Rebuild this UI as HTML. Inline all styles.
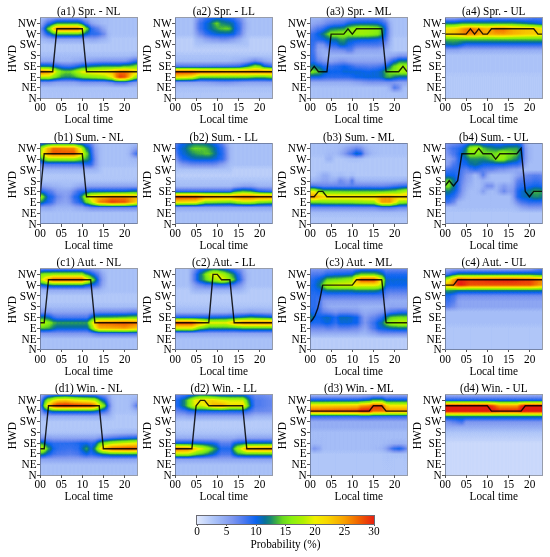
<!DOCTYPE html><html><head><meta charset="utf-8"><style>*{margin:0;padding:0;box-sizing:border-box}
html,body{width:550px;height:557px;background:#fff;overflow:hidden}
body{position:relative;font-family:"Liberation Serif","Times New Roman",serif;font-size:11.3px;color:#000}
.ax{position:absolute;width:97.2px;height:80.7px;overflow:hidden}
.hm{position:absolute;left:-12.68px;top:-4.0px;width:122.56px;height:88.7px;filter:url(#cm)}
.hm i{position:absolute;top:0;height:100%;width:12.68px;-webkit-mask-image:linear-gradient(90deg,transparent,#000 4.23px);mask-image:linear-gradient(90deg,transparent,#000 4.23px)}
.hm i.c0{left:0;width:16.90px;-webkit-mask-image:none;mask-image:none}
.fr{position:absolute;width:98.2px;height:81.7px;border:1px solid rgba(80,90,115,.6)}
.t{position:absolute;white-space:pre;line-height:1;transform:scaleY(1.08);transform-origin:50% 82%}
.tk{position:absolute;background:#555}
svg.ln{position:absolute;left:0;top:0;overflow:visible}
</style></head><body>
<svg width="0" height="0" style="position:absolute"><filter id="cm" color-interpolation-filters="sRGB" x="0" y="0" width="1" height="1"><feGaussianBlur stdDeviation="0.6"/><feComponentTransfer><feFuncR type="table" tableValues="0.886 0.85 0.813 0.776 0.74 0.703 0.667 0.638 0.609 0.58 0.55 0.52 0.49 0.44 0.39 0.34 0.29 0.227 0.165 0.102 0.039 0.037 0.034 0.031 0.067 0.102 0.176 0.251 0.329 0.408 0.45 0.492 0.533 0.573 0.612 0.651 0.69 0.753 0.816 0.878 0.941 0.949 0.957 0.965 0.973 0.973 0.973 0.973 0.973 0.973 0.973 0.966 0.96 0.954 0.947 0.941 0.935 0.929 0.922 0.916 0.91 0.898 0.886 0.875 0.863 0.851 0.839 0.827 0.816"/><feFuncG type="table" tableValues="0.918 0.892 0.865 0.839 0.813 0.787 0.761 0.733 0.706 0.678 0.65 0.621 0.592 0.562 0.531 0.501 0.471 0.451 0.431 0.412 0.392 0.408 0.424 0.439 0.49 0.541 0.616 0.69 0.769 0.847 0.878 0.91 0.941 0.941 0.941 0.941 0.941 0.941 0.941 0.941 0.941 0.918 0.894 0.871 0.847 0.81 0.774 0.737 0.701 0.664 0.627 0.577 0.527 0.477 0.427 0.376 0.326 0.276 0.226 0.176 0.125 0.118 0.11 0.102 0.094 0.086 0.078 0.071 0.063"/><feFuncB type="table" tableValues="0.992 0.99 0.987 0.984 0.98 0.976 0.973 0.967 0.962 0.957 0.952 0.946 0.941 0.941 0.941 0.941 0.941 0.941 0.941 0.941 0.941 0.829 0.716 0.604 0.522 0.439 0.345 0.251 0.188 0.125 0.105 0.084 0.063 0.047 0.031 0.016 0 0 0 0 0 0 0 0 0 0 0 0 0 0 0 0 0 0 0 0 0.013 0.025 0.038 0.05 0.063 0.059 0.055 0.051 0.047 0.043 0.039 0.035 0.031"/></feComponentTransfer></filter></svg>
<div class="ax" style="left:40.2px;top:17.7px"><div class="hm"><i class="c0" style="background:linear-gradient(#1a1a1a 4.0px,#1e1e1e 9.4px,#2d2d2d 14.8px,#262626 20.1px,#1a1a1a 25.5px,#141414 30.9px,#141414 36.3px,#1a1a1a 41.7px,#262626 47.0px,#5a5a5a 52.4px,#d2d2d2 57.8px,#878787 63.2px,#2d2d2d 68.6px,#181818 73.9px,#161616 79.3px,#161616 84.7px)"></i><i style="left:12.68px;background:linear-gradient(#1e1e1e 4.0px,#313131 9.4px,#474747 14.8px,#383838 20.1px,#1e1e1e 25.5px,#141414 30.9px,#141414 36.3px,#1a1a1a 41.7px,#262626 47.0px,#5a5a5a 52.4px,#cacaca 57.8px,#878787 63.2px,#2d2d2d 68.6px,#181818 73.9px,#161616 79.3px,#161616 84.7px)"></i><i style="left:16.90px;background:linear-gradient(#262626 4.0px,#444444 9.4px,#707070 14.8px,#4b4b4b 20.1px,#222222 25.5px,#141414 30.9px,#141414 36.3px,#1a1a1a 41.7px,#262626 47.0px,#5a5a5a 52.4px,#c3c3c3 57.8px,#878787 63.2px,#2d2d2d 68.6px,#181818 73.9px,#161616 79.3px,#161616 84.7px)"></i><i style="left:21.13px;background:linear-gradient(#292929 4.0px,#525252 9.4px,#a5a5a5 14.8px,#5e5e5e 20.1px,#262626 25.5px,#141414 30.9px,#141414 36.3px,#1a1a1a 41.7px,#262626 47.0px,#525252 52.4px,#a5a5a5 57.8px,#787878 63.2px,#292929 68.6px,#181818 73.9px,#161616 79.3px,#161616 84.7px)"></i><i style="left:25.36px;background:linear-gradient(#2d2d2d 4.0px,#626262 9.4px,#cacaca 14.8px,#696969 20.1px,#262626 25.5px,#141414 30.9px,#141414 36.3px,#1a1a1a 41.7px,#222222 47.0px,#4b4b4b 52.4px,#878787 57.8px,#6d6d6d 63.2px,#262626 68.6px,#181818 73.9px,#161616 79.3px,#161616 84.7px)"></i><i style="left:29.58px;background:linear-gradient(#2d2d2d 4.0px,#626262 9.4px,#d2d2d2 14.8px,#696969 20.1px,#262626 25.5px,#141414 30.9px,#141414 36.3px,#1a1a1a 41.7px,#1e1e1e 47.0px,#444444 52.4px,#747474 57.8px,#626262 63.2px,#262626 68.6px,#181818 73.9px,#161616 79.3px,#161616 84.7px)"></i><i style="left:33.81px;background:linear-gradient(#2d2d2d 4.0px,#626262 9.4px,#d2d2d2 14.8px,#696969 20.1px,#262626 25.5px,#141414 30.9px,#141414 36.3px,#1a1a1a 41.7px,#1e1e1e 47.0px,#404040 52.4px,#6d6d6d 57.8px,#5e5e5e 63.2px,#262626 68.6px,#181818 73.9px,#161616 79.3px,#161616 84.7px)"></i><i style="left:38.03px;background:linear-gradient(#2d2d2d 4.0px,#626262 9.4px,#d2d2d2 14.8px,#696969 20.1px,#262626 25.5px,#141414 30.9px,#141414 36.3px,#1a1a1a 41.7px,#1e1e1e 47.0px,#404040 52.4px,#6d6d6d 57.8px,#5e5e5e 63.2px,#262626 68.6px,#181818 73.9px,#161616 79.3px,#161616 84.7px)"></i><i style="left:42.26px;background:linear-gradient(#2d2d2d 4.0px,#626262 9.4px,#d2d2d2 14.8px,#696969 20.1px,#262626 25.5px,#141414 30.9px,#141414 36.3px,#1a1a1a 41.7px,#222222 47.0px,#444444 52.4px,#787878 57.8px,#626262 63.2px,#262626 68.6px,#181818 73.9px,#161616 79.3px,#161616 84.7px)"></i><i style="left:46.49px;background:linear-gradient(#2d2d2d 4.0px,#626262 9.4px,#d2d2d2 14.8px,#696969 20.1px,#262626 25.5px,#141414 30.9px,#141414 36.3px,#1a1a1a 41.7px,#222222 47.0px,#4b4b4b 52.4px,#878787 57.8px,#696969 63.2px,#292929 68.6px,#181818 73.9px,#161616 79.3px,#161616 84.7px)"></i><i style="left:50.71px;background:linear-gradient(#292929 4.0px,#525252 9.4px,#b4b4b4 14.8px,#626262 20.1px,#262626 25.5px,#141414 30.9px,#141414 36.3px,#1a1a1a 41.7px,#262626 47.0px,#525252 52.4px,#969696 57.8px,#707070 63.2px,#2d2d2d 68.6px,#181818 73.9px,#161616 79.3px,#161616 84.7px)"></i><i style="left:54.94px;background:linear-gradient(#222222 4.0px,#3c3c3c 9.4px,#707070 14.8px,#4f4f4f 20.1px,#222222 25.5px,#141414 30.9px,#141414 36.3px,#1a1a1a 41.7px,#272727 47.0px,#565656 52.4px,#9a9a9a 57.8px,#747474 63.2px,#2d2d2d 68.6px,#181818 73.9px,#161616 79.3px,#161616 84.7px)"></i><i style="left:59.17px;background:linear-gradient(#1a1a1a 4.0px,#292929 9.4px,#474747 14.8px,#444444 20.1px,#262626 25.5px,#141414 30.9px,#141414 36.3px,#1a1a1a 41.7px,#292929 47.0px,#5a5a5a 52.4px,#9e9e9e 57.8px,#787878 63.2px,#2d2d2d 68.6px,#181818 73.9px,#161616 79.3px,#161616 84.7px)"></i><i style="left:63.39px;background:linear-gradient(#1a1a1a 4.0px,#222222 9.4px,#3c3c3c 14.8px,#444444 20.1px,#262626 25.5px,#141414 30.9px,#141414 36.3px,#1a1a1a 41.7px,#2b2b2b 47.0px,#5d5d5d 52.4px,#a0a0a0 57.8px,#7a7a7a 63.2px,#2d2d2d 68.6px,#181818 73.9px,#161616 79.3px,#161616 84.7px)"></i><i style="left:67.62px;background:linear-gradient(#1a1a1a 4.0px,#1e1e1e 9.4px,#343434 14.8px,#404040 20.1px,#222222 25.5px,#141414 30.9px,#141414 36.3px,#1a1a1a 41.7px,#2c2c2c 47.0px,#5f5f5f 52.4px,#a3a3a3 57.8px,#7d7d7d 63.2px,#2d2d2d 68.6px,#181818 73.9px,#161616 79.3px,#161616 84.7px)"></i><i style="left:71.84px;background:linear-gradient(#1a1a1a 4.0px,#1a1a1a 9.4px,#262626 14.8px,#343434 20.1px,#1e1e1e 25.5px,#141414 30.9px,#141414 36.3px,#1a1a1a 41.7px,#2d2d2d 47.0px,#626262 52.4px,#a5a5a5 57.8px,#808080 63.2px,#2d2d2d 68.6px,#181818 73.9px,#161616 79.3px,#161616 84.7px)"></i><i style="left:76.07px;background:linear-gradient(#1a1a1a 4.0px,#1a1a1a 14.8px,#1e1e1e 20.1px,#1a1a1a 25.5px,#141414 30.9px,#141414 36.3px,#1a1a1a 41.7px,#2d2d2d 47.0px,#626262 52.4px,#acacac 57.8px,#8b8b8b 63.2px,#313131 68.6px,#181818 73.9px,#161616 79.3px,#161616 84.7px)"></i><i style="left:80.30px;background:linear-gradient(#181818 4.0px,#181818 20.1px,#141414 25.5px,#141414 36.3px,#1a1a1a 41.7px,#2d2d2d 47.0px,#626262 52.4px,#b4b4b4 57.8px,#969696 63.2px,#343434 68.6px,#181818 73.9px,#161616 79.3px,#161616 84.7px)"></i><i style="left:84.52px;background:linear-gradient(#181818 4.0px,#181818 20.1px,#141414 25.5px,#141414 36.3px,#1a1a1a 41.7px,#2d2d2d 47.0px,#626262 52.4px,#c3c3c3 57.8px,#c3c3c3 63.2px,#3c3c3c 68.6px,#181818 73.9px,#161616 79.3px,#161616 84.7px)"></i><i style="left:88.75px;background:linear-gradient(#181818 4.0px,#181818 20.1px,#141414 25.5px,#141414 36.3px,#1a1a1a 41.7px,#2d2d2d 47.0px,#626262 52.4px,#cacaca 57.8px,#dadada 63.2px,#3c3c3c 68.6px,#181818 73.9px,#161616 79.3px,#161616 84.7px)"></i><i style="left:92.97px;background:linear-gradient(#181818 4.0px,#181818 20.1px,#141414 25.5px,#141414 36.3px,#1a1a1a 41.7px,#2d2d2d 47.0px,#696969 52.4px,#cacaca 57.8px,#d2d2d2 63.2px,#3c3c3c 68.6px,#181818 73.9px,#161616 79.3px,#161616 84.7px)"></i><i style="left:97.20px;background:linear-gradient(#181818 4.0px,#181818 20.1px,#141414 25.5px,#141414 36.3px,#1a1a1a 41.7px,#343434 47.0px,#696969 52.4px,#c3c3c3 57.8px,#b4b4b4 63.2px,#343434 68.6px,#181818 73.9px,#161616 79.3px,#161616 84.7px)"></i><i style="left:101.43px;background:linear-gradient(#181818 4.0px,#181818 20.1px,#141414 25.5px,#141414 36.3px,#1e1e1e 41.7px,#3c3c3c 47.0px,#707070 52.4px,#b4b4b4 57.8px,#8e8e8e 63.2px,#2d2d2d 68.6px,#181818 73.9px,#161616 79.3px,#161616 84.7px)"></i><i style="left:105.65px;background:linear-gradient(#181818 4.0px,#181818 20.1px,#141414 25.5px,#141414 36.3px,#1e1e1e 41.7px,#444444 47.0px,#787878 52.4px,#a5a5a5 57.8px,#787878 63.2px,#292929 68.6px,#181818 73.9px,#161616 79.3px,#161616 84.7px)"></i></div><svg class="ln" width="97.2" height="80.7" viewBox="0 0 97.2 80.7"><polyline points="0.0,53.8 4.2,53.8 8.5,53.8 12.7,53.8 16.9,10.8 21.1,10.8 25.4,10.8 29.6,10.8 33.8,10.8 38.0,10.8 42.3,10.8 46.5,53.8 50.7,53.8 54.9,53.8 59.2,53.8 63.4,53.8 67.6,53.8 71.8,53.8 76.1,53.8 80.3,53.8 84.5,53.8 88.7,53.8 93.0,53.8 97.2,53.8" fill="none" stroke="#000" stroke-opacity=".85" stroke-width="1.4" stroke-linejoin="miter"/></svg></div>
<div class="fr" style="left:39.7px;top:17.2px"></div>
<div class="t" style="left:48.8px;width:80px;text-align:center;top:6.2px">(a1) Spr. - NL</div>
<div class="tk" style="left:37.4px;top:98.0px;width:2.8px;height:0.8px"></div>
<div class="t" style="right:513.4px;top:93.1px">N</div>
<div class="tk" style="left:37.4px;top:87.2px;width:2.8px;height:0.8px"></div>
<div class="t" style="right:513.4px;top:82.3px">NE</div>
<div class="tk" style="left:37.4px;top:76.5px;width:2.8px;height:0.8px"></div>
<div class="t" style="right:513.4px;top:71.6px">E</div>
<div class="tk" style="left:37.4px;top:65.7px;width:2.8px;height:0.8px"></div>
<div class="t" style="right:513.4px;top:60.8px">SE</div>
<div class="tk" style="left:37.4px;top:55.0px;width:2.8px;height:0.8px"></div>
<div class="t" style="right:513.4px;top:50.1px">S</div>
<div class="tk" style="left:37.4px;top:44.2px;width:2.8px;height:0.8px"></div>
<div class="t" style="right:513.4px;top:39.3px">SW</div>
<div class="tk" style="left:37.4px;top:33.4px;width:2.8px;height:0.8px"></div>
<div class="t" style="right:513.4px;top:28.5px">W</div>
<div class="tk" style="left:37.4px;top:22.7px;width:2.8px;height:0.8px"></div>
<div class="t" style="right:513.4px;top:17.8px">NW</div>
<div class="tk" style="left:39.8px;top:98.4px;width:0.8px;height:2.8px"></div>
<div class="t" style="left:25.2px;width:30px;text-align:center;top:102.4px">00</div>
<div class="tk" style="left:60.9px;top:98.4px;width:0.8px;height:2.8px"></div>
<div class="t" style="left:46.3px;width:30px;text-align:center;top:102.4px">05</div>
<div class="tk" style="left:82.1px;top:98.4px;width:0.8px;height:2.8px"></div>
<div class="t" style="left:67.5px;width:30px;text-align:center;top:102.4px">10</div>
<div class="tk" style="left:103.2px;top:98.4px;width:0.8px;height:2.8px"></div>
<div class="t" style="left:88.6px;width:30px;text-align:center;top:102.4px">15</div>
<div class="tk" style="left:124.3px;top:98.4px;width:0.8px;height:2.8px"></div>
<div class="t" style="left:109.7px;width:30px;text-align:center;top:102.4px">20</div>
<div class="t" style="left:58.8px;width:60px;text-align:center;top:114.4px">Local time</div>
<div class="t" style="left:-3.2px;top:53.0px;width:30px;text-align:center;transform-origin:50% 50%;transform:rotate(-90deg) scaleY(1.08)">HWD</div>
<div class="ax" style="left:175.2px;top:17.7px"><div class="hm"><i class="c0" style="background:linear-gradient(#181818 4.0px,#181818 20.1px,#101010 25.5px,#101010 36.3px,#161616 41.7px,#1a1a1a 47.0px,#3c3c3c 52.4px,#dadada 57.8px,#a5a5a5 63.2px,#262626 68.6px,#181818 73.9px,#151515 79.3px,#151515 84.7px)"></i><i style="left:12.68px;background:linear-gradient(#181818 4.0px,#181818 20.1px,#101010 25.5px,#101010 36.3px,#161616 41.7px,#1a1a1a 47.0px,#3c3c3c 52.4px,#dadada 57.8px,#a1a1a1 63.2px,#262626 68.6px,#181818 73.9px,#151515 79.3px,#151515 84.7px)"></i><i style="left:16.90px;background:linear-gradient(#181818 4.0px,#181818 20.1px,#101010 25.5px,#101010 36.3px,#161616 41.7px,#1a1a1a 47.0px,#3c3c3c 52.4px,#dadada 57.8px,#9e9e9e 63.2px,#262626 68.6px,#181818 73.9px,#151515 79.3px,#151515 84.7px)"></i><i style="left:21.13px;background:linear-gradient(#181818 4.0px,#181818 20.1px,#101010 25.5px,#101010 36.3px,#161616 41.7px,#1a1a1a 47.0px,#3c3c3c 52.4px,#dadada 57.8px,#9a9a9a 63.2px,#262626 68.6px,#181818 73.9px,#151515 79.3px,#151515 84.7px)"></i><i style="left:25.36px;background:linear-gradient(#181818 4.0px,#181818 20.1px,#101010 25.5px,#101010 36.3px,#161616 41.7px,#1a1a1a 47.0px,#3c3c3c 52.4px,#dadada 57.8px,#969696 63.2px,#262626 68.6px,#181818 73.9px,#151515 79.3px,#151515 84.7px)"></i><i style="left:29.58px;background:linear-gradient(#262626 4.0px,#2d2d2d 9.4px,#2d2d2d 14.8px,#262626 20.1px,#1a1a1a 25.5px,#161616 30.9px,#101010 36.3px,#161616 41.7px,#1a1a1a 47.0px,#3c3c3c 52.4px,#d6d6d6 57.8px,#838383 63.2px,#262626 68.6px,#181818 73.9px,#151515 79.3px,#151515 84.7px)"></i><i style="left:33.81px;background:linear-gradient(#343434 4.0px,#404040 9.4px,#404040 14.8px,#343434 20.1px,#1e1e1e 25.5px,#161616 30.9px,#101010 36.3px,#161616 41.7px,#1a1a1a 47.0px,#3c3c3c 52.4px,#d2d2d2 57.8px,#707070 63.2px,#262626 68.6px,#181818 73.9px,#151515 79.3px,#151515 84.7px)"></i><i style="left:38.03px;background:linear-gradient(#404040 4.0px,#4b4b4b 9.4px,#4b4b4b 14.8px,#404040 20.1px,#262626 25.5px,#161616 30.9px,#101010 36.3px,#161616 41.7px,#1a1a1a 47.0px,#3d3d3d 52.4px,#d1d1d1 57.8px,#707070 63.2px,#272727 68.6px,#181818 73.9px,#151515 79.3px,#151515 84.7px)"></i><i style="left:42.26px;background:linear-gradient(#444444 4.0px,#525252 9.4px,#525252 14.8px,#474747 20.1px,#292929 25.5px,#161616 30.9px,#101010 36.3px,#161616 41.7px,#1a1a1a 47.0px,#3d3d3d 52.4px,#d0d0d0 57.8px,#707070 63.2px,#282828 68.6px,#181818 73.9px,#151515 79.3px,#151515 84.7px)"></i><i style="left:46.49px;background:linear-gradient(#474747 4.0px,#626262 9.4px,#5a5a5a 14.8px,#4b4b4b 20.1px,#2d2d2d 25.5px,#161616 30.9px,#101010 36.3px,#161616 41.7px,#1a1a1a 47.0px,#3e3e3e 52.4px,#cecece 57.8px,#707070 63.2px,#292929 68.6px,#181818 73.9px,#151515 79.3px,#151515 84.7px)"></i><i style="left:50.71px;background:linear-gradient(#4b4b4b 4.0px,#6d6d6d 9.4px,#626262 14.8px,#4f4f4f 20.1px,#2d2d2d 25.5px,#161616 30.9px,#101010 36.3px,#161616 41.7px,#1a1a1a 47.0px,#3f3f3f 52.4px,#cdcdcd 57.8px,#707070 63.2px,#2b2b2b 68.6px,#181818 73.9px,#151515 79.3px,#151515 84.7px)"></i><i style="left:54.94px;background:linear-gradient(#4b4b4b 4.0px,#5e5e5e 9.4px,#696969 14.8px,#4f4f4f 20.1px,#313131 25.5px,#161616 30.9px,#101010 36.3px,#161616 41.7px,#1a1a1a 47.0px,#3f3f3f 52.4px,#cccccc 57.8px,#707070 63.2px,#2c2c2c 68.6px,#181818 73.9px,#151515 79.3px,#151515 84.7px)"></i><i style="left:59.17px;background:linear-gradient(#474747 4.0px,#6d6d6d 14.8px,#313131 25.5px,#161616 30.9px,#101010 36.3px,#161616 41.7px,#1a1a1a 47.0px,#404040 52.4px,#cacaca 57.8px,#707070 63.2px,#2d2d2d 68.6px,#181818 73.9px,#151515 79.3px,#151515 84.7px)"></i><i style="left:63.39px;background:linear-gradient(#444444 4.0px,#696969 14.8px,#4f4f4f 20.1px,#2d2d2d 25.5px,#161616 30.9px,#101010 36.3px,#1b1b1b 47.0px,#414141 52.4px,#cacaca 57.8px,#707070 63.2px,#2c2c2c 68.6px,#181818 73.9px,#151515 79.3px,#151515 84.7px)"></i><i style="left:67.62px;background:linear-gradient(#404040 4.0px,#4f4f4f 9.4px,#525252 14.8px,#4b4b4b 20.1px,#292929 25.5px,#161616 30.9px,#101010 36.3px,#1d1d1d 47.0px,#424242 52.4px,#cacaca 57.8px,#707070 63.2px,#2b2b2b 68.6px,#181818 73.9px,#151515 79.3px,#151515 84.7px)"></i><i style="left:71.84px;background:linear-gradient(#343434 4.0px,#404040 9.4px,#444444 14.8px,#3c3c3c 20.1px,#222222 25.5px,#161616 30.9px,#101010 36.3px,#161616 41.7px,#1e1e1e 47.0px,#444444 52.4px,#cacaca 57.8px,#707070 63.2px,#292929 68.6px,#181818 73.9px,#151515 79.3px,#151515 84.7px)"></i><i style="left:76.07px;background:linear-gradient(#262626 4.0px,#2d2d2d 9.4px,#2d2d2d 14.8px,#292929 20.1px,#1a1a1a 25.5px,#161616 30.9px,#101010 36.3px,#161616 41.7px,#222222 47.0px,#4f4f4f 52.4px,#cacaca 57.8px,#707070 63.2px,#272727 68.6px,#181818 73.9px,#151515 79.3px,#151515 84.7px)"></i><i style="left:80.30px;background:linear-gradient(#1a1a1a 4.0px,#1e1e1e 9.4px,#1e1e1e 14.8px,#161616 25.5px,#161616 30.9px,#101010 36.3px,#161616 41.7px,#262626 47.0px,#5a5a5a 52.4px,#cacaca 57.8px,#707070 63.2px,#262626 68.6px,#181818 73.9px,#151515 79.3px,#151515 84.7px)"></i><i style="left:84.52px;background:linear-gradient(#181818 4.0px,#181818 20.1px,#101010 25.5px,#101010 36.3px,#161616 41.7px,#2d2d2d 47.0px,#696969 52.4px,#cacaca 57.8px,#6d6d6d 63.2px,#262626 68.6px,#181818 73.9px,#151515 79.3px,#151515 84.7px)"></i><i style="left:88.75px;background:linear-gradient(#181818 4.0px,#181818 20.1px,#101010 25.5px,#101010 36.3px,#161616 41.7px,#343434 47.0px,#787878 52.4px,#cacaca 57.8px,#696969 63.2px,#262626 68.6px,#181818 73.9px,#151515 79.3px,#151515 84.7px)"></i><i style="left:92.97px;background:linear-gradient(#181818 4.0px,#181818 20.1px,#101010 25.5px,#101010 36.3px,#161616 41.7px,#2d2d2d 47.0px,#707070 52.4px,#cacaca 57.8px,#696969 63.2px,#262626 68.6px,#181818 73.9px,#151515 79.3px,#151515 84.7px)"></i><i style="left:97.20px;background:linear-gradient(#181818 4.0px,#181818 20.1px,#101010 25.5px,#101010 36.3px,#161616 41.7px,#262626 47.0px,#525252 52.4px,#cacaca 57.8px,#696969 63.2px,#262626 68.6px,#181818 73.9px,#151515 79.3px,#151515 84.7px)"></i><i style="left:101.43px;background:linear-gradient(#181818 4.0px,#181818 20.1px,#101010 25.5px,#101010 36.3px,#161616 41.7px,#222222 47.0px,#4b4b4b 52.4px,#cacaca 57.8px,#6d6d6d 63.2px,#262626 68.6px,#181818 73.9px,#151515 79.3px,#151515 84.7px)"></i><i style="left:105.65px;background:linear-gradient(#181818 4.0px,#181818 20.1px,#101010 25.5px,#101010 36.3px,#161616 41.7px,#1e1e1e 47.0px,#444444 52.4px,#cacaca 57.8px,#707070 63.2px,#262626 68.6px,#181818 73.9px,#151515 79.3px,#151515 84.7px)"></i></div><svg class="ln" width="97.2" height="80.7" viewBox="0 0 97.2 80.7"><polyline points="0.0,53.8 4.2,53.8 8.5,53.8 12.7,53.8 16.9,53.8 21.1,53.8 25.4,53.8 29.6,53.8 33.8,53.8 38.0,53.8 42.3,53.8 46.5,53.8 50.7,53.8 54.9,53.8 59.2,53.8 63.4,53.8 67.6,53.8 71.8,53.8 76.1,53.8 80.3,53.8 84.5,53.8 88.7,53.8 93.0,53.8 97.2,53.8" fill="none" stroke="#000" stroke-opacity=".85" stroke-width="1.4" stroke-linejoin="miter"/></svg></div>
<div class="fr" style="left:174.7px;top:17.2px"></div>
<div class="t" style="left:183.8px;width:80px;text-align:center;top:6.2px">(a2) Spr. - LL</div>
<div class="tk" style="left:172.4px;top:98.0px;width:2.8px;height:0.8px"></div>
<div class="t" style="right:378.4px;top:93.1px">N</div>
<div class="tk" style="left:172.4px;top:87.2px;width:2.8px;height:0.8px"></div>
<div class="t" style="right:378.4px;top:82.3px">NE</div>
<div class="tk" style="left:172.4px;top:76.5px;width:2.8px;height:0.8px"></div>
<div class="t" style="right:378.4px;top:71.6px">E</div>
<div class="tk" style="left:172.4px;top:65.7px;width:2.8px;height:0.8px"></div>
<div class="t" style="right:378.4px;top:60.8px">SE</div>
<div class="tk" style="left:172.4px;top:55.0px;width:2.8px;height:0.8px"></div>
<div class="t" style="right:378.4px;top:50.1px">S</div>
<div class="tk" style="left:172.4px;top:44.2px;width:2.8px;height:0.8px"></div>
<div class="t" style="right:378.4px;top:39.3px">SW</div>
<div class="tk" style="left:172.4px;top:33.4px;width:2.8px;height:0.8px"></div>
<div class="t" style="right:378.4px;top:28.5px">W</div>
<div class="tk" style="left:172.4px;top:22.7px;width:2.8px;height:0.8px"></div>
<div class="t" style="right:378.4px;top:17.8px">NW</div>
<div class="tk" style="left:174.8px;top:98.4px;width:0.8px;height:2.8px"></div>
<div class="t" style="left:160.2px;width:30px;text-align:center;top:102.4px">00</div>
<div class="tk" style="left:195.9px;top:98.4px;width:0.8px;height:2.8px"></div>
<div class="t" style="left:181.3px;width:30px;text-align:center;top:102.4px">05</div>
<div class="tk" style="left:217.1px;top:98.4px;width:0.8px;height:2.8px"></div>
<div class="t" style="left:202.5px;width:30px;text-align:center;top:102.4px">10</div>
<div class="tk" style="left:238.2px;top:98.4px;width:0.8px;height:2.8px"></div>
<div class="t" style="left:223.6px;width:30px;text-align:center;top:102.4px">15</div>
<div class="tk" style="left:259.3px;top:98.4px;width:0.8px;height:2.8px"></div>
<div class="t" style="left:244.7px;width:30px;text-align:center;top:102.4px">20</div>
<div class="t" style="left:193.8px;width:60px;text-align:center;top:114.4px">Local time</div>
<div class="t" style="left:131.8px;top:53.0px;width:30px;text-align:center;transform-origin:50% 50%;transform:rotate(-90deg) scaleY(1.08)">HWD</div>
<div class="ax" style="left:310.2px;top:17.7px"><div class="hm"><i class="c0" style="background:linear-gradient(#1e1e1e 4.0px,#222222 9.4px,#2d2d2d 14.8px,#404040 20.1px,#444444 25.5px,#444444 47.0px,#5a5a5a 52.4px,#787878 57.8px,#4b4b4b 63.2px,#222222 68.6px,#181818 73.9px,#181818 84.7px)"></i><i style="left:12.68px;background:linear-gradient(#1e1e1e 4.0px,#262626 9.4px,#343434 14.8px,#444444 20.1px,#444444 25.5px,#3c3c3c 36.3px,#444444 47.0px,#707070 57.8px,#4b4b4b 63.2px,#222222 68.6px,#181818 73.9px,#181818 84.7px)"></i><i style="left:16.90px;background:linear-gradient(#1e1e1e 4.0px,#292929 9.4px,#4f4f4f 20.1px,#474747 25.5px,#2d2d2d 30.9px,#262626 36.3px,#292929 41.7px,#343434 47.0px,#525252 52.4px,#696969 57.8px,#4b4b4b 63.2px,#222222 68.6px,#181818 73.9px,#181818 84.7px)"></i><i style="left:21.13px;background:linear-gradient(#222222 4.0px,#2d2d2d 9.4px,#5a5a5a 20.1px,#4b4b4b 25.5px,#2d2d2d 30.9px,#222222 36.3px,#222222 41.7px,#2d2d2d 47.0px,#474747 52.4px,#5a5a5a 57.8px,#474747 63.2px,#222222 68.6px,#181818 73.9px,#181818 84.7px)"></i><i style="left:25.36px;background:linear-gradient(#262626 4.0px,#343434 9.4px,#696969 20.1px,#262626 36.3px,#1e1e1e 41.7px,#292929 47.0px,#444444 52.4px,#4f4f4f 57.8px,#444444 63.2px,#222222 68.6px,#181818 73.9px,#181818 84.7px)"></i><i style="left:29.58px;background:linear-gradient(#262626 4.0px,#383838 9.4px,#5a5a5a 14.8px,#787878 20.1px,#565656 25.5px,#444444 30.9px,#2d2d2d 36.3px,#1e1e1e 41.7px,#262626 47.0px,#404040 52.4px,#4b4b4b 57.8px,#444444 63.2px,#222222 68.6px,#181818 73.9px,#181818 84.7px)"></i><i style="left:33.81px;background:linear-gradient(#272727 4.0px,#3b3b3b 9.4px,#5d5d5d 14.8px,#797979 20.1px,#585858 25.5px,#464646 30.9px,#2e2e2e 36.3px,#1e1e1e 41.7px,#292929 47.0px,#444444 52.4px,#4b4b4b 57.8px,#444444 63.2px,#222222 68.6px,#181818 73.9px,#181818 84.7px)"></i><i style="left:38.03px;background:linear-gradient(#282828 4.0px,#3d3d3d 9.4px,#5f5f5f 14.8px,#7b7b7b 20.1px,#626262 25.5px,#535353 30.9px,#303030 36.3px,#1e1e1e 41.7px,#2d2d2d 47.0px,#474747 52.4px,#4b4b4b 57.8px,#444444 63.2px,#222222 68.6px,#181818 73.9px,#181818 84.7px)"></i><i style="left:42.26px;background:linear-gradient(#292929 4.0px,#404040 9.4px,#626262 14.8px,#7c7c7c 20.1px,#636363 25.5px,#555555 30.9px,#323232 36.3px,#1e1e1e 41.7px,#2d2d2d 47.0px,#4b4b4b 52.4px,#4f4f4f 57.8px,#444444 63.2px,#222222 68.6px,#181818 73.9px,#181818 84.7px)"></i><i style="left:46.49px;background:linear-gradient(#2d2d2d 4.0px,#4b4b4b 9.4px,#717171 14.8px,#787878 20.1px,#575757 25.5px,#4a4a4a 30.9px,#3a3a3a 36.3px,#1f1f1f 41.7px,#292929 47.0px,#474747 52.4px,#4f4f4f 57.8px,#444444 63.2px,#222222 68.6px,#181818 73.9px,#181818 84.7px)"></i><i style="left:50.71px;background:linear-gradient(#313131 4.0px,#4f4f4f 9.4px,#787878 14.8px,#7c7c7c 20.1px,#535353 25.5px,#464646 30.9px,#373737 36.3px,#1f1f1f 41.7px,#272727 47.0px,#424242 52.4px,#4f4f4f 57.8px,#474747 63.2px,#242424 68.6px,#181818 73.9px,#181818 84.7px)"></i><i style="left:54.94px;background:linear-gradient(#333333 4.0px,#515151 9.4px,#7e7e7e 14.8px,#7e7e7e 20.1px,#515151 25.5px,#3e3e3e 30.9px,#282828 36.3px,#1e1e1e 41.7px,#262626 47.0px,#3c3c3c 52.4px,#4f4f4f 57.8px,#4b4b4b 63.2px,#262626 68.6px,#181818 73.9px,#181818 84.7px)"></i><i style="left:59.17px;background:linear-gradient(#343434 4.0px,#525252 9.4px,#838383 14.8px,#808080 20.1px,#4f4f4f 25.5px,#3c3c3c 30.9px,#262626 36.3px,#1e1e1e 41.7px,#262626 47.0px,#3b3b3b 52.4px,#4e4e4e 57.8px,#4c4c4c 63.2px,#282828 68.6px,#181818 73.9px,#181818 84.7px)"></i><i style="left:63.39px;background:linear-gradient(#343434 4.0px,#525252 9.4px,#818181 14.8px,#7e7e7e 20.1px,#4f4f4f 25.5px,#3c3c3c 30.9px,#262626 36.3px,#1e1e1e 41.7px,#262626 47.0px,#3a3a3a 52.4px,#4c4c4c 57.8px,#4e4e4e 63.2px,#2b2b2b 68.6px,#181818 73.9px,#181818 84.7px)"></i><i style="left:67.62px;background:linear-gradient(#343434 4.0px,#525252 9.4px,#808080 14.8px,#7c7c7c 20.1px,#4f4f4f 25.5px,#3c3c3c 30.9px,#262626 36.3px,#1e1e1e 41.7px,#262626 47.0px,#4b4b4b 57.8px,#4f4f4f 63.2px,#2d2d2d 68.6px,#181818 73.9px,#181818 84.7px)"></i><i style="left:71.84px;background:linear-gradient(#343434 4.0px,#515151 9.4px,#7c7c7c 14.8px,#787878 20.1px,#4d4d4d 25.5px,#3c3c3c 30.9px,#262626 36.3px,#1e1e1e 41.7px,#262626 47.0px,#4d4d4d 57.8px,#4f4f4f 63.2px,#2d2d2d 68.6px,#181818 73.9px,#181818 84.7px)"></i><i style="left:76.07px;background:linear-gradient(#343434 4.0px,#4f4f4f 9.4px,#787878 14.8px,#747474 20.1px,#4b4b4b 25.5px,#3c3c3c 30.9px,#262626 36.3px,#1e1e1e 41.7px,#262626 47.0px,#3c3c3c 52.4px,#4f4f4f 57.8px,#4f4f4f 63.2px,#2d2d2d 68.6px,#181818 73.9px,#181818 84.7px)"></i><i style="left:80.30px;background:linear-gradient(#313131 4.0px,#474747 9.4px,#656565 14.8px,#626262 20.1px,#474747 25.5px,#383838 30.9px,#222222 36.3px,#1e1e1e 41.7px,#262626 47.0px,#404040 52.4px,#565656 57.8px,#535353 63.2px,#2d2d2d 68.6px,#181818 73.9px,#181818 84.7px)"></i><i style="left:84.52px;background:linear-gradient(#262626 4.0px,#3c3c3c 9.4px,#474747 14.8px,#444444 20.1px,#3c3c3c 25.5px,#1e1e1e 36.3px,#1e1e1e 41.7px,#2d2d2d 47.0px,#696969 57.8px,#626262 63.2px,#2d2d2d 68.6px,#191919 73.9px,#181818 84.7px)"></i><i style="left:88.75px;background:linear-gradient(#1a1a1a 4.0px,#222222 9.4px,#262626 14.8px,#262626 20.1px,#1a1a1a 36.3px,#222222 41.7px,#3c3c3c 47.0px,#5a5a5a 52.4px,#717171 57.8px,#656565 63.2px,#2e2e2e 68.6px,#222222 73.9px,#181818 79.3px,#181818 84.7px)"></i><i style="left:92.97px;background:linear-gradient(#181818 4.0px,#181818 20.1px,#141414 25.5px,#141414 36.3px,#262626 41.7px,#707070 52.4px,#787878 57.8px,#5a5a5a 63.2px,#2c2c2c 68.6px,#3a3a3a 73.9px,#191919 79.3px,#181818 84.7px)"></i><i style="left:97.20px;background:linear-gradient(#181818 4.0px,#181818 20.1px,#141414 25.5px,#141414 36.3px,#2d2d2d 41.7px,#5a5a5a 47.0px,#808080 52.4px,#808080 57.8px,#535353 63.2px,#282828 68.6px,#313131 73.9px,#191919 79.3px,#181818 84.7px)"></i><i style="left:101.43px;background:linear-gradient(#181818 4.0px,#181818 20.1px,#141414 25.5px,#141414 36.3px,#2d2d2d 41.7px,#5a5a5a 47.0px,#808080 52.4px,#808080 57.8px,#262626 68.6px,#1c1c1c 73.9px,#181818 79.3px,#181818 84.7px)"></i><i style="left:105.65px;background:linear-gradient(#181818 4.0px,#181818 20.1px,#141414 25.5px,#141414 36.3px,#2d2d2d 41.7px,#5a5a5a 47.0px,#808080 52.4px,#808080 57.8px,#262626 68.6px,#181818 73.9px,#181818 84.7px)"></i></div><svg class="ln" width="97.2" height="80.7" viewBox="0 0 97.2 80.7"><polyline points="0.0,53.8 4.2,48.4 8.5,53.8 12.7,53.8 16.9,53.8 21.1,16.1 25.4,16.1 29.6,16.1 33.8,16.1 38.0,10.8 42.3,16.1 46.5,10.8 50.7,10.8 54.9,10.8 59.2,10.8 63.4,10.8 67.6,10.8 71.8,10.8 76.1,53.8 80.3,53.8 84.5,53.8 88.7,53.8 93.0,48.4 97.2,53.8" fill="none" stroke="#000" stroke-opacity=".85" stroke-width="1.4" stroke-linejoin="miter"/></svg></div>
<div class="fr" style="left:309.7px;top:17.2px"></div>
<div class="t" style="left:318.8px;width:80px;text-align:center;top:6.2px">(a3) Spr. - ML</div>
<div class="tk" style="left:307.4px;top:98.0px;width:2.8px;height:0.8px"></div>
<div class="t" style="right:243.4px;top:93.1px">N</div>
<div class="tk" style="left:307.4px;top:87.2px;width:2.8px;height:0.8px"></div>
<div class="t" style="right:243.4px;top:82.3px">NE</div>
<div class="tk" style="left:307.4px;top:76.5px;width:2.8px;height:0.8px"></div>
<div class="t" style="right:243.4px;top:71.6px">E</div>
<div class="tk" style="left:307.4px;top:65.7px;width:2.8px;height:0.8px"></div>
<div class="t" style="right:243.4px;top:60.8px">SE</div>
<div class="tk" style="left:307.4px;top:55.0px;width:2.8px;height:0.8px"></div>
<div class="t" style="right:243.4px;top:50.1px">S</div>
<div class="tk" style="left:307.4px;top:44.2px;width:2.8px;height:0.8px"></div>
<div class="t" style="right:243.4px;top:39.3px">SW</div>
<div class="tk" style="left:307.4px;top:33.4px;width:2.8px;height:0.8px"></div>
<div class="t" style="right:243.4px;top:28.5px">W</div>
<div class="tk" style="left:307.4px;top:22.7px;width:2.8px;height:0.8px"></div>
<div class="t" style="right:243.4px;top:17.8px">NW</div>
<div class="tk" style="left:309.8px;top:98.4px;width:0.8px;height:2.8px"></div>
<div class="t" style="left:295.2px;width:30px;text-align:center;top:102.4px">00</div>
<div class="tk" style="left:330.9px;top:98.4px;width:0.8px;height:2.8px"></div>
<div class="t" style="left:316.3px;width:30px;text-align:center;top:102.4px">05</div>
<div class="tk" style="left:352.1px;top:98.4px;width:0.8px;height:2.8px"></div>
<div class="t" style="left:337.5px;width:30px;text-align:center;top:102.4px">10</div>
<div class="tk" style="left:373.2px;top:98.4px;width:0.8px;height:2.8px"></div>
<div class="t" style="left:358.6px;width:30px;text-align:center;top:102.4px">15</div>
<div class="tk" style="left:394.3px;top:98.4px;width:0.8px;height:2.8px"></div>
<div class="t" style="left:379.7px;width:30px;text-align:center;top:102.4px">20</div>
<div class="t" style="left:328.8px;width:60px;text-align:center;top:114.4px">Local time</div>
<div class="t" style="left:266.8px;top:53.0px;width:30px;text-align:center;transform-origin:50% 50%;transform:rotate(-90deg) scaleY(1.08)">HWD</div>
<div class="ax" style="left:445.2px;top:17.7px"><div class="hm"><i class="c0" style="background:linear-gradient(#262626 4.0px,#5a5a5a 9.4px,#9e9e9e 14.8px,#a9a9a9 20.1px,#696969 25.5px,#525252 30.9px,#262626 36.3px,#161616 41.7px,#161616 57.8px,#131313 63.2px,#131313 84.7px)"></i><i style="left:12.68px;background:linear-gradient(#262626 4.0px,#5a5a5a 9.4px,#a1a1a1 14.8px,#acacac 20.1px,#696969 25.5px,#545454 30.9px,#262626 36.3px,#161616 41.7px,#161616 57.8px,#131313 63.2px,#131313 84.7px)"></i><i style="left:16.90px;background:linear-gradient(#262626 4.0px,#5a5a5a 9.4px,#a5a5a5 14.8px,#b0b0b0 20.1px,#696969 25.5px,#565656 30.9px,#262626 36.3px,#161616 41.7px,#161616 57.8px,#131313 63.2px,#131313 84.7px)"></i><i style="left:21.13px;background:linear-gradient(#292929 4.0px,#5e5e5e 9.4px,#acacac 14.8px,#b8b8b8 20.1px,#696969 25.5px,#525252 30.9px,#262626 36.3px,#161616 41.7px,#161616 57.8px,#131313 63.2px,#131313 84.7px)"></i><i style="left:25.36px;background:linear-gradient(#2d2d2d 4.0px,#626262 9.4px,#bcbcbc 14.8px,#bfbfbf 20.1px,#696969 25.5px,#4b4b4b 30.9px,#222222 36.3px,#161616 41.7px,#161616 57.8px,#131313 63.2px,#131313 84.7px)"></i><i style="left:29.58px;background:linear-gradient(#313131 4.0px,#626262 9.4px,#c3c3c3 14.8px,#c7c7c7 20.1px,#696969 25.5px,#444444 30.9px,#222222 36.3px,#161616 41.7px,#161616 57.8px,#131313 63.2px,#131313 84.7px)"></i><i style="left:33.81px;background:linear-gradient(#313131 4.0px,#626262 9.4px,#cacaca 14.8px,#c3c3c3 20.1px,#696969 25.5px,#444444 30.9px,#222222 36.3px,#161616 41.7px,#161616 57.8px,#131313 63.2px,#131313 84.7px)"></i><i style="left:38.03px;background:linear-gradient(#313131 4.0px,#626262 9.4px,#c3c3c3 14.8px,#c7c7c7 20.1px,#696969 25.5px,#444444 30.9px,#222222 36.3px,#161616 41.7px,#161616 57.8px,#131313 63.2px,#131313 84.7px)"></i><i style="left:42.26px;background:linear-gradient(#313131 4.0px,#626262 9.4px,#bfbfbf 14.8px,#bcbcbc 20.1px,#696969 25.5px,#444444 30.9px,#222222 36.3px,#161616 41.7px,#161616 57.8px,#131313 63.2px,#131313 84.7px)"></i><i style="left:46.49px;background:linear-gradient(#313131 4.0px,#626262 9.4px,#bababa 14.8px,#bababa 20.1px,#696969 25.5px,#444444 30.9px,#222222 36.3px,#161616 41.7px,#161616 57.8px,#131313 63.2px,#131313 84.7px)"></i><i style="left:50.71px;background:linear-gradient(#313131 4.0px,#626262 9.4px,#b4b4b4 14.8px,#b8b8b8 20.1px,#696969 25.5px,#444444 30.9px,#222222 36.3px,#161616 41.7px,#161616 57.8px,#131313 63.2px,#131313 84.7px)"></i><i style="left:54.94px;background:linear-gradient(#343434 4.0px,#626262 9.4px,#bfbfbf 14.8px,#b8b8b8 20.1px,#696969 25.5px,#444444 30.9px,#222222 36.3px,#161616 41.7px,#161616 57.8px,#131313 63.2px,#131313 84.7px)"></i><i style="left:59.17px;background:linear-gradient(#343434 4.0px,#626262 9.4px,#cacaca 14.8px,#bcbcbc 20.1px,#696969 25.5px,#444444 30.9px,#222222 36.3px,#161616 41.7px,#161616 57.8px,#131313 63.2px,#131313 84.7px)"></i><i style="left:63.39px;background:linear-gradient(#343434 4.0px,#626262 9.4px,#cacaca 14.8px,#bcbcbc 20.1px,#696969 25.5px,#444444 30.9px,#222222 36.3px,#161616 41.7px,#161616 57.8px,#131313 63.2px,#131313 84.7px)"></i><i style="left:67.62px;background:linear-gradient(#343434 4.0px,#626262 9.4px,#cacaca 14.8px,#bcbcbc 20.1px,#696969 25.5px,#444444 30.9px,#222222 36.3px,#161616 41.7px,#161616 57.8px,#131313 63.2px,#131313 84.7px)"></i><i style="left:71.84px;background:linear-gradient(#343434 4.0px,#626262 9.4px,#c1c1c1 14.8px,#b8b8b8 20.1px,#696969 25.5px,#444444 30.9px,#222222 36.3px,#161616 41.7px,#161616 57.8px,#131313 63.2px,#131313 84.7px)"></i><i style="left:76.07px;background:linear-gradient(#343434 4.0px,#626262 9.4px,#b8b8b8 14.8px,#b4b4b4 20.1px,#696969 25.5px,#444444 30.9px,#222222 36.3px,#161616 41.7px,#161616 57.8px,#131313 63.2px,#131313 84.7px)"></i><i style="left:80.30px;background:linear-gradient(#343434 4.0px,#5f5f5f 9.4px,#b5b5b5 14.8px,#b2b2b2 20.1px,#696969 25.5px,#444444 30.9px,#222222 36.3px,#161616 41.7px,#161616 57.8px,#131313 63.2px,#131313 84.7px)"></i><i style="left:84.52px;background:linear-gradient(#343434 4.0px,#5d5d5d 9.4px,#b3b3b3 14.8px,#afafaf 20.1px,#696969 25.5px,#444444 30.9px,#222222 36.3px,#161616 41.7px,#161616 57.8px,#131313 63.2px,#131313 84.7px)"></i><i style="left:88.75px;background:linear-gradient(#343434 4.0px,#5a5a5a 9.4px,#b0b0b0 14.8px,#acacac 20.1px,#696969 25.5px,#444444 30.9px,#222222 36.3px,#161616 41.7px,#161616 57.8px,#131313 63.2px,#131313 84.7px)"></i><i style="left:92.97px;background:linear-gradient(#383838 4.0px,#565656 9.4px,#aeaeae 14.8px,#ababab 20.1px,#696969 25.5px,#444444 30.9px,#222222 36.3px,#161616 41.7px,#161616 57.8px,#131313 63.2px,#131313 84.7px)"></i><i style="left:97.20px;background:linear-gradient(#3c3c3c 4.0px,#525252 9.4px,#acacac 14.8px,#a9a9a9 20.1px,#696969 25.5px,#444444 30.9px,#222222 36.3px,#161616 41.7px,#161616 57.8px,#131313 63.2px,#131313 84.7px)"></i><i style="left:101.43px;background:linear-gradient(#3c3c3c 4.0px,#4f4f4f 9.4px,#a5a5a5 14.8px,#a9a9a9 20.1px,#696969 25.5px,#444444 30.9px,#222222 36.3px,#161616 41.7px,#161616 57.8px,#131313 63.2px,#131313 84.7px)"></i><i style="left:105.65px;background:linear-gradient(#3c3c3c 4.0px,#4b4b4b 9.4px,#9e9e9e 14.8px,#a5a5a5 20.1px,#696969 25.5px,#444444 30.9px,#222222 36.3px,#161616 41.7px,#161616 57.8px,#131313 63.2px,#131313 84.7px)"></i></div><svg class="ln" width="97.2" height="80.7" viewBox="0 0 97.2 80.7"><polyline points="0.0,16.1 4.2,16.1 8.5,16.1 12.7,16.1 16.9,16.1 21.1,16.1 25.4,10.8 29.6,16.1 33.8,10.8 38.0,16.1 42.3,16.1 46.5,10.8 50.7,10.8 54.9,10.8 59.2,10.8 63.4,10.8 67.6,10.8 71.8,10.8 76.1,10.8 80.3,10.8 84.5,10.8 88.7,10.8 93.0,16.1 97.2,16.1" fill="none" stroke="#000" stroke-opacity=".85" stroke-width="1.4" stroke-linejoin="miter"/></svg></div>
<div class="fr" style="left:444.7px;top:17.2px"></div>
<div class="t" style="left:453.8px;width:80px;text-align:center;top:6.2px">(a4) Spr. - UL</div>
<div class="tk" style="left:442.4px;top:98.0px;width:2.8px;height:0.8px"></div>
<div class="t" style="right:108.4px;top:93.1px">N</div>
<div class="tk" style="left:442.4px;top:87.2px;width:2.8px;height:0.8px"></div>
<div class="t" style="right:108.4px;top:82.3px">NE</div>
<div class="tk" style="left:442.4px;top:76.5px;width:2.8px;height:0.8px"></div>
<div class="t" style="right:108.4px;top:71.6px">E</div>
<div class="tk" style="left:442.4px;top:65.7px;width:2.8px;height:0.8px"></div>
<div class="t" style="right:108.4px;top:60.8px">SE</div>
<div class="tk" style="left:442.4px;top:55.0px;width:2.8px;height:0.8px"></div>
<div class="t" style="right:108.4px;top:50.1px">S</div>
<div class="tk" style="left:442.4px;top:44.2px;width:2.8px;height:0.8px"></div>
<div class="t" style="right:108.4px;top:39.3px">SW</div>
<div class="tk" style="left:442.4px;top:33.4px;width:2.8px;height:0.8px"></div>
<div class="t" style="right:108.4px;top:28.5px">W</div>
<div class="tk" style="left:442.4px;top:22.7px;width:2.8px;height:0.8px"></div>
<div class="t" style="right:108.4px;top:17.8px">NW</div>
<div class="tk" style="left:444.8px;top:98.4px;width:0.8px;height:2.8px"></div>
<div class="t" style="left:430.2px;width:30px;text-align:center;top:102.4px">00</div>
<div class="tk" style="left:465.9px;top:98.4px;width:0.8px;height:2.8px"></div>
<div class="t" style="left:451.3px;width:30px;text-align:center;top:102.4px">05</div>
<div class="tk" style="left:487.1px;top:98.4px;width:0.8px;height:2.8px"></div>
<div class="t" style="left:472.5px;width:30px;text-align:center;top:102.4px">10</div>
<div class="tk" style="left:508.2px;top:98.4px;width:0.8px;height:2.8px"></div>
<div class="t" style="left:493.6px;width:30px;text-align:center;top:102.4px">15</div>
<div class="tk" style="left:529.3px;top:98.4px;width:0.8px;height:2.8px"></div>
<div class="t" style="left:514.7px;width:30px;text-align:center;top:102.4px">20</div>
<div class="t" style="left:463.8px;width:60px;text-align:center;top:114.4px">Local time</div>
<div class="t" style="left:401.8px;top:53.0px;width:30px;text-align:center;transform-origin:50% 50%;transform:rotate(-90deg) scaleY(1.08)">HWD</div>
<div class="ax" style="left:40.2px;top:143.3px"><div class="hm"><i class="c0" style="background:linear-gradient(#3c3c3c 4.0px,#787878 9.4px,#808080 14.8px,#343434 25.5px,#1e1e1e 30.9px,#141414 36.3px,#161616 41.7px,#262626 47.0px,#4b4b4b 52.4px,#878787 57.8px,#626262 63.2px,#262626 68.6px,#181818 73.9px,#181818 84.7px)"></i><i style="left:12.68px;background:linear-gradient(#444444 4.0px,#969696 9.4px,#a5a5a5 14.8px,#3c3c3c 25.5px,#1e1e1e 30.9px,#141414 36.3px,#161616 41.7px,#262626 47.0px,#444444 52.4px,#696969 57.8px,#525252 63.2px,#262626 68.6px,#181818 73.9px,#181818 84.7px)"></i><i style="left:16.90px;background:linear-gradient(#4b4b4b 4.0px,#b4b4b4 9.4px,#c3c3c3 14.8px,#3c3c3c 25.5px,#1e1e1e 30.9px,#141414 36.3px,#161616 41.7px,#222222 47.0px,#3c3c3c 52.4px,#4b4b4b 57.8px,#474747 63.2px,#262626 68.6px,#181818 73.9px,#181818 84.7px)"></i><i style="left:21.13px;background:linear-gradient(#4b4b4b 4.0px,#cacaca 9.4px,#d2d2d2 14.8px,#808080 20.1px,#3c3c3c 25.5px,#1e1e1e 30.9px,#141414 36.3px,#161616 41.7px,#1e1e1e 47.0px,#343434 52.4px,#444444 57.8px,#3c3c3c 63.2px,#222222 68.6px,#181818 73.9px,#181818 84.7px)"></i><i style="left:25.36px;background:linear-gradient(#4b4b4b 4.0px,#c9c9c9 9.4px,#d2d2d2 14.8px,#808080 20.1px,#3c3c3c 25.5px,#1e1e1e 30.9px,#141414 36.3px,#161616 41.7px,#1e1e1e 47.0px,#343434 57.8px,#2d2d2d 63.2px,#1e1e1e 68.6px,#181818 73.9px,#181818 84.7px)"></i><i style="left:29.58px;background:linear-gradient(#4b4b4b 4.0px,#c8c8c8 9.4px,#d2d2d2 14.8px,#808080 20.1px,#3c3c3c 25.5px,#1e1e1e 30.9px,#141414 36.3px,#161616 41.7px,#1c1c1c 47.0px,#272727 52.4px,#2f2f2f 57.8px,#292929 63.2px,#1e1e1e 68.6px,#181818 73.9px,#181818 84.7px)"></i><i style="left:33.81px;background:linear-gradient(#4b4b4b 4.0px,#c6c6c6 9.4px,#d2d2d2 14.8px,#808080 20.1px,#3c3c3c 25.5px,#1e1e1e 30.9px,#141414 36.3px,#161616 41.7px,#1a1a1a 47.0px,#262626 52.4px,#292929 57.8px,#262626 63.2px,#1e1e1e 68.6px,#181818 73.9px,#181818 84.7px)"></i><i style="left:38.03px;background:linear-gradient(#4b4b4b 4.0px,#c4c4c4 9.4px,#d2d2d2 14.8px,#808080 20.1px,#3c3c3c 25.5px,#1e1e1e 30.9px,#141414 36.3px,#161616 41.7px,#1a1a1a 47.0px,#292929 52.4px,#313131 57.8px,#2d2d2d 63.2px,#1e1e1e 68.6px,#181818 73.9px,#181818 84.7px)"></i><i style="left:42.26px;background:linear-gradient(#4b4b4b 4.0px,#c3c3c3 9.4px,#d2d2d2 14.8px,#808080 20.1px,#3c3c3c 25.5px,#1e1e1e 30.9px,#141414 36.3px,#161616 41.7px,#1e1e1e 47.0px,#343434 52.4px,#444444 57.8px,#3c3c3c 63.2px,#222222 68.6px,#181818 73.9px,#181818 84.7px)"></i><i style="left:46.49px;background:linear-gradient(#444444 4.0px,#a5a5a5 9.4px,#bcbcbc 14.8px,#787878 20.1px,#3c3c3c 25.5px,#1e1e1e 30.9px,#141414 36.3px,#161616 41.7px,#222222 47.0px,#404040 52.4px,#4b4b4b 57.8px,#444444 63.2px,#262626 68.6px,#181818 73.9px,#181818 84.7px)"></i><i style="left:50.71px;background:linear-gradient(#444444 4.0px,#878787 9.4px,#9e9e9e 14.8px,#707070 20.1px,#404040 25.5px,#1e1e1e 30.9px,#141414 36.3px,#161616 41.7px,#262626 47.0px,#626262 57.8px,#4f4f4f 63.2px,#262626 68.6px,#181818 73.9px,#181818 84.7px)"></i><i style="left:54.94px;background:linear-gradient(#3c3c3c 4.0px,#5a5a5a 9.4px,#707070 14.8px,#626262 20.1px,#444444 25.5px,#1e1e1e 30.9px,#141414 36.3px,#161616 41.7px,#262626 47.0px,#4b4b4b 52.4px,#878787 57.8px,#707070 63.2px,#2d2d2d 68.6px,#181818 73.9px,#181818 84.7px)"></i><i style="left:59.17px;background:linear-gradient(#343434 4.0px,#444444 9.4px,#4b4b4b 14.8px,#4f4f4f 20.1px,#444444 25.5px,#1e1e1e 30.9px,#141414 36.3px,#161616 41.7px,#262626 47.0px,#525252 52.4px,#a5a5a5 57.8px,#878787 63.2px,#343434 68.6px,#181818 73.9px,#181818 84.7px)"></i><i style="left:63.39px;background:linear-gradient(#222222 4.0px,#292929 9.4px,#313131 20.1px,#2d2d2d 25.5px,#1e1e1e 30.9px,#141414 36.3px,#161616 41.7px,#262626 47.0px,#525252 52.4px,#acacac 57.8px,#a5a5a5 63.2px,#343434 68.6px,#181818 73.9px,#181818 84.7px)"></i><i style="left:67.62px;background:linear-gradient(#1a1a1a 4.0px,#1e1e1e 9.4px,#1e1e1e 25.5px,#1a1a1a 30.9px,#141414 36.3px,#161616 41.7px,#262626 47.0px,#525252 52.4px,#b4b4b4 57.8px,#c3c3c3 63.2px,#343434 68.6px,#181818 73.9px,#181818 84.7px)"></i><i style="left:71.84px;background:linear-gradient(#181818 4.0px,#181818 25.5px,#141414 30.9px,#141414 36.3px,#161616 41.7px,#262626 47.0px,#525252 52.4px,#b9b9b9 57.8px,#cacaca 63.2px,#343434 68.6px,#181818 73.9px,#181818 84.7px)"></i><i style="left:76.07px;background:linear-gradient(#181818 4.0px,#181818 25.5px,#141414 30.9px,#141414 36.3px,#161616 41.7px,#262626 47.0px,#525252 52.4px,#bebebe 57.8px,#d2d2d2 63.2px,#343434 68.6px,#181818 73.9px,#181818 84.7px)"></i><i style="left:80.30px;background:linear-gradient(#181818 4.0px,#181818 25.5px,#141414 30.9px,#141414 36.3px,#161616 41.7px,#262626 47.0px,#525252 52.4px,#c3c3c3 57.8px,#dadada 63.2px,#343434 68.6px,#181818 73.9px,#181818 84.7px)"></i><i style="left:84.52px;background:linear-gradient(#181818 4.0px,#181818 25.5px,#141414 30.9px,#141414 36.3px,#161616 41.7px,#262626 47.0px,#525252 52.4px,#c3c3c3 57.8px,#d7d7d7 63.2px,#343434 68.6px,#181818 73.9px,#181818 84.7px)"></i><i style="left:88.75px;background:linear-gradient(#181818 4.0px,#181818 25.5px,#141414 30.9px,#141414 36.3px,#161616 41.7px,#262626 47.0px,#525252 52.4px,#c3c3c3 57.8px,#d4d4d4 63.2px,#343434 68.6px,#181818 73.9px,#181818 84.7px)"></i><i style="left:92.97px;background:linear-gradient(#181818 4.0px,#181818 25.5px,#141414 30.9px,#141414 36.3px,#161616 41.7px,#262626 47.0px,#525252 52.4px,#c3c3c3 57.8px,#d2d2d2 63.2px,#343434 68.6px,#181818 73.9px,#181818 84.7px)"></i><i style="left:97.20px;background:linear-gradient(#181818 4.0px,#1e1e1e 14.8px,#191919 20.1px,#181818 25.5px,#141414 30.9px,#141414 36.3px,#161616 41.7px,#262626 47.0px,#565656 52.4px,#bfbfbf 57.8px,#c3c3c3 63.2px,#343434 68.6px,#181818 73.9px,#181818 84.7px)"></i><i style="left:101.43px;background:linear-gradient(#181818 4.0px,#232323 9.4px,#323232 14.8px,#1c1c1c 20.1px,#141414 30.9px,#141414 36.3px,#161616 41.7px,#262626 47.0px,#5a5a5a 52.4px,#bcbcbc 57.8px,#b4b4b4 63.2px,#343434 68.6px,#181818 73.9px,#181818 84.7px)"></i><i style="left:105.65px;background:linear-gradient(#181818 4.0px,#2b2b2b 9.4px,#434343 14.8px,#1e1e1e 20.1px,#181818 25.5px,#141414 30.9px,#141414 36.3px,#171717 41.7px,#262626 47.0px,#5a5a5a 52.4px,#b4b4b4 57.8px,#a5a5a5 63.2px,#343434 68.6px,#181818 73.9px,#181818 84.7px)"></i></div><svg class="ln" width="97.2" height="80.7" viewBox="0 0 97.2 80.7"><polyline points="0.0,53.8 4.2,10.8 8.5,10.8 12.7,10.8 16.9,10.8 21.1,10.8 25.4,10.8 29.6,10.8 33.8,10.8 38.0,10.8 42.3,10.8 46.5,53.8 50.7,53.8 54.9,53.8 59.2,53.8 63.4,53.8 67.6,53.8 71.8,53.8 76.1,53.8 80.3,53.8 84.5,53.8 88.7,53.8 93.0,53.8 97.2,53.8" fill="none" stroke="#000" stroke-opacity=".85" stroke-width="1.4" stroke-linejoin="miter"/></svg></div>
<div class="fr" style="left:39.7px;top:142.8px"></div>
<div class="t" style="left:48.8px;width:80px;text-align:center;top:131.8px">(b1) Sum. - NL</div>
<div class="tk" style="left:37.4px;top:223.6px;width:2.8px;height:0.8px"></div>
<div class="t" style="right:513.4px;top:218.7px">N</div>
<div class="tk" style="left:37.4px;top:212.8px;width:2.8px;height:0.8px"></div>
<div class="t" style="right:513.4px;top:207.9px">NE</div>
<div class="tk" style="left:37.4px;top:202.1px;width:2.8px;height:0.8px"></div>
<div class="t" style="right:513.4px;top:197.2px">E</div>
<div class="tk" style="left:37.4px;top:191.3px;width:2.8px;height:0.8px"></div>
<div class="t" style="right:513.4px;top:186.4px">SE</div>
<div class="tk" style="left:37.4px;top:180.6px;width:2.8px;height:0.8px"></div>
<div class="t" style="right:513.4px;top:175.7px">S</div>
<div class="tk" style="left:37.4px;top:169.8px;width:2.8px;height:0.8px"></div>
<div class="t" style="right:513.4px;top:164.9px">SW</div>
<div class="tk" style="left:37.4px;top:159.0px;width:2.8px;height:0.8px"></div>
<div class="t" style="right:513.4px;top:154.1px">W</div>
<div class="tk" style="left:37.4px;top:148.3px;width:2.8px;height:0.8px"></div>
<div class="t" style="right:513.4px;top:143.4px">NW</div>
<div class="tk" style="left:39.8px;top:224.0px;width:0.8px;height:2.8px"></div>
<div class="t" style="left:25.2px;width:30px;text-align:center;top:228.0px">00</div>
<div class="tk" style="left:60.9px;top:224.0px;width:0.8px;height:2.8px"></div>
<div class="t" style="left:46.3px;width:30px;text-align:center;top:228.0px">05</div>
<div class="tk" style="left:82.1px;top:224.0px;width:0.8px;height:2.8px"></div>
<div class="t" style="left:67.5px;width:30px;text-align:center;top:228.0px">10</div>
<div class="tk" style="left:103.2px;top:224.0px;width:0.8px;height:2.8px"></div>
<div class="t" style="left:88.6px;width:30px;text-align:center;top:228.0px">15</div>
<div class="tk" style="left:124.3px;top:224.0px;width:0.8px;height:2.8px"></div>
<div class="t" style="left:109.7px;width:30px;text-align:center;top:228.0px">20</div>
<div class="t" style="left:58.8px;width:60px;text-align:center;top:240.0px">Local time</div>
<div class="t" style="left:-3.2px;top:178.6px;width:30px;text-align:center;transform-origin:50% 50%;transform:rotate(-90deg) scaleY(1.08)">HWD</div>
<div class="ax" style="left:175.2px;top:143.3px"><div class="hm"><i class="c0" style="background:linear-gradient(#343434 4.0px,#3c3c3c 9.4px,#343434 14.8px,#262626 20.1px,#1a1a1a 25.5px,#161616 30.9px,#101010 36.3px,#161616 41.7px,#1a1a1a 47.0px,#444444 52.4px,#dadada 57.8px,#a5a5a5 63.2px,#262626 68.6px,#181818 73.9px,#181818 84.7px)"></i><i style="left:12.68px;background:linear-gradient(#444444 4.0px,#4b4b4b 9.4px,#474747 14.8px,#3c3c3c 20.1px,#262626 25.5px,#161616 30.9px,#101010 36.3px,#161616 41.7px,#1a1a1a 47.0px,#444444 52.4px,#dadada 57.8px,#a4a4a4 63.2px,#262626 68.6px,#181818 73.9px,#181818 84.7px)"></i><i style="left:16.90px;background:linear-gradient(#4b4b4b 4.0px,#525252 9.4px,#4f4f4f 14.8px,#474747 20.1px,#2d2d2d 25.5px,#161616 30.9px,#101010 36.3px,#161616 41.7px,#1a1a1a 47.0px,#444444 52.4px,#dadada 57.8px,#a2a2a2 63.2px,#262626 68.6px,#181818 73.9px,#181818 84.7px)"></i><i style="left:21.13px;background:linear-gradient(#525252 4.0px,#5e5e5e 9.4px,#565656 14.8px,#4b4b4b 20.1px,#161616 30.9px,#101010 36.3px,#161616 41.7px,#1a1a1a 47.0px,#444444 52.4px,#dadada 57.8px,#a0a0a0 63.2px,#262626 68.6px,#181818 73.9px,#181818 84.7px)"></i><i style="left:25.36px;background:linear-gradient(#565656 4.0px,#696969 9.4px,#5e5e5e 14.8px,#4f4f4f 20.1px,#343434 25.5px,#161616 30.9px,#101010 36.3px,#161616 41.7px,#1a1a1a 47.0px,#444444 52.4px,#dadada 57.8px,#9f9f9f 63.2px,#262626 68.6px,#181818 73.9px,#181818 84.7px)"></i><i style="left:29.58px;background:linear-gradient(#5a5a5a 4.0px,#6d6d6d 9.4px,#626262 14.8px,#525252 20.1px,#161616 30.9px,#101010 36.3px,#161616 41.7px,#1a1a1a 47.0px,#444444 52.4px,#dadada 57.8px,#9e9e9e 63.2px,#262626 68.6px,#181818 73.9px,#181818 84.7px)"></i><i style="left:33.81px;background:linear-gradient(#585858 4.0px,#6b6b6b 9.4px,#656565 14.8px,#525252 20.1px,#161616 30.9px,#101010 36.3px,#161616 41.7px,#1a1a1a 47.0px,#444444 52.4px,#d2d2d2 57.8px,#8b8b8b 63.2px,#262626 68.6px,#181818 73.9px,#181818 84.7px)"></i><i style="left:38.03px;background:linear-gradient(#565656 4.0px,#696969 9.4px,#696969 14.8px,#525252 20.1px,#161616 30.9px,#101010 36.3px,#161616 41.7px,#1a1a1a 47.0px,#444444 52.4px,#cacaca 57.8px,#262626 68.6px,#181818 73.9px,#181818 84.7px)"></i><i style="left:42.26px;background:linear-gradient(#525252 4.0px,#626262 9.4px,#696969 14.8px,#525252 20.1px,#161616 30.9px,#101010 36.3px,#161616 41.7px,#1a1a1a 47.0px,#444444 52.4px,#c9c9c9 57.8px,#262626 68.6px,#181818 73.9px,#181818 84.7px)"></i><i style="left:46.49px;background:linear-gradient(#4b4b4b 4.0px,#5a5a5a 9.4px,#5e5e5e 14.8px,#4f4f4f 20.1px,#343434 25.5px,#161616 30.9px,#101010 36.3px,#161616 41.7px,#1a1a1a 47.0px,#444444 52.4px,#c8c8c8 57.8px,#767676 63.2px,#262626 68.6px,#181818 73.9px,#181818 84.7px)"></i><i style="left:50.71px;background:linear-gradient(#444444 4.0px,#4f4f4f 9.4px,#525252 14.8px,#4b4b4b 20.1px,#161616 30.9px,#101010 36.3px,#161616 41.7px,#1a1a1a 47.0px,#444444 52.4px,#c7c7c7 57.8px,#747474 63.2px,#262626 68.6px,#181818 73.9px,#181818 84.7px)"></i><i style="left:54.94px;background:linear-gradient(#383838 4.0px,#444444 9.4px,#474747 14.8px,#444444 20.1px,#292929 25.5px,#161616 30.9px,#101010 36.3px,#161616 41.7px,#1a1a1a 47.0px,#444444 52.4px,#c5c5c5 57.8px,#737373 63.2px,#262626 68.6px,#181818 73.9px,#181818 84.7px)"></i><i style="left:59.17px;background:linear-gradient(#262626 4.0px,#313131 9.4px,#343434 14.8px,#343434 20.1px,#222222 25.5px,#161616 30.9px,#101010 36.3px,#161616 41.7px,#1a1a1a 47.0px,#444444 52.4px,#c4c4c4 57.8px,#727272 63.2px,#262626 68.6px,#181818 73.9px,#181818 84.7px)"></i><i style="left:63.39px;background:linear-gradient(#1a1a1a 4.0px,#1e1e1e 9.4px,#1e1e1e 20.1px,#161616 30.9px,#101010 36.3px,#161616 41.7px,#1a1a1a 47.0px,#444444 52.4px,#c3c3c3 57.8px,#707070 63.2px,#262626 68.6px,#181818 73.9px,#181818 84.7px)"></i><i style="left:67.62px;background:linear-gradient(#181818 4.0px,#181818 25.5px,#101010 30.9px,#101010 36.3px,#161616 41.7px,#1e1e1e 47.0px,#5a5a5a 52.4px,#cacaca 57.8px,#262626 68.6px,#181818 73.9px,#181818 84.7px)"></i><i style="left:71.84px;background:linear-gradient(#181818 4.0px,#181818 25.5px,#101010 30.9px,#101010 36.3px,#161616 41.7px,#222222 47.0px,#626262 52.4px,#cecece 57.8px,#808080 63.2px,#262626 68.6px,#181818 73.9px,#181818 84.7px)"></i><i style="left:76.07px;background:linear-gradient(#181818 4.0px,#181818 25.5px,#101010 30.9px,#101010 36.3px,#161616 41.7px,#262626 47.0px,#696969 52.4px,#d2d2d2 57.8px,#878787 63.2px,#262626 68.6px,#181818 73.9px,#181818 84.7px)"></i><i style="left:80.30px;background:linear-gradient(#181818 4.0px,#181818 25.5px,#101010 30.9px,#101010 36.3px,#161616 41.7px,#262626 47.0px,#656565 52.4px,#d2d2d2 57.8px,#878787 63.2px,#262626 68.6px,#181818 73.9px,#181818 84.7px)"></i><i style="left:84.52px;background:linear-gradient(#181818 4.0px,#181818 25.5px,#101010 30.9px,#101010 36.3px,#161616 41.7px,#262626 47.0px,#626262 52.4px,#d2d2d2 57.8px,#878787 63.2px,#262626 68.6px,#181818 73.9px,#181818 84.7px)"></i><i style="left:88.75px;background:linear-gradient(#181818 4.0px,#181818 25.5px,#101010 30.9px,#101010 36.3px,#161616 41.7px,#222222 47.0px,#565656 52.4px,#cecece 57.8px,#808080 63.2px,#262626 68.6px,#181818 73.9px,#181818 84.7px)"></i><i style="left:92.97px;background:linear-gradient(#181818 4.0px,#181818 25.5px,#101010 30.9px,#101010 36.3px,#161616 41.7px,#1e1e1e 47.0px,#4b4b4b 52.4px,#cacaca 57.8px,#262626 68.6px,#181818 73.9px,#181818 84.7px)"></i><i style="left:97.20px;background:linear-gradient(#181818 4.0px,#181818 25.5px,#101010 30.9px,#101010 36.3px,#161616 41.7px,#1e1e1e 47.0px,#484848 52.4px,#cacaca 57.8px,#767676 63.2px,#262626 68.6px,#181818 73.9px,#181818 84.7px)"></i><i style="left:101.43px;background:linear-gradient(#181818 4.0px,#181818 25.5px,#101010 30.9px,#101010 36.3px,#161616 41.7px,#1e1e1e 47.0px,#464646 52.4px,#cacaca 57.8px,#737373 63.2px,#262626 68.6px,#181818 73.9px,#181818 84.7px)"></i><i style="left:105.65px;background:linear-gradient(#181818 4.0px,#181818 25.5px,#101010 30.9px,#101010 36.3px,#161616 41.7px,#1e1e1e 47.0px,#444444 52.4px,#cacaca 57.8px,#707070 63.2px,#262626 68.6px,#181818 73.9px,#181818 84.7px)"></i></div><svg class="ln" width="97.2" height="80.7" viewBox="0 0 97.2 80.7"><polyline points="0.0,53.8 4.2,53.8 8.5,53.8 12.7,53.8 16.9,53.8 21.1,53.8 25.4,53.8 29.6,53.8 33.8,53.8 38.0,53.8 42.3,53.8 46.5,53.8 50.7,53.8 54.9,53.8 59.2,53.8 63.4,53.8 67.6,53.8 71.8,53.8 76.1,53.8 80.3,53.8 84.5,53.8 88.7,53.8 93.0,53.8 97.2,53.8" fill="none" stroke="#000" stroke-opacity=".85" stroke-width="1.4" stroke-linejoin="miter"/></svg></div>
<div class="fr" style="left:174.7px;top:142.8px"></div>
<div class="t" style="left:183.8px;width:80px;text-align:center;top:131.8px">(b2) Sum. - LL</div>
<div class="tk" style="left:172.4px;top:223.6px;width:2.8px;height:0.8px"></div>
<div class="t" style="right:378.4px;top:218.7px">N</div>
<div class="tk" style="left:172.4px;top:212.8px;width:2.8px;height:0.8px"></div>
<div class="t" style="right:378.4px;top:207.9px">NE</div>
<div class="tk" style="left:172.4px;top:202.1px;width:2.8px;height:0.8px"></div>
<div class="t" style="right:378.4px;top:197.2px">E</div>
<div class="tk" style="left:172.4px;top:191.3px;width:2.8px;height:0.8px"></div>
<div class="t" style="right:378.4px;top:186.4px">SE</div>
<div class="tk" style="left:172.4px;top:180.6px;width:2.8px;height:0.8px"></div>
<div class="t" style="right:378.4px;top:175.7px">S</div>
<div class="tk" style="left:172.4px;top:169.8px;width:2.8px;height:0.8px"></div>
<div class="t" style="right:378.4px;top:164.9px">SW</div>
<div class="tk" style="left:172.4px;top:159.0px;width:2.8px;height:0.8px"></div>
<div class="t" style="right:378.4px;top:154.1px">W</div>
<div class="tk" style="left:172.4px;top:148.3px;width:2.8px;height:0.8px"></div>
<div class="t" style="right:378.4px;top:143.4px">NW</div>
<div class="tk" style="left:174.8px;top:224.0px;width:0.8px;height:2.8px"></div>
<div class="t" style="left:160.2px;width:30px;text-align:center;top:228.0px">00</div>
<div class="tk" style="left:195.9px;top:224.0px;width:0.8px;height:2.8px"></div>
<div class="t" style="left:181.3px;width:30px;text-align:center;top:228.0px">05</div>
<div class="tk" style="left:217.1px;top:224.0px;width:0.8px;height:2.8px"></div>
<div class="t" style="left:202.5px;width:30px;text-align:center;top:228.0px">10</div>
<div class="tk" style="left:238.2px;top:224.0px;width:0.8px;height:2.8px"></div>
<div class="t" style="left:223.6px;width:30px;text-align:center;top:228.0px">15</div>
<div class="tk" style="left:259.3px;top:224.0px;width:0.8px;height:2.8px"></div>
<div class="t" style="left:244.7px;width:30px;text-align:center;top:228.0px">20</div>
<div class="t" style="left:193.8px;width:60px;text-align:center;top:240.0px">Local time</div>
<div class="t" style="left:131.8px;top:178.6px;width:30px;text-align:center;transform-origin:50% 50%;transform:rotate(-90deg) scaleY(1.08)">HWD</div>
<div class="ax" style="left:310.2px;top:143.3px"><div class="hm"><i class="c0" style="background:linear-gradient(#181818 4.0px,#181818 14.8px,#141414 20.1px,#141414 36.3px,#1e1e1e 41.7px,#3c3c3c 47.0px,#969696 52.4px,#c3c3c3 57.8px,#707070 63.2px,#343434 68.6px,#1a1a1a 73.9px,#151515 79.3px,#151515 84.7px)"></i><i style="left:12.68px;background:linear-gradient(#181818 4.0px,#181818 14.8px,#141414 20.1px,#141414 36.3px,#1e1e1e 41.7px,#3c3c3c 47.0px,#969696 52.4px,#c3c3c3 57.8px,#717171 63.2px,#343434 68.6px,#1a1a1a 73.9px,#151515 79.3px,#151515 84.7px)"></i><i style="left:16.90px;background:linear-gradient(#181818 4.0px,#181818 14.8px,#141414 20.1px,#141414 30.9px,#191919 36.3px,#212121 41.7px,#383838 47.0px,#808080 52.4px,#b4b4b4 57.8px,#717171 63.2px,#343434 68.6px,#1a1a1a 73.9px,#151515 79.3px,#151515 84.7px)"></i><i style="left:21.13px;background:linear-gradient(#181818 4.0px,#181818 14.8px,#141414 20.1px,#151515 30.9px,#222222 36.3px,#262626 41.7px,#353535 47.0px,#6d6d6d 52.4px,#a9a9a9 57.8px,#747474 63.2px,#343434 68.6px,#1a1a1a 73.9px,#151515 79.3px,#151515 84.7px)"></i><i style="left:25.36px;background:linear-gradient(#181818 4.0px,#181818 9.4px,#1e1e1e 20.1px,#141414 25.5px,#151515 30.9px,#222222 36.3px,#262626 41.7px,#353535 47.0px,#6c6c6c 52.4px,#a9a9a9 57.8px,#757575 63.2px,#343434 68.6px,#1a1a1a 73.9px,#151515 79.3px,#151515 84.7px)"></i><i style="left:29.58px;background:linear-gradient(#181818 4.0px,#191919 9.4px,#1e1e1e 20.1px,#141414 25.5px,#141414 30.9px,#191919 36.3px,#212121 41.7px,#353535 47.0px,#6c6c6c 52.4px,#a9a9a9 57.8px,#757575 63.2px,#343434 68.6px,#1a1a1a 73.9px,#151515 79.3px,#151515 84.7px)"></i><i style="left:33.81px;background:linear-gradient(#181818 4.0px,#1b1b1b 14.8px,#141414 20.1px,#141414 30.9px,#161616 36.3px,#242424 41.7px,#353535 47.0px,#6b6b6b 52.4px,#a9a9a9 57.8px,#767676 63.2px,#343434 68.6px,#1a1a1a 73.9px,#151515 79.3px,#151515 84.7px)"></i><i style="left:38.03px;background:linear-gradient(#181818 4.0px,#212121 14.8px,#141414 20.1px,#141414 30.9px,#1a1a1a 36.3px,#333333 41.7px,#353535 47.0px,#6b6b6b 52.4px,#a9a9a9 57.8px,#767676 63.2px,#343434 68.6px,#1a1a1a 73.9px,#151515 79.3px,#151515 84.7px)"></i><i style="left:42.26px;background:linear-gradient(#181818 4.0px,#222222 9.4px,#2a2a2a 14.8px,#151515 20.1px,#141414 30.9px,#181818 36.3px,#2d2d2d 41.7px,#353535 47.0px,#6a6a6a 52.4px,#a9a9a9 57.8px,#777777 63.2px,#343434 68.6px,#1a1a1a 73.9px,#151515 79.3px,#151515 84.7px)"></i><i style="left:46.49px;background:linear-gradient(#191919 4.0px,#292929 9.4px,#363636 14.8px,#171717 20.1px,#141414 25.5px,#151515 36.3px,#262626 41.7px,#353535 47.0px,#6a6a6a 52.4px,#a9a9a9 57.8px,#777777 63.2px,#343434 68.6px,#1a1a1a 73.9px,#151515 79.3px,#151515 84.7px)"></i><i style="left:50.71px;background:linear-gradient(#191919 4.0px,#2e2e2e 9.4px,#404040 14.8px,#181818 20.1px,#141414 25.5px,#141414 30.9px,#191919 36.3px,#3b3b3b 41.7px,#373737 47.0px,#696969 52.4px,#a9a9a9 57.8px,#787878 63.2px,#343434 68.6px,#1a1a1a 73.9px,#151515 79.3px,#151515 84.7px)"></i><i style="left:54.94px;background:linear-gradient(#191919 4.0px,#343434 9.4px,#525252 14.8px,#181818 20.1px,#141414 25.5px,#141414 36.3px,#212121 41.7px,#353535 47.0px,#696969 52.4px,#aaaaaa 57.8px,#7a7a7a 63.2px,#343434 68.6px,#1a1a1a 73.9px,#151515 79.3px,#151515 84.7px)"></i><i style="left:59.17px;background:linear-gradient(#191919 4.0px,#2f2f2f 9.4px,#4a4a4a 14.8px,#171717 20.1px,#141414 25.5px,#141414 36.3px,#1e1e1e 41.7px,#353535 47.0px,#696969 52.4px,#aaaaaa 57.8px,#7b7b7b 63.2px,#343434 68.6px,#1a1a1a 73.9px,#151515 79.3px,#151515 84.7px)"></i><i style="left:63.39px;background:linear-gradient(#181818 4.0px,#232323 9.4px,#2b2b2b 14.8px,#151515 20.1px,#141414 36.3px,#1e1e1e 41.7px,#353535 47.0px,#696969 52.4px,#ababab 57.8px,#7d7d7d 63.2px,#343434 68.6px,#1a1a1a 73.9px,#151515 79.3px,#151515 84.7px)"></i><i style="left:67.62px;background:linear-gradient(#181818 4.0px,#212121 14.8px,#141414 20.1px,#141414 36.3px,#1e1e1e 41.7px,#353535 47.0px,#696969 52.4px,#acacac 57.8px,#7e7e7e 63.2px,#343434 68.6px,#1a1a1a 73.9px,#151515 79.3px,#151515 84.7px)"></i><i style="left:71.84px;background:linear-gradient(#181818 4.0px,#1b1b1b 14.8px,#141414 20.1px,#141414 36.3px,#1e1e1e 41.7px,#343434 47.0px,#696969 52.4px,#acacac 57.8px,#808080 63.2px,#343434 68.6px,#1a1a1a 73.9px,#151515 79.3px,#151515 84.7px)"></i><i style="left:76.07px;background:linear-gradient(#181818 4.0px,#191919 14.8px,#141414 20.1px,#141414 36.3px,#1e1e1e 41.7px,#343434 47.0px,#696969 52.4px,#b4b4b4 57.8px,#9e9e9e 63.2px,#383838 68.6px,#1a1a1a 73.9px,#151515 79.3px,#151515 84.7px)"></i><i style="left:80.30px;background:linear-gradient(#181818 4.0px,#181818 14.8px,#141414 20.1px,#141414 36.3px,#1e1e1e 41.7px,#343434 47.0px,#696969 52.4px,#bcbcbc 57.8px,#bcbcbc 63.2px,#3c3c3c 68.6px,#1a1a1a 73.9px,#151515 79.3px,#151515 84.7px)"></i><i style="left:84.52px;background:linear-gradient(#181818 4.0px,#181818 14.8px,#141414 20.1px,#141414 36.3px,#1e1e1e 41.7px,#363636 47.0px,#6b6b6b 52.4px,#bcbcbc 57.8px,#bcbcbc 63.2px,#3c3c3c 68.6px,#1a1a1a 73.9px,#151515 79.3px,#151515 84.7px)"></i><i style="left:88.75px;background:linear-gradient(#181818 4.0px,#181818 14.8px,#141414 20.1px,#141414 36.3px,#1e1e1e 41.7px,#383838 47.0px,#6d6d6d 52.4px,#bcbcbc 57.8px,#bcbcbc 63.2px,#3c3c3c 68.6px,#1a1a1a 73.9px,#151515 79.3px,#151515 84.7px)"></i><i style="left:92.97px;background:linear-gradient(#181818 4.0px,#181818 14.8px,#141414 20.1px,#141414 36.3px,#1e1e1e 41.7px,#3c3c3c 47.0px,#707070 52.4px,#b4b4b4 57.8px,#9e9e9e 63.2px,#383838 68.6px,#1a1a1a 73.9px,#151515 79.3px,#151515 84.7px)"></i><i style="left:97.20px;background:linear-gradient(#181818 4.0px,#181818 14.8px,#141414 20.1px,#141414 36.3px,#1e1e1e 41.7px,#404040 47.0px,#787878 52.4px,#acacac 57.8px,#808080 63.2px,#343434 68.6px,#1a1a1a 73.9px,#151515 79.3px,#151515 84.7px)"></i><i style="left:101.43px;background:linear-gradient(#181818 4.0px,#181818 14.8px,#141414 20.1px,#141414 36.3px,#202020 41.7px,#424242 47.0px,#808080 52.4px,#b0b0b0 57.8px,#7c7c7c 63.2px,#343434 68.6px,#1a1a1a 73.9px,#151515 79.3px,#151515 84.7px)"></i><i style="left:105.65px;background:linear-gradient(#181818 4.0px,#181818 14.8px,#141414 20.1px,#141414 36.3px,#222222 41.7px,#444444 47.0px,#878787 52.4px,#b4b4b4 57.8px,#787878 63.2px,#343434 68.6px,#1a1a1a 73.9px,#151515 79.3px,#151515 84.7px)"></i></div><svg class="ln" width="97.2" height="80.7" viewBox="0 0 97.2 80.7"><polyline points="0.0,53.8 4.2,53.8 8.5,48.4 12.7,48.4 16.9,53.8 21.1,53.8 25.4,53.8 29.6,53.8 33.8,53.8 38.0,53.8 42.3,53.8 46.5,53.8 50.7,53.8 54.9,53.8 59.2,53.8 63.4,53.8 67.6,53.8 71.8,53.8 76.1,53.8 80.3,53.8 84.5,53.8 88.7,53.8 93.0,53.8 97.2,53.8" fill="none" stroke="#000" stroke-opacity=".85" stroke-width="1.4" stroke-linejoin="round"/></svg></div>
<div class="fr" style="left:309.7px;top:142.8px"></div>
<div class="t" style="left:318.8px;width:80px;text-align:center;top:131.8px">(b3) Sum. - ML</div>
<div class="tk" style="left:307.4px;top:223.6px;width:2.8px;height:0.8px"></div>
<div class="t" style="right:243.4px;top:218.7px">N</div>
<div class="tk" style="left:307.4px;top:212.8px;width:2.8px;height:0.8px"></div>
<div class="t" style="right:243.4px;top:207.9px">NE</div>
<div class="tk" style="left:307.4px;top:202.1px;width:2.8px;height:0.8px"></div>
<div class="t" style="right:243.4px;top:197.2px">E</div>
<div class="tk" style="left:307.4px;top:191.3px;width:2.8px;height:0.8px"></div>
<div class="t" style="right:243.4px;top:186.4px">SE</div>
<div class="tk" style="left:307.4px;top:180.6px;width:2.8px;height:0.8px"></div>
<div class="t" style="right:243.4px;top:175.7px">S</div>
<div class="tk" style="left:307.4px;top:169.8px;width:2.8px;height:0.8px"></div>
<div class="t" style="right:243.4px;top:164.9px">SW</div>
<div class="tk" style="left:307.4px;top:159.0px;width:2.8px;height:0.8px"></div>
<div class="t" style="right:243.4px;top:154.1px">W</div>
<div class="tk" style="left:307.4px;top:148.3px;width:2.8px;height:0.8px"></div>
<div class="t" style="right:243.4px;top:143.4px">NW</div>
<div class="tk" style="left:309.8px;top:224.0px;width:0.8px;height:2.8px"></div>
<div class="t" style="left:295.2px;width:30px;text-align:center;top:228.0px">00</div>
<div class="tk" style="left:330.9px;top:224.0px;width:0.8px;height:2.8px"></div>
<div class="t" style="left:316.3px;width:30px;text-align:center;top:228.0px">05</div>
<div class="tk" style="left:352.1px;top:224.0px;width:0.8px;height:2.8px"></div>
<div class="t" style="left:337.5px;width:30px;text-align:center;top:228.0px">10</div>
<div class="tk" style="left:373.2px;top:224.0px;width:0.8px;height:2.8px"></div>
<div class="t" style="left:358.6px;width:30px;text-align:center;top:228.0px">15</div>
<div class="tk" style="left:394.3px;top:224.0px;width:0.8px;height:2.8px"></div>
<div class="t" style="left:379.7px;width:30px;text-align:center;top:228.0px">20</div>
<div class="t" style="left:328.8px;width:60px;text-align:center;top:240.0px">Local time</div>
<div class="t" style="left:266.8px;top:178.6px;width:30px;text-align:center;transform-origin:50% 50%;transform:rotate(-90deg) scaleY(1.08)">HWD</div>
<div class="ax" style="left:445.2px;top:143.3px"><div class="hm"><i class="c0" style="background:linear-gradient(#292929 4.0px,#2d2d2d 9.4px,#262626 20.1px,#262626 25.5px,#3c3c3c 30.9px,#4b4b4b 36.3px,#696969 41.7px,#707070 47.0px,#5a5a5a 52.4px,#4b4b4b 57.8px,#404040 63.2px,#191919 68.6px,#151515 73.9px,#151515 84.7px)"></i><i style="left:12.68px;background:linear-gradient(#2d2d2d 4.0px,#383838 9.4px,#313131 14.8px,#262626 20.1px,#2d2d2d 25.5px,#404040 30.9px,#4b4b4b 36.3px,#6d6d6d 41.7px,#717171 47.0px,#5a5a5a 52.4px,#4b4b4b 57.8px,#404040 63.2px,#191919 68.6px,#151515 73.9px,#151515 84.7px)"></i><i style="left:16.90px;background:linear-gradient(#313131 4.0px,#404040 9.4px,#3c3c3c 14.8px,#313131 20.1px,#3c3c3c 25.5px,#4b4b4b 36.3px,#5a5a5a 41.7px,#5a5a5a 47.0px,#444444 57.8px,#343434 63.2px,#191919 68.6px,#151515 73.9px,#151515 84.7px)"></i><i style="left:21.13px;background:linear-gradient(#353535 4.0px,#444444 9.4px,#474747 14.8px,#444444 20.1px,#444444 47.0px,#404040 52.4px,#343434 57.8px,#1e1e1e 63.2px,#151515 73.9px,#151515 84.7px)"></i><i style="left:25.36px;background:linear-gradient(#383838 4.0px,#4b4b4b 9.4px,#535353 14.8px,#4b4b4b 20.1px,#474747 25.5px,#3c3c3c 30.9px,#2d2d2d 52.4px,#262626 57.8px,#1a1a1a 63.2px,#191919 68.6px,#151515 73.9px,#151515 84.7px)"></i><i style="left:29.58px;background:linear-gradient(#404040 4.0px,#5a5a5a 9.4px,#626262 14.8px,#535353 20.1px,#494949 25.5px,#363636 30.9px,#2d2d2d 36.3px,#191919 63.2px,#191919 68.6px,#151515 73.9px,#151515 84.7px)"></i><i style="left:33.81px;background:linear-gradient(#4b4b4b 4.0px,#7c7c7c 9.4px,#787878 14.8px,#5e5e5e 20.1px,#535353 25.5px,#262626 36.3px,#1a1a1a 52.4px,#191919 68.6px,#151515 73.9px,#151515 84.7px)"></i><i style="left:38.03px;background:linear-gradient(#4b4b4b 4.0px,#838383 9.4px,#787878 14.8px,#5f5f5f 20.1px,#585858 25.5px,#424242 30.9px,#1a1a1a 36.3px,#191919 68.6px,#151515 73.9px,#151515 84.7px)"></i><i style="left:42.26px;background:linear-gradient(#4b4b4b 4.0px,#808080 9.4px,#747474 14.8px,#5e5e5e 20.1px,#535353 25.5px,#3e3e3e 30.9px,#252525 36.3px,#1b1b1b 41.7px,#1a1a1a 47.0px,#1d1d1d 52.4px,#191919 57.8px,#191919 68.6px,#151515 73.9px,#151515 84.7px)"></i><i style="left:46.49px;background:linear-gradient(#444444 4.0px,#696969 9.4px,#717171 14.8px,#5e5e5e 20.1px,#4d4d4d 25.5px,#393939 30.9px,#3a3a3a 36.3px,#202020 41.7px,#212121 47.0px,#2a2a2a 52.4px,#191919 57.8px,#191919 68.6px,#151515 73.9px,#151515 84.7px)"></i><i style="left:50.71px;background:linear-gradient(#444444 4.0px,#626262 9.4px,#717171 14.8px,#626262 20.1px,#4b4b4b 25.5px,#363636 30.9px,#252525 36.3px,#1d1d1d 41.7px,#313131 47.0px,#1e1e1e 52.4px,#191919 57.8px,#191919 68.6px,#151515 73.9px,#151515 84.7px)"></i><i style="left:54.94px;background:linear-gradient(#444444 4.0px,#5e5e5e 9.4px,#717171 14.8px,#696969 20.1px,#4b4b4b 25.5px,#353535 30.9px,#191919 36.3px,#1b1b1b 41.7px,#303030 47.0px,#1a1a1a 52.4px,#191919 68.6px,#151515 73.9px,#151515 84.7px)"></i><i style="left:59.17px;background:linear-gradient(#404040 4.0px,#5a5a5a 9.4px,#717171 14.8px,#787878 20.1px,#4b4b4b 25.5px,#313131 30.9px,#191919 36.3px,#191919 41.7px,#1e1e1e 47.0px,#1d1d1d 52.4px,#191919 57.8px,#191919 68.6px,#151515 73.9px,#151515 84.7px)"></i><i style="left:63.39px;background:linear-gradient(#404040 4.0px,#5a5a5a 9.4px,#808080 14.8px,#7c7c7c 20.1px,#4b4b4b 25.5px,#2d2d2d 30.9px,#191919 36.3px,#191919 41.7px,#242424 47.0px,#292929 52.4px,#191919 57.8px,#191919 68.6px,#151515 73.9px,#151515 84.7px)"></i><i style="left:67.62px;background:linear-gradient(#444444 4.0px,#5e5e5e 9.4px,#808080 14.8px,#787878 20.1px,#4b4b4b 25.5px,#2d2d2d 30.9px,#191919 36.3px,#191919 41.7px,#2b2b2b 47.0px,#343434 52.4px,#191919 57.8px,#191919 68.6px,#151515 73.9px,#151515 84.7px)"></i><i style="left:71.84px;background:linear-gradient(#444444 4.0px,#626262 9.4px,#747474 14.8px,#696969 20.1px,#474747 25.5px,#292929 30.9px,#191919 36.3px,#191919 41.7px,#242424 47.0px,#292929 52.4px,#191919 57.8px,#191919 68.6px,#151515 73.9px,#151515 84.7px)"></i><i style="left:76.07px;background:linear-gradient(#444444 4.0px,#626262 9.4px,#707070 14.8px,#626262 20.1px,#262626 30.9px,#1e1e1e 36.3px,#222222 41.7px,#2d2d2d 52.4px,#292929 57.8px,#1a1a1a 68.6px,#151515 73.9px,#151515 84.7px)"></i><i style="left:80.30px;background:linear-gradient(#474747 4.0px,#626262 9.4px,#696969 14.8px,#5a5a5a 20.1px,#444444 25.5px,#262626 30.9px,#262626 36.3px,#353535 41.7px,#444444 52.4px,#444444 57.8px,#1e1e1e 68.6px,#151515 73.9px,#151515 84.7px)"></i><i style="left:84.52px;background:linear-gradient(#444444 4.0px,#525252 9.4px,#525252 14.8px,#4b4b4b 20.1px,#3c3c3c 25.5px,#222222 30.9px,#2d2d2d 36.3px,#3c3c3c 41.7px,#444444 47.0px,#4f4f4f 52.4px,#4f4f4f 57.8px,#3c3c3c 63.2px,#262626 68.6px,#151515 73.9px,#151515 84.7px)"></i><i style="left:88.75px;background:linear-gradient(#262626 4.0px,#2d2d2d 9.4px,#2d2d2d 20.1px,#262626 25.5px,#1a1a1a 30.9px,#313131 36.3px,#3c3c3c 41.7px,#444444 47.0px,#535353 52.4px,#535353 57.8px,#404040 63.2px,#292929 68.6px,#151515 73.9px,#151515 84.7px)"></i><i style="left:92.97px;background:linear-gradient(#1a1a1a 4.0px,#1e1e1e 9.4px,#1e1e1e 20.1px,#1a1a1a 25.5px,#191919 30.9px,#353535 36.3px,#3c3c3c 41.7px,#474747 47.0px,#5a5a5a 52.4px,#565656 57.8px,#444444 63.2px,#151515 73.9px,#151515 84.7px)"></i><i style="left:97.20px;background:linear-gradient(#191919 4.0px,#191919 30.9px,#383838 36.3px,#404040 41.7px,#4b4b4b 47.0px,#656565 52.4px,#5e5e5e 57.8px,#444444 63.2px,#151515 73.9px,#151515 84.7px)"></i><i style="left:101.43px;background:linear-gradient(#191919 4.0px,#191919 30.9px,#383838 36.3px,#404040 41.7px,#4b4b4b 47.0px,#656565 52.4px,#5e5e5e 57.8px,#444444 63.2px,#151515 73.9px,#151515 84.7px)"></i><i style="left:105.65px;background:linear-gradient(#191919 4.0px,#191919 30.9px,#343434 36.3px,#3c3c3c 41.7px,#474747 47.0px,#626262 52.4px,#5a5a5a 57.8px,#151515 73.9px,#151515 84.7px)"></i></div><svg class="ln" width="97.2" height="80.7" viewBox="0 0 97.2 80.7"><polyline points="0.0,43.0 4.2,37.7 8.5,43.0 12.7,37.7 16.9,10.8 21.1,10.8 25.4,10.8 29.6,10.8 33.8,5.4 38.0,10.8 42.3,10.8 46.5,10.8 50.7,16.1 54.9,10.8 59.2,10.8 63.4,10.8 67.6,10.8 71.8,10.8 76.1,5.4 80.3,48.4 84.5,53.8 88.7,48.4 93.0,48.4 97.2,48.4" fill="none" stroke="#000" stroke-opacity=".85" stroke-width="1.4" stroke-linejoin="miter"/></svg></div>
<div class="fr" style="left:444.7px;top:142.8px"></div>
<div class="t" style="left:453.8px;width:80px;text-align:center;top:131.8px">(b4) Sum. - UL</div>
<div class="tk" style="left:442.4px;top:223.6px;width:2.8px;height:0.8px"></div>
<div class="t" style="right:108.4px;top:218.7px">N</div>
<div class="tk" style="left:442.4px;top:212.8px;width:2.8px;height:0.8px"></div>
<div class="t" style="right:108.4px;top:207.9px">NE</div>
<div class="tk" style="left:442.4px;top:202.1px;width:2.8px;height:0.8px"></div>
<div class="t" style="right:108.4px;top:197.2px">E</div>
<div class="tk" style="left:442.4px;top:191.3px;width:2.8px;height:0.8px"></div>
<div class="t" style="right:108.4px;top:186.4px">SE</div>
<div class="tk" style="left:442.4px;top:180.6px;width:2.8px;height:0.8px"></div>
<div class="t" style="right:108.4px;top:175.7px">S</div>
<div class="tk" style="left:442.4px;top:169.8px;width:2.8px;height:0.8px"></div>
<div class="t" style="right:108.4px;top:164.9px">SW</div>
<div class="tk" style="left:442.4px;top:159.0px;width:2.8px;height:0.8px"></div>
<div class="t" style="right:108.4px;top:154.1px">W</div>
<div class="tk" style="left:442.4px;top:148.3px;width:2.8px;height:0.8px"></div>
<div class="t" style="right:108.4px;top:143.4px">NW</div>
<div class="tk" style="left:444.8px;top:224.0px;width:0.8px;height:2.8px"></div>
<div class="t" style="left:430.2px;width:30px;text-align:center;top:228.0px">00</div>
<div class="tk" style="left:465.9px;top:224.0px;width:0.8px;height:2.8px"></div>
<div class="t" style="left:451.3px;width:30px;text-align:center;top:228.0px">05</div>
<div class="tk" style="left:487.1px;top:224.0px;width:0.8px;height:2.8px"></div>
<div class="t" style="left:472.5px;width:30px;text-align:center;top:228.0px">10</div>
<div class="tk" style="left:508.2px;top:224.0px;width:0.8px;height:2.8px"></div>
<div class="t" style="left:493.6px;width:30px;text-align:center;top:228.0px">15</div>
<div class="tk" style="left:529.3px;top:224.0px;width:0.8px;height:2.8px"></div>
<div class="t" style="left:514.7px;width:30px;text-align:center;top:228.0px">20</div>
<div class="t" style="left:463.8px;width:60px;text-align:center;top:240.0px">Local time</div>
<div class="t" style="left:401.8px;top:178.6px;width:30px;text-align:center;transform-origin:50% 50%;transform:rotate(-90deg) scaleY(1.08)">HWD</div>
<div class="ax" style="left:40.2px;top:268.9px"><div class="hm"><i class="c0" style="background:linear-gradient(#343434 4.0px,#707070 9.4px,#878787 14.8px,#4b4b4b 20.1px,#1e1e1e 25.5px,#141414 30.9px,#141414 36.3px,#1a1a1a 41.7px,#2d2d2d 47.0px,#5a5a5a 52.4px,#8e8e8e 57.8px,#696969 63.2px,#2d2d2d 68.6px,#181818 73.9px,#181818 84.7px)"></i><i style="left:12.68px;background:linear-gradient(#383838 4.0px,#787878 9.4px,#9e9e9e 14.8px,#525252 20.1px,#1e1e1e 25.5px,#141414 30.9px,#141414 36.3px,#1a1a1a 41.7px,#2d2d2d 47.0px,#878787 57.8px,#696969 63.2px,#2d2d2d 68.6px,#181818 73.9px,#181818 84.7px)"></i><i style="left:16.90px;background:linear-gradient(#383838 4.0px,#787878 9.4px,#bcbcbc 14.8px,#5a5a5a 20.1px,#222222 25.5px,#141414 30.9px,#141414 36.3px,#1a1a1a 41.7px,#2d2d2d 47.0px,#787878 57.8px,#656565 63.2px,#2d2d2d 68.6px,#181818 73.9px,#181818 84.7px)"></i><i style="left:21.13px;background:linear-gradient(#383838 4.0px,#7c7c7c 9.4px,#d6d6d6 14.8px,#5e5e5e 20.1px,#222222 25.5px,#141414 30.9px,#141414 36.3px,#1a1a1a 41.7px,#262626 47.0px,#444444 52.4px,#696969 57.8px,#5a5a5a 63.2px,#2d2d2d 68.6px,#181818 73.9px,#181818 84.7px)"></i><i style="left:25.36px;background:linear-gradient(#383838 4.0px,#7c7c7c 9.4px,#d6d6d6 14.8px,#5e5e5e 20.1px,#222222 25.5px,#141414 30.9px,#141414 36.3px,#1a1a1a 41.7px,#262626 47.0px,#3c3c3c 52.4px,#626262 57.8px,#525252 63.2px,#2d2d2d 68.6px,#181818 73.9px,#181818 84.7px)"></i><i style="left:29.58px;background:linear-gradient(#383838 4.0px,#7c7c7c 9.4px,#d6d6d6 14.8px,#5e5e5e 20.1px,#222222 25.5px,#141414 30.9px,#141414 36.3px,#1a1a1a 41.7px,#262626 47.0px,#3c3c3c 52.4px,#626262 57.8px,#525252 63.2px,#2d2d2d 68.6px,#181818 73.9px,#181818 84.7px)"></i><i style="left:33.81px;background:linear-gradient(#383838 4.0px,#7c7c7c 9.4px,#d6d6d6 14.8px,#5e5e5e 20.1px,#222222 25.5px,#141414 30.9px,#141414 36.3px,#1a1a1a 41.7px,#262626 47.0px,#3c3c3c 52.4px,#626262 57.8px,#525252 63.2px,#2d2d2d 68.6px,#181818 73.9px,#181818 84.7px)"></i><i style="left:38.03px;background:linear-gradient(#383838 4.0px,#7c7c7c 9.4px,#d6d6d6 14.8px,#5e5e5e 20.1px,#222222 25.5px,#141414 30.9px,#141414 36.3px,#1a1a1a 41.7px,#262626 47.0px,#3c3c3c 52.4px,#626262 57.8px,#525252 63.2px,#2d2d2d 68.6px,#181818 73.9px,#181818 84.7px)"></i><i style="left:42.26px;background:linear-gradient(#383838 4.0px,#7c7c7c 9.4px,#d6d6d6 14.8px,#5e5e5e 20.1px,#222222 25.5px,#141414 30.9px,#141414 36.3px,#1a1a1a 41.7px,#262626 47.0px,#3c3c3c 52.4px,#626262 57.8px,#525252 63.2px,#2d2d2d 68.6px,#181818 73.9px,#181818 84.7px)"></i><i style="left:46.49px;background:linear-gradient(#383838 4.0px,#7c7c7c 9.4px,#d6d6d6 14.8px,#5e5e5e 20.1px,#222222 25.5px,#141414 30.9px,#141414 36.3px,#1a1a1a 41.7px,#262626 47.0px,#3c3c3c 52.4px,#626262 57.8px,#525252 63.2px,#2d2d2d 68.6px,#181818 73.9px,#181818 84.7px)"></i><i style="left:50.71px;background:linear-gradient(#383838 4.0px,#7c7c7c 9.4px,#d6d6d6 14.8px,#5e5e5e 20.1px,#222222 25.5px,#141414 30.9px,#141414 36.3px,#1a1a1a 41.7px,#262626 47.0px,#3c3c3c 52.4px,#626262 57.8px,#525252 63.2px,#2d2d2d 68.6px,#181818 73.9px,#181818 84.7px)"></i><i style="left:54.94px;background:linear-gradient(#313131 4.0px,#626262 9.4px,#acacac 14.8px,#525252 20.1px,#222222 25.5px,#141414 30.9px,#141414 36.3px,#1a1a1a 41.7px,#262626 47.0px,#3c3c3c 52.4px,#626262 57.8px,#525252 63.2px,#2d2d2d 68.6px,#181818 73.9px,#181818 84.7px)"></i><i style="left:59.17px;background:linear-gradient(#2d2d2d 4.0px,#525252 9.4px,#808080 14.8px,#4b4b4b 20.1px,#222222 25.5px,#141414 30.9px,#141414 36.3px,#1a1a1a 41.7px,#292929 47.0px,#525252 52.4px,#878787 57.8px,#707070 63.2px,#313131 68.6px,#181818 73.9px,#181818 84.7px)"></i><i style="left:63.39px;background:linear-gradient(#262626 4.0px,#626262 14.8px,#444444 20.1px,#1e1e1e 25.5px,#141414 30.9px,#141414 36.3px,#1a1a1a 41.7px,#313131 47.0px,#626262 52.4px,#acacac 57.8px,#969696 63.2px,#383838 68.6px,#181818 73.9px,#181818 84.7px)"></i><i style="left:67.62px;background:linear-gradient(#222222 4.0px,#343434 9.4px,#404040 14.8px,#383838 20.1px,#1e1e1e 25.5px,#141414 30.9px,#141414 36.3px,#1a1a1a 41.7px,#343434 47.0px,#626262 52.4px,#cacaca 57.8px,#b4b4b4 63.2px,#3c3c3c 68.6px,#181818 73.9px,#181818 84.7px)"></i><i style="left:71.84px;background:linear-gradient(#1a1a1a 4.0px,#222222 9.4px,#262626 14.8px,#222222 20.1px,#1a1a1a 25.5px,#141414 30.9px,#141414 36.3px,#1a1a1a 41.7px,#343434 47.0px,#636363 52.4px,#cccccc 57.8px,#b5b5b5 63.2px,#3c3c3c 68.6px,#181818 73.9px,#181818 84.7px)"></i><i style="left:76.07px;background:linear-gradient(#181818 4.0px,#181818 25.5px,#141414 30.9px,#141414 36.3px,#1a1a1a 41.7px,#343434 47.0px,#646464 52.4px,#cdcdcd 57.8px,#b6b6b6 63.2px,#3c3c3c 68.6px,#181818 73.9px,#181818 84.7px)"></i><i style="left:80.30px;background:linear-gradient(#181818 4.0px,#181818 25.5px,#141414 30.9px,#141414 36.3px,#1a1a1a 41.7px,#343434 47.0px,#656565 52.4px,#cecece 57.8px,#b8b8b8 63.2px,#3c3c3c 68.6px,#181818 73.9px,#181818 84.7px)"></i><i style="left:84.52px;background:linear-gradient(#181818 4.0px,#181818 25.5px,#141414 30.9px,#141414 36.3px,#1a1a1a 41.7px,#343434 47.0px,#666666 52.4px,#d0d0d0 57.8px,#b9b9b9 63.2px,#3c3c3c 68.6px,#181818 73.9px,#181818 84.7px)"></i><i style="left:88.75px;background:linear-gradient(#181818 4.0px,#181818 25.5px,#141414 30.9px,#141414 36.3px,#1a1a1a 41.7px,#343434 47.0px,#686868 52.4px,#d1d1d1 57.8px,#bababa 63.2px,#3c3c3c 68.6px,#181818 73.9px,#181818 84.7px)"></i><i style="left:92.97px;background:linear-gradient(#181818 4.0px,#181818 25.5px,#141414 30.9px,#141414 36.3px,#1a1a1a 41.7px,#343434 47.0px,#696969 52.4px,#d2d2d2 57.8px,#bcbcbc 63.2px,#3c3c3c 68.6px,#181818 73.9px,#181818 84.7px)"></i><i style="left:97.20px;background:linear-gradient(#181818 4.0px,#181818 25.5px,#141414 30.9px,#141414 36.3px,#1a1a1a 41.7px,#363636 47.0px,#6c6c6c 52.4px,#d0d0d0 57.8px,#b6b6b6 63.2px,#3c3c3c 68.6px,#181818 73.9px,#181818 84.7px)"></i><i style="left:101.43px;background:linear-gradient(#181818 4.0px,#181818 25.5px,#141414 30.9px,#141414 36.3px,#1a1a1a 41.7px,#373737 47.0px,#6e6e6e 52.4px,#cdcdcd 57.8px,#b2b2b2 63.2px,#3c3c3c 68.6px,#181818 73.9px,#181818 84.7px)"></i><i style="left:105.65px;background:linear-gradient(#181818 4.0px,#181818 25.5px,#141414 30.9px,#141414 36.3px,#1a1a1a 41.7px,#383838 47.0px,#707070 52.4px,#cacaca 57.8px,#acacac 63.2px,#3c3c3c 68.6px,#181818 73.9px,#181818 84.7px)"></i></div><svg class="ln" width="97.2" height="80.7" viewBox="0 0 97.2 80.7"><polyline points="0.0,53.8 4.2,53.8 8.5,10.8 12.7,10.8 16.9,10.8 21.1,10.8 25.4,10.8 29.6,10.8 33.8,10.8 38.0,10.8 42.3,10.8 46.5,10.8 50.7,10.8 54.9,53.8 59.2,53.8 63.4,53.8 67.6,53.8 71.8,53.8 76.1,53.8 80.3,53.8 84.5,53.8 88.7,53.8 93.0,53.8 97.2,53.8" fill="none" stroke="#000" stroke-opacity=".85" stroke-width="1.4" stroke-linejoin="miter"/></svg></div>
<div class="fr" style="left:39.7px;top:268.4px"></div>
<div class="t" style="left:48.8px;width:80px;text-align:center;top:257.4px">(c1) Aut. - NL</div>
<div class="tk" style="left:37.4px;top:349.2px;width:2.8px;height:0.8px"></div>
<div class="t" style="right:513.4px;top:344.3px">N</div>
<div class="tk" style="left:37.4px;top:338.4px;width:2.8px;height:0.8px"></div>
<div class="t" style="right:513.4px;top:333.5px">NE</div>
<div class="tk" style="left:37.4px;top:327.7px;width:2.8px;height:0.8px"></div>
<div class="t" style="right:513.4px;top:322.8px">E</div>
<div class="tk" style="left:37.4px;top:316.9px;width:2.8px;height:0.8px"></div>
<div class="t" style="right:513.4px;top:312.0px">SE</div>
<div class="tk" style="left:37.4px;top:306.2px;width:2.8px;height:0.8px"></div>
<div class="t" style="right:513.4px;top:301.3px">S</div>
<div class="tk" style="left:37.4px;top:295.4px;width:2.8px;height:0.8px"></div>
<div class="t" style="right:513.4px;top:290.5px">SW</div>
<div class="tk" style="left:37.4px;top:284.6px;width:2.8px;height:0.8px"></div>
<div class="t" style="right:513.4px;top:279.7px">W</div>
<div class="tk" style="left:37.4px;top:273.9px;width:2.8px;height:0.8px"></div>
<div class="t" style="right:513.4px;top:269.0px">NW</div>
<div class="tk" style="left:39.8px;top:349.6px;width:0.8px;height:2.8px"></div>
<div class="t" style="left:25.2px;width:30px;text-align:center;top:353.6px">00</div>
<div class="tk" style="left:60.9px;top:349.6px;width:0.8px;height:2.8px"></div>
<div class="t" style="left:46.3px;width:30px;text-align:center;top:353.6px">05</div>
<div class="tk" style="left:82.1px;top:349.6px;width:0.8px;height:2.8px"></div>
<div class="t" style="left:67.5px;width:30px;text-align:center;top:353.6px">10</div>
<div class="tk" style="left:103.2px;top:349.6px;width:0.8px;height:2.8px"></div>
<div class="t" style="left:88.6px;width:30px;text-align:center;top:353.6px">15</div>
<div class="tk" style="left:124.3px;top:349.6px;width:0.8px;height:2.8px"></div>
<div class="t" style="left:109.7px;width:30px;text-align:center;top:353.6px">20</div>
<div class="t" style="left:58.8px;width:60px;text-align:center;top:365.6px">Local time</div>
<div class="t" style="left:-3.2px;top:304.2px;width:30px;text-align:center;transform-origin:50% 50%;transform:rotate(-90deg) scaleY(1.08)">HWD</div>
<div class="ax" style="left:175.2px;top:268.9px"><div class="hm"><i class="c0" style="background:linear-gradient(#181818 4.0px,#181818 20.1px,#121212 25.5px,#121212 36.3px,#161616 41.7px,#1e1e1e 47.0px,#4b4b4b 52.4px,#dadada 57.8px,#969696 63.2px,#262626 68.6px,#181818 73.9px,#181818 84.7px)"></i><i style="left:12.68px;background:linear-gradient(#181818 4.0px,#181818 20.1px,#121212 25.5px,#121212 36.3px,#161616 41.7px,#1e1e1e 47.0px,#4b4b4b 52.4px,#dadada 57.8px,#969696 63.2px,#262626 68.6px,#181818 73.9px,#181818 84.7px)"></i><i style="left:16.90px;background:linear-gradient(#181818 4.0px,#181818 20.1px,#121212 25.5px,#121212 36.3px,#161616 41.7px,#1e1e1e 47.0px,#4b4b4b 52.4px,#dadada 57.8px,#969696 63.2px,#262626 68.6px,#181818 73.9px,#181818 84.7px)"></i><i style="left:21.13px;background:linear-gradient(#181818 4.0px,#181818 20.1px,#121212 25.5px,#121212 36.3px,#161616 41.7px,#1e1e1e 47.0px,#4b4b4b 52.4px,#dadada 57.8px,#969696 63.2px,#262626 68.6px,#181818 73.9px,#181818 84.7px)"></i><i style="left:25.36px;background:linear-gradient(#262626 4.0px,#2d2d2d 9.4px,#2d2d2d 14.8px,#222222 20.1px,#121212 30.9px,#121212 36.3px,#161616 41.7px,#1e1e1e 47.0px,#4b4b4b 52.4px,#dadada 57.8px,#969696 63.2px,#262626 68.6px,#181818 73.9px,#181818 84.7px)"></i><i style="left:29.58px;background:linear-gradient(#343434 4.0px,#444444 9.4px,#444444 14.8px,#2d2d2d 20.1px,#1e1e1e 25.5px,#121212 30.9px,#121212 36.3px,#161616 41.7px,#1e1e1e 47.0px,#4b4b4b 52.4px,#cacaca 57.8px,#838383 63.2px,#262626 68.6px,#181818 73.9px,#181818 84.7px)"></i><i style="left:33.81px;background:linear-gradient(#444444 4.0px,#5a5a5a 9.4px,#5a5a5a 14.8px,#343434 20.1px,#1e1e1e 25.5px,#121212 30.9px,#121212 36.3px,#161616 41.7px,#1e1e1e 47.0px,#4b4b4b 52.4px,#bcbcbc 57.8px,#707070 63.2px,#262626 68.6px,#181818 73.9px,#181818 84.7px)"></i><i style="left:38.03px;background:linear-gradient(#4b4b4b 4.0px,#707070 9.4px,#696969 14.8px,#3c3c3c 20.1px,#1e1e1e 25.5px,#121212 30.9px,#121212 36.3px,#161616 41.7px,#1e1e1e 47.0px,#4b4b4b 52.4px,#a9a9a9 57.8px,#696969 63.2px,#262626 68.6px,#181818 73.9px,#181818 84.7px)"></i><i style="left:42.26px;background:linear-gradient(#525252 4.0px,#878787 9.4px,#787878 14.8px,#3c3c3c 20.1px,#1e1e1e 25.5px,#121212 30.9px,#121212 36.3px,#161616 41.7px,#1e1e1e 47.0px,#4b4b4b 52.4px,#969696 57.8px,#626262 63.2px,#262626 68.6px,#181818 73.9px,#181818 84.7px)"></i><i style="left:46.49px;background:linear-gradient(#5a5a5a 4.0px,#969696 9.4px,#808080 14.8px,#404040 20.1px,#1e1e1e 25.5px,#121212 30.9px,#121212 36.3px,#161616 41.7px,#1e1e1e 47.0px,#4c4c4c 52.4px,#969696 57.8px,#626262 63.2px,#262626 68.6px,#181818 73.9px,#181818 84.7px)"></i><i style="left:50.71px;background:linear-gradient(#5a5a5a 4.0px,#969696 9.4px,#878787 14.8px,#444444 20.1px,#1e1e1e 25.5px,#121212 30.9px,#121212 36.3px,#161616 41.7px,#1e1e1e 47.0px,#4d4d4d 52.4px,#969696 57.8px,#626262 63.2px,#262626 68.6px,#181818 73.9px,#181818 84.7px)"></i><i style="left:54.94px;background:linear-gradient(#525252 4.0px,#878787 9.4px,#969696 14.8px,#444444 20.1px,#1e1e1e 25.5px,#121212 30.9px,#121212 36.3px,#161616 41.7px,#1e1e1e 47.0px,#4e4e4e 52.4px,#969696 57.8px,#626262 63.2px,#262626 68.6px,#181818 73.9px,#181818 84.7px)"></i><i style="left:59.17px;background:linear-gradient(#4b4b4b 4.0px,#787878 9.4px,#8e8e8e 14.8px,#444444 20.1px,#1e1e1e 25.5px,#121212 30.9px,#121212 36.3px,#161616 41.7px,#1e1e1e 47.0px,#4f4f4f 52.4px,#969696 57.8px,#626262 63.2px,#262626 68.6px,#181818 73.9px,#181818 84.7px)"></i><i style="left:63.39px;background:linear-gradient(#444444 4.0px,#696969 9.4px,#787878 14.8px,#404040 20.1px,#1e1e1e 25.5px,#121212 30.9px,#121212 36.3px,#161616 41.7px,#202020 47.0px,#515151 52.4px,#a5a5a5 57.8px,#626262 63.2px,#262626 68.6px,#181818 73.9px,#181818 84.7px)"></i><i style="left:67.62px;background:linear-gradient(#3c3c3c 4.0px,#5a5a5a 9.4px,#696969 14.8px,#3c3c3c 20.1px,#1e1e1e 25.5px,#121212 30.9px,#121212 36.3px,#161616 41.7px,#222222 47.0px,#525252 52.4px,#b4b4b4 57.8px,#626262 63.2px,#262626 68.6px,#181818 73.9px,#181818 84.7px)"></i><i style="left:71.84px;background:linear-gradient(#313131 4.0px,#444444 9.4px,#4b4b4b 14.8px,#313131 20.1px,#1e1e1e 25.5px,#121212 30.9px,#121212 36.3px,#161616 41.7px,#222222 47.0px,#565656 52.4px,#bfbfbf 57.8px,#656565 63.2px,#262626 68.6px,#181818 73.9px,#181818 84.7px)"></i><i style="left:76.07px;background:linear-gradient(#262626 4.0px,#343434 14.8px,#262626 20.1px,#1a1a1a 25.5px,#121212 30.9px,#121212 36.3px,#161616 41.7px,#222222 47.0px,#5a5a5a 52.4px,#cacaca 57.8px,#696969 63.2px,#262626 68.6px,#181818 73.9px,#181818 84.7px)"></i><i style="left:80.30px;background:linear-gradient(#1a1a1a 4.0px,#1e1e1e 9.4px,#1e1e1e 14.8px,#121212 30.9px,#121212 36.3px,#161616 41.7px,#242424 47.0px,#5e5e5e 52.4px,#cacaca 57.8px,#696969 63.2px,#262626 68.6px,#181818 73.9px,#181818 84.7px)"></i><i style="left:84.52px;background:linear-gradient(#181818 4.0px,#181818 20.1px,#121212 25.5px,#121212 36.3px,#161616 41.7px,#262626 47.0px,#626262 52.4px,#cacaca 57.8px,#696969 63.2px,#262626 68.6px,#181818 73.9px,#181818 84.7px)"></i><i style="left:88.75px;background:linear-gradient(#181818 4.0px,#181818 20.1px,#121212 25.5px,#121212 36.3px,#161616 41.7px,#252525 47.0px,#5e5e5e 52.4px,#cacaca 57.8px,#696969 63.2px,#262626 68.6px,#181818 73.9px,#181818 84.7px)"></i><i style="left:92.97px;background:linear-gradient(#181818 4.0px,#181818 20.1px,#121212 25.5px,#121212 36.3px,#161616 41.7px,#242424 47.0px,#5c5c5c 52.4px,#cacaca 57.8px,#696969 63.2px,#262626 68.6px,#181818 73.9px,#181818 84.7px)"></i><i style="left:97.20px;background:linear-gradient(#181818 4.0px,#181818 20.1px,#121212 25.5px,#121212 36.3px,#161616 41.7px,#232323 47.0px,#595959 52.4px,#cacaca 57.8px,#696969 63.2px,#262626 68.6px,#181818 73.9px,#181818 84.7px)"></i><i style="left:101.43px;background:linear-gradient(#181818 4.0px,#181818 20.1px,#121212 25.5px,#121212 36.3px,#161616 41.7px,#222222 47.0px,#565656 52.4px,#cacaca 57.8px,#696969 63.2px,#262626 68.6px,#181818 73.9px,#181818 84.7px)"></i><i style="left:105.65px;background:linear-gradient(#181818 4.0px,#181818 20.1px,#121212 25.5px,#121212 36.3px,#161616 41.7px,#222222 47.0px,#525252 52.4px,#cacaca 57.8px,#696969 63.2px,#262626 68.6px,#181818 73.9px,#181818 84.7px)"></i></div><svg class="ln" width="97.2" height="80.7" viewBox="0 0 97.2 80.7"><polyline points="0.0,53.8 4.2,53.8 8.5,53.8 12.7,53.8 16.9,53.8 21.1,53.8 25.4,53.8 29.6,53.8 33.8,53.8 38.0,5.4 42.3,5.4 46.5,10.8 50.7,10.8 54.9,10.8 59.2,53.8 63.4,53.8 67.6,53.8 71.8,53.8 76.1,53.8 80.3,53.8 84.5,53.8 88.7,53.8 93.0,53.8 97.2,53.8" fill="none" stroke="#000" stroke-opacity=".85" stroke-width="1.4" stroke-linejoin="miter"/></svg></div>
<div class="fr" style="left:174.7px;top:268.4px"></div>
<div class="t" style="left:183.8px;width:80px;text-align:center;top:257.4px">(c2) Aut. - LL</div>
<div class="tk" style="left:172.4px;top:349.2px;width:2.8px;height:0.8px"></div>
<div class="t" style="right:378.4px;top:344.3px">N</div>
<div class="tk" style="left:172.4px;top:338.4px;width:2.8px;height:0.8px"></div>
<div class="t" style="right:378.4px;top:333.5px">NE</div>
<div class="tk" style="left:172.4px;top:327.7px;width:2.8px;height:0.8px"></div>
<div class="t" style="right:378.4px;top:322.8px">E</div>
<div class="tk" style="left:172.4px;top:316.9px;width:2.8px;height:0.8px"></div>
<div class="t" style="right:378.4px;top:312.0px">SE</div>
<div class="tk" style="left:172.4px;top:306.2px;width:2.8px;height:0.8px"></div>
<div class="t" style="right:378.4px;top:301.3px">S</div>
<div class="tk" style="left:172.4px;top:295.4px;width:2.8px;height:0.8px"></div>
<div class="t" style="right:378.4px;top:290.5px">SW</div>
<div class="tk" style="left:172.4px;top:284.6px;width:2.8px;height:0.8px"></div>
<div class="t" style="right:378.4px;top:279.7px">W</div>
<div class="tk" style="left:172.4px;top:273.9px;width:2.8px;height:0.8px"></div>
<div class="t" style="right:378.4px;top:269.0px">NW</div>
<div class="tk" style="left:174.8px;top:349.6px;width:0.8px;height:2.8px"></div>
<div class="t" style="left:160.2px;width:30px;text-align:center;top:353.6px">00</div>
<div class="tk" style="left:195.9px;top:349.6px;width:0.8px;height:2.8px"></div>
<div class="t" style="left:181.3px;width:30px;text-align:center;top:353.6px">05</div>
<div class="tk" style="left:217.1px;top:349.6px;width:0.8px;height:2.8px"></div>
<div class="t" style="left:202.5px;width:30px;text-align:center;top:353.6px">10</div>
<div class="tk" style="left:238.2px;top:349.6px;width:0.8px;height:2.8px"></div>
<div class="t" style="left:223.6px;width:30px;text-align:center;top:353.6px">15</div>
<div class="tk" style="left:259.3px;top:349.6px;width:0.8px;height:2.8px"></div>
<div class="t" style="left:244.7px;width:30px;text-align:center;top:353.6px">20</div>
<div class="t" style="left:193.8px;width:60px;text-align:center;top:365.6px">Local time</div>
<div class="t" style="left:131.8px;top:304.2px;width:30px;text-align:center;transform-origin:50% 50%;transform:rotate(-90deg) scaleY(1.08)">HWD</div>
<div class="ax" style="left:310.2px;top:268.9px"><div class="hm"><i class="c0" style="background:linear-gradient(#2d2d2d 4.0px,#444444 14.8px,#474747 20.1px,#474747 25.5px,#444444 30.9px,#444444 41.7px,#4b4b4b 47.0px,#626262 52.4px,#343434 63.2px,#111111 73.9px,#111111 84.7px)"></i><i style="left:12.68px;background:linear-gradient(#2d2d2d 4.0px,#3c3c3c 9.4px,#474747 14.8px,#4b4b4b 20.1px,#444444 30.9px,#444444 41.7px,#474747 47.0px,#4f4f4f 52.4px,#474747 57.8px,#111111 73.9px,#111111 84.7px)"></i><i style="left:16.90px;background:linear-gradient(#2d2d2d 4.0px,#3c3c3c 9.4px,#4f4f4f 14.8px,#565656 20.1px,#4b4b4b 25.5px,#444444 30.9px,#404040 36.3px,#404040 41.7px,#444444 47.0px,#4b4b4b 52.4px,#474747 57.8px,#111111 73.9px,#111111 84.7px)"></i><i style="left:21.13px;background:linear-gradient(#2d2d2d 4.0px,#404040 9.4px,#5a5a5a 14.8px,#707070 20.1px,#525252 25.5px,#3c3c3c 30.9px,#2d2d2d 36.3px,#2d2d2d 41.7px,#383838 47.0px,#4f4f4f 52.4px,#4b4b4b 57.8px,#343434 63.2px,#111111 73.9px,#111111 84.7px)"></i><i style="left:25.36px;background:linear-gradient(#313131 4.0px,#474747 9.4px,#6d6d6d 14.8px,#8b8b8b 20.1px,#5a5a5a 25.5px,#3c3c3c 30.9px,#292929 36.3px,#262626 41.7px,#343434 47.0px,#525252 52.4px,#4f4f4f 57.8px,#222222 68.6px,#111111 73.9px,#111111 84.7px)"></i><i style="left:29.58px;background:linear-gradient(#323232 4.0px,#484848 9.4px,#6f6f6f 14.8px,#8e8e8e 20.1px,#5a5a5a 25.5px,#3c3c3c 30.9px,#292929 36.3px,#222222 41.7px,#313131 47.0px,#4f4f4f 52.4px,#4b4b4b 57.8px,#383838 63.2px,#222222 68.6px,#111111 73.9px,#111111 84.7px)"></i><i style="left:33.81px;background:linear-gradient(#333333 4.0px,#4a4a4a 9.4px,#727272 14.8px,#929292 20.1px,#5a5a5a 25.5px,#3c3c3c 30.9px,#292929 36.3px,#222222 41.7px,#2d2d2d 47.0px,#474747 52.4px,#444444 57.8px,#343434 63.2px,#111111 73.9px,#111111 84.7px)"></i><i style="left:38.03px;background:linear-gradient(#343434 4.0px,#4b4b4b 9.4px,#747474 14.8px,#969696 20.1px,#5a5a5a 25.5px,#3c3c3c 30.9px,#292929 36.3px,#222222 41.7px,#313131 47.0px,#525252 52.4px,#4f4f4f 57.8px,#222222 68.6px,#111111 73.9px,#111111 84.7px)"></i><i style="left:42.26px;background:linear-gradient(#343434 4.0px,#4c4c4c 9.4px,#787878 14.8px,#969696 20.1px,#5a5a5a 25.5px,#3c3c3c 30.9px,#292929 36.3px,#222222 41.7px,#313131 47.0px,#525252 52.4px,#4f4f4f 57.8px,#222222 68.6px,#111111 73.9px,#111111 84.7px)"></i><i style="left:46.49px;background:linear-gradient(#343434 4.0px,#4e4e4e 9.4px,#7c7c7c 14.8px,#969696 20.1px,#5a5a5a 25.5px,#3c3c3c 30.9px,#292929 36.3px,#222222 41.7px,#313131 47.0px,#525252 52.4px,#4f4f4f 57.8px,#222222 68.6px,#111111 73.9px,#111111 84.7px)"></i><i style="left:50.71px;background:linear-gradient(#343434 4.0px,#4f4f4f 9.4px,#808080 14.8px,#969696 20.1px,#5a5a5a 25.5px,#3c3c3c 30.9px,#292929 36.3px,#222222 41.7px,#2f2f2f 47.0px,#4f4f4f 52.4px,#4d4d4d 57.8px,#363636 63.2px,#222222 68.6px,#111111 73.9px,#111111 84.7px)"></i><i style="left:54.94px;background:linear-gradient(#3c3c3c 4.0px,#626262 9.4px,#b4b4b4 14.8px,#9e9e9e 20.1px,#5e5e5e 25.5px,#3c3c3c 30.9px,#292929 36.3px,#222222 41.7px,#2d2d2d 47.0px,#4b4b4b 52.4px,#4b4b4b 57.8px,#343434 63.2px,#111111 73.9px,#111111 84.7px)"></i><i style="left:59.17px;background:linear-gradient(#404040 4.0px,#6d6d6d 9.4px,#dadada 14.8px,#9a9a9a 20.1px,#5e5e5e 25.5px,#3c3c3c 30.9px,#292929 36.3px,#1e1e1e 41.7px,#262626 47.0px,#383838 52.4px,#383838 57.8px,#2d2d2d 63.2px,#1e1e1e 68.6px,#111111 73.9px,#111111 84.7px)"></i><i style="left:63.39px;background:linear-gradient(#404040 4.0px,#6d6d6d 9.4px,#dadada 14.8px,#9a9a9a 20.1px,#5e5e5e 25.5px,#3c3c3c 30.9px,#292929 36.3px,#1e1e1e 41.7px,#222222 47.0px,#292929 52.4px,#2d2d2d 57.8px,#1e1e1e 68.6px,#111111 73.9px,#111111 84.7px)"></i><i style="left:67.62px;background:linear-gradient(#404040 4.0px,#6d6d6d 9.4px,#dadada 14.8px,#9a9a9a 20.1px,#5e5e5e 25.5px,#3c3c3c 30.9px,#292929 36.3px,#1e1e1e 41.7px,#242424 47.0px,#2f2f2f 52.4px,#363636 57.8px,#313131 63.2px,#222222 68.6px,#111111 73.9px,#111111 84.7px)"></i><i style="left:71.84px;background:linear-gradient(#404040 4.0px,#6d6d6d 9.4px,#dadada 14.8px,#9a9a9a 20.1px,#5e5e5e 25.5px,#3c3c3c 30.9px,#292929 36.3px,#1e1e1e 41.7px,#262626 47.0px,#343434 52.4px,#404040 57.8px,#3c3c3c 63.2px,#111111 73.9px,#111111 84.7px)"></i><i style="left:76.07px;background:linear-gradient(#404040 4.0px,#656565 9.4px,#bcbcbc 14.8px,#969696 20.1px,#5a5a5a 25.5px,#3c3c3c 30.9px,#292929 36.3px,#1e1e1e 41.7px,#292929 47.0px,#4f4f4f 57.8px,#4b4b4b 63.2px,#2d2d2d 68.6px,#111111 73.9px,#111111 84.7px)"></i><i style="left:80.30px;background:linear-gradient(#3c3c3c 4.0px,#5a5a5a 9.4px,#929292 14.8px,#808080 20.1px,#525252 25.5px,#3c3c3c 30.9px,#292929 36.3px,#1e1e1e 41.7px,#2d2d2d 47.0px,#444444 52.4px,#565656 57.8px,#4f4f4f 63.2px,#313131 68.6px,#111111 73.9px,#111111 84.7px)"></i><i style="left:84.52px;background:linear-gradient(#343434 4.0px,#474747 9.4px,#525252 14.8px,#4f4f4f 20.1px,#404040 25.5px,#343434 30.9px,#262626 36.3px,#222222 41.7px,#343434 47.0px,#5a5a5a 52.4px,#707070 57.8px,#525252 63.2px,#111111 73.9px,#111111 84.7px)"></i><i style="left:88.75px;background:linear-gradient(#343434 4.0px,#474747 9.4px,#4f4f4f 14.8px,#4b4b4b 20.1px,#2d2d2d 30.9px,#222222 36.3px,#262626 41.7px,#3c3c3c 47.0px,#696969 52.4px,#808080 57.8px,#565656 63.2px,#313131 68.6px,#111111 73.9px,#111111 84.7px)"></i><i style="left:92.97px;background:linear-gradient(#343434 4.0px,#474747 9.4px,#4f4f4f 14.8px,#4b4b4b 20.1px,#2d2d2d 30.9px,#222222 36.3px,#262626 41.7px,#404040 47.0px,#6d6d6d 52.4px,#878787 57.8px,#585858 63.2px,#313131 68.6px,#111111 73.9px,#111111 84.7px)"></i><i style="left:97.20px;background:linear-gradient(#343434 4.0px,#474747 9.4px,#4f4f4f 14.8px,#4b4b4b 20.1px,#2d2d2d 30.9px,#222222 36.3px,#262626 41.7px,#444444 47.0px,#707070 52.4px,#8e8e8e 57.8px,#5a5a5a 63.2px,#313131 68.6px,#111111 73.9px,#111111 84.7px)"></i><i style="left:101.43px;background:linear-gradient(#343434 4.0px,#474747 9.4px,#4f4f4f 14.8px,#4b4b4b 20.1px,#2d2d2d 30.9px,#222222 36.3px,#262626 41.7px,#444444 47.0px,#707070 52.4px,#8e8e8e 57.8px,#5a5a5a 63.2px,#313131 68.6px,#111111 73.9px,#111111 84.7px)"></i><i style="left:105.65px;background:linear-gradient(#343434 4.0px,#474747 9.4px,#4f4f4f 14.8px,#4b4b4b 20.1px,#2d2d2d 30.9px,#222222 36.3px,#262626 41.7px,#444444 47.0px,#707070 52.4px,#8e8e8e 57.8px,#5a5a5a 63.2px,#313131 68.6px,#111111 73.9px,#111111 84.7px)"></i></div><svg class="ln" width="97.2" height="80.7" viewBox="0 0 97.2 80.7"><polyline points="0.0,53.3 2.5,50.6 5.1,46.3 7.6,39.8 9.7,31.2 11.4,22.6 12.7,16.1 42.3,16.1 46.5,10.8 71.8,10.8 76.1,53.8 97.2,53.8" fill="none" stroke="#000" stroke-opacity=".85" stroke-width="1.4" stroke-linejoin="round"/></svg></div>
<div class="fr" style="left:309.7px;top:268.4px"></div>
<div class="t" style="left:318.8px;width:80px;text-align:center;top:257.4px">(c3) Aut. - ML</div>
<div class="tk" style="left:307.4px;top:349.2px;width:2.8px;height:0.8px"></div>
<div class="t" style="right:243.4px;top:344.3px">N</div>
<div class="tk" style="left:307.4px;top:338.4px;width:2.8px;height:0.8px"></div>
<div class="t" style="right:243.4px;top:333.5px">NE</div>
<div class="tk" style="left:307.4px;top:327.7px;width:2.8px;height:0.8px"></div>
<div class="t" style="right:243.4px;top:322.8px">E</div>
<div class="tk" style="left:307.4px;top:316.9px;width:2.8px;height:0.8px"></div>
<div class="t" style="right:243.4px;top:312.0px">SE</div>
<div class="tk" style="left:307.4px;top:306.2px;width:2.8px;height:0.8px"></div>
<div class="t" style="right:243.4px;top:301.3px">S</div>
<div class="tk" style="left:307.4px;top:295.4px;width:2.8px;height:0.8px"></div>
<div class="t" style="right:243.4px;top:290.5px">SW</div>
<div class="tk" style="left:307.4px;top:284.6px;width:2.8px;height:0.8px"></div>
<div class="t" style="right:243.4px;top:279.7px">W</div>
<div class="tk" style="left:307.4px;top:273.9px;width:2.8px;height:0.8px"></div>
<div class="t" style="right:243.4px;top:269.0px">NW</div>
<div class="tk" style="left:309.8px;top:349.6px;width:0.8px;height:2.8px"></div>
<div class="t" style="left:295.2px;width:30px;text-align:center;top:353.6px">00</div>
<div class="tk" style="left:330.9px;top:349.6px;width:0.8px;height:2.8px"></div>
<div class="t" style="left:316.3px;width:30px;text-align:center;top:353.6px">05</div>
<div class="tk" style="left:352.1px;top:349.6px;width:0.8px;height:2.8px"></div>
<div class="t" style="left:337.5px;width:30px;text-align:center;top:353.6px">10</div>
<div class="tk" style="left:373.2px;top:349.6px;width:0.8px;height:2.8px"></div>
<div class="t" style="left:358.6px;width:30px;text-align:center;top:353.6px">15</div>
<div class="tk" style="left:394.3px;top:349.6px;width:0.8px;height:2.8px"></div>
<div class="t" style="left:379.7px;width:30px;text-align:center;top:353.6px">20</div>
<div class="t" style="left:328.8px;width:60px;text-align:center;top:365.6px">Local time</div>
<div class="t" style="left:266.8px;top:304.2px;width:30px;text-align:center;transform-origin:50% 50%;transform:rotate(-90deg) scaleY(1.08)">HWD</div>
<div class="ax" style="left:445.2px;top:268.9px"><div class="hm"><i class="c0" style="background:linear-gradient(#222222 4.0px,#3c3c3c 9.4px,#878787 14.8px,#b4b4b4 20.1px,#626262 25.5px,#474747 30.9px,#383838 41.7px,#191919 47.0px,#191919 57.8px,#151515 63.2px,#151515 84.7px)"></i><i style="left:12.68px;background:linear-gradient(#222222 4.0px,#444444 9.4px,#969696 14.8px,#bcbcbc 20.1px,#626262 25.5px,#474747 30.9px,#383838 41.7px,#191919 47.0px,#191919 57.8px,#151515 63.2px,#151515 84.7px)"></i><i style="left:16.90px;background:linear-gradient(#262626 4.0px,#525252 9.4px,#bcbcbc 14.8px,#cacaca 20.1px,#5e5e5e 25.5px,#404040 30.9px,#313131 41.7px,#191919 47.0px,#191919 57.8px,#151515 63.2px,#151515 84.7px)"></i><i style="left:21.13px;background:linear-gradient(#262626 4.0px,#5e5e5e 9.4px,#e1e1e1 14.8px,#e1e1e1 20.1px,#5a5a5a 25.5px,#343434 30.9px,#292929 36.3px,#292929 41.7px,#191919 47.0px,#191919 57.8px,#151515 63.2px,#151515 84.7px)"></i><i style="left:25.36px;background:linear-gradient(#262626 4.0px,#5e5e5e 9.4px,#e1e1e1 14.8px,#e1e1e1 20.1px,#5a5a5a 25.5px,#313131 30.9px,#262626 36.3px,#262626 41.7px,#191919 47.0px,#191919 57.8px,#151515 63.2px,#151515 84.7px)"></i><i style="left:29.58px;background:linear-gradient(#262626 4.0px,#5e5e5e 9.4px,#dddddd 14.8px,#dadada 20.1px,#5a5a5a 25.5px,#313131 30.9px,#262626 36.3px,#262626 41.7px,#191919 47.0px,#191919 57.8px,#151515 63.2px,#151515 84.7px)"></i><i style="left:33.81px;background:linear-gradient(#262626 4.0px,#5e5e5e 9.4px,#dadada 14.8px,#d2d2d2 20.1px,#5a5a5a 25.5px,#313131 30.9px,#262626 36.3px,#262626 41.7px,#191919 47.0px,#191919 57.8px,#151515 63.2px,#151515 84.7px)"></i><i style="left:38.03px;background:linear-gradient(#262626 4.0px,#5e5e5e 9.4px,#dbdbdb 14.8px,#d2d2d2 20.1px,#5a5a5a 25.5px,#313131 30.9px,#262626 36.3px,#262626 41.7px,#191919 47.0px,#191919 57.8px,#151515 63.2px,#151515 84.7px)"></i><i style="left:42.26px;background:linear-gradient(#262626 4.0px,#5e5e5e 9.4px,#dcdcdc 14.8px,#d2d2d2 20.1px,#5a5a5a 25.5px,#313131 30.9px,#262626 36.3px,#262626 41.7px,#191919 47.0px,#191919 57.8px,#151515 63.2px,#151515 84.7px)"></i><i style="left:46.49px;background:linear-gradient(#262626 4.0px,#5e5e5e 9.4px,#dddddd 14.8px,#d2d2d2 20.1px,#5a5a5a 25.5px,#313131 30.9px,#262626 36.3px,#262626 41.7px,#191919 47.0px,#191919 57.8px,#151515 63.2px,#151515 84.7px)"></i><i style="left:50.71px;background:linear-gradient(#262626 4.0px,#5e5e5e 9.4px,#dedede 14.8px,#d2d2d2 20.1px,#5a5a5a 25.5px,#313131 30.9px,#262626 36.3px,#262626 41.7px,#191919 47.0px,#191919 57.8px,#151515 63.2px,#151515 84.7px)"></i><i style="left:54.94px;background:linear-gradient(#262626 4.0px,#5e5e5e 9.4px,#e0e0e0 14.8px,#d2d2d2 20.1px,#5a5a5a 25.5px,#313131 30.9px,#262626 36.3px,#262626 41.7px,#191919 47.0px,#191919 57.8px,#151515 63.2px,#151515 84.7px)"></i><i style="left:59.17px;background:linear-gradient(#262626 4.0px,#5e5e5e 9.4px,#e1e1e1 14.8px,#d2d2d2 20.1px,#5a5a5a 25.5px,#313131 30.9px,#262626 36.3px,#262626 41.7px,#191919 47.0px,#191919 57.8px,#151515 63.2px,#151515 84.7px)"></i><i style="left:63.39px;background:linear-gradient(#262626 4.0px,#5e5e5e 9.4px,#e1e1e1 14.8px,#d2d2d2 20.1px,#5a5a5a 25.5px,#313131 30.9px,#262626 36.3px,#262626 41.7px,#191919 47.0px,#191919 57.8px,#151515 63.2px,#151515 84.7px)"></i><i style="left:67.62px;background:linear-gradient(#262626 4.0px,#5e5e5e 9.4px,#e1e1e1 14.8px,#d2d2d2 20.1px,#5a5a5a 25.5px,#313131 30.9px,#262626 36.3px,#262626 41.7px,#191919 47.0px,#191919 57.8px,#151515 63.2px,#151515 84.7px)"></i><i style="left:71.84px;background:linear-gradient(#262626 4.0px,#5e5e5e 9.4px,#e1e1e1 14.8px,#d2d2d2 20.1px,#5a5a5a 25.5px,#313131 30.9px,#262626 36.3px,#262626 41.7px,#191919 47.0px,#191919 57.8px,#151515 63.2px,#151515 84.7px)"></i><i style="left:76.07px;background:linear-gradient(#262626 4.0px,#5e5e5e 9.4px,#e1e1e1 14.8px,#d2d2d2 20.1px,#5a5a5a 25.5px,#313131 30.9px,#262626 36.3px,#262626 41.7px,#191919 47.0px,#191919 57.8px,#151515 63.2px,#151515 84.7px)"></i><i style="left:80.30px;background:linear-gradient(#262626 4.0px,#5e5e5e 9.4px,#dfdfdf 14.8px,#d2d2d2 20.1px,#5a5a5a 25.5px,#313131 30.9px,#262626 36.3px,#262626 41.7px,#191919 47.0px,#191919 57.8px,#151515 63.2px,#151515 84.7px)"></i><i style="left:84.52px;background:linear-gradient(#272727 4.0px,#5e5e5e 9.4px,#dddddd 14.8px,#d2d2d2 20.1px,#5a5a5a 25.5px,#313131 30.9px,#262626 36.3px,#262626 41.7px,#191919 47.0px,#191919 57.8px,#151515 63.2px,#151515 84.7px)"></i><i style="left:88.75px;background:linear-gradient(#282828 4.0px,#5e5e5e 9.4px,#dbdbdb 14.8px,#d2d2d2 20.1px,#5a5a5a 25.5px,#313131 30.9px,#262626 36.3px,#262626 41.7px,#191919 47.0px,#191919 57.8px,#151515 63.2px,#151515 84.7px)"></i><i style="left:92.97px;background:linear-gradient(#292929 4.0px,#5e5e5e 9.4px,#dadada 14.8px,#d2d2d2 20.1px,#5a5a5a 25.5px,#313131 30.9px,#262626 36.3px,#262626 41.7px,#191919 47.0px,#191919 57.8px,#151515 63.2px,#151515 84.7px)"></i><i style="left:97.20px;background:linear-gradient(#313131 4.0px,#5a5a5a 9.4px,#d2d2d2 14.8px,#cacaca 20.1px,#5a5a5a 25.5px,#313131 30.9px,#262626 36.3px,#262626 41.7px,#191919 47.0px,#191919 57.8px,#151515 63.2px,#151515 84.7px)"></i><i style="left:101.43px;background:linear-gradient(#363636 4.0px,#585858 9.4px,#cacaca 14.8px,#c3c3c3 20.1px,#5a5a5a 25.5px,#313131 30.9px,#262626 36.3px,#262626 41.7px,#191919 47.0px,#191919 57.8px,#151515 63.2px,#151515 84.7px)"></i><i style="left:105.65px;background:linear-gradient(#3c3c3c 4.0px,#565656 9.4px,#c3c3c3 14.8px,#bcbcbc 20.1px,#5a5a5a 25.5px,#313131 30.9px,#262626 36.3px,#262626 41.7px,#191919 47.0px,#191919 57.8px,#151515 63.2px,#151515 84.7px)"></i></div><svg class="ln" width="97.2" height="80.7" viewBox="0 0 97.2 80.7"><polyline points="0.0,16.1 4.2,16.1 8.5,16.1 12.7,10.8 16.9,10.8 21.1,10.8 25.4,10.8 29.6,10.8 33.8,10.8 38.0,10.8 42.3,10.8 46.5,10.8 50.7,10.8 54.9,10.8 59.2,10.8 63.4,10.8 67.6,10.8 71.8,10.8 76.1,10.8 80.3,10.8 84.5,10.8 88.7,10.8 93.0,10.8 97.2,10.8" fill="none" stroke="#000" stroke-opacity=".85" stroke-width="1.4" stroke-linejoin="miter"/></svg></div>
<div class="fr" style="left:444.7px;top:268.4px"></div>
<div class="t" style="left:453.8px;width:80px;text-align:center;top:257.4px">(c4) Aut. - UL</div>
<div class="tk" style="left:442.4px;top:349.2px;width:2.8px;height:0.8px"></div>
<div class="t" style="right:108.4px;top:344.3px">N</div>
<div class="tk" style="left:442.4px;top:338.4px;width:2.8px;height:0.8px"></div>
<div class="t" style="right:108.4px;top:333.5px">NE</div>
<div class="tk" style="left:442.4px;top:327.7px;width:2.8px;height:0.8px"></div>
<div class="t" style="right:108.4px;top:322.8px">E</div>
<div class="tk" style="left:442.4px;top:316.9px;width:2.8px;height:0.8px"></div>
<div class="t" style="right:108.4px;top:312.0px">SE</div>
<div class="tk" style="left:442.4px;top:306.2px;width:2.8px;height:0.8px"></div>
<div class="t" style="right:108.4px;top:301.3px">S</div>
<div class="tk" style="left:442.4px;top:295.4px;width:2.8px;height:0.8px"></div>
<div class="t" style="right:108.4px;top:290.5px">SW</div>
<div class="tk" style="left:442.4px;top:284.6px;width:2.8px;height:0.8px"></div>
<div class="t" style="right:108.4px;top:279.7px">W</div>
<div class="tk" style="left:442.4px;top:273.9px;width:2.8px;height:0.8px"></div>
<div class="t" style="right:108.4px;top:269.0px">NW</div>
<div class="tk" style="left:444.8px;top:349.6px;width:0.8px;height:2.8px"></div>
<div class="t" style="left:430.2px;width:30px;text-align:center;top:353.6px">00</div>
<div class="tk" style="left:465.9px;top:349.6px;width:0.8px;height:2.8px"></div>
<div class="t" style="left:451.3px;width:30px;text-align:center;top:353.6px">05</div>
<div class="tk" style="left:487.1px;top:349.6px;width:0.8px;height:2.8px"></div>
<div class="t" style="left:472.5px;width:30px;text-align:center;top:353.6px">10</div>
<div class="tk" style="left:508.2px;top:349.6px;width:0.8px;height:2.8px"></div>
<div class="t" style="left:493.6px;width:30px;text-align:center;top:353.6px">15</div>
<div class="tk" style="left:529.3px;top:349.6px;width:0.8px;height:2.8px"></div>
<div class="t" style="left:514.7px;width:30px;text-align:center;top:353.6px">20</div>
<div class="t" style="left:463.8px;width:60px;text-align:center;top:365.6px">Local time</div>
<div class="t" style="left:401.8px;top:304.2px;width:30px;text-align:center;transform-origin:50% 50%;transform:rotate(-90deg) scaleY(1.08)">HWD</div>
<div class="ax" style="left:40.2px;top:394.5px"><div class="hm"><i class="c0" style="background:linear-gradient(#1e1e1e 4.0px,#2d2d2d 14.8px,#262626 20.1px,#1a1a1a 25.5px,#141414 30.9px,#141414 36.3px,#161616 41.7px,#2d2d2d 47.0px,#969696 57.8px,#626262 63.2px,#262626 68.6px,#181818 73.9px,#181818 84.7px)"></i><i style="left:12.68px;background:linear-gradient(#2d2d2d 4.0px,#5a5a5a 9.4px,#707070 14.8px,#444444 20.1px,#1e1e1e 25.5px,#141414 30.9px,#141414 36.3px,#161616 41.7px,#2d2d2d 47.0px,#878787 57.8px,#5a5a5a 63.2px,#262626 68.6px,#181818 73.9px,#181818 84.7px)"></i><i style="left:16.90px;background:linear-gradient(#3c3c3c 4.0px,#808080 9.4px,#acacac 14.8px,#525252 20.1px,#222222 25.5px,#141414 30.9px,#141414 36.3px,#161616 41.7px,#292929 47.0px,#4b4b4b 52.4px,#626262 57.8px,#4b4b4b 63.2px,#262626 68.6px,#181818 73.9px,#181818 84.7px)"></i><i style="left:21.13px;background:linear-gradient(#404040 4.0px,#969696 9.4px,#d2d2d2 14.8px,#5a5a5a 20.1px,#222222 25.5px,#141414 30.9px,#141414 36.3px,#161616 41.7px,#262626 47.0px,#444444 52.4px,#4b4b4b 57.8px,#404040 63.2px,#262626 68.6px,#181818 73.9px,#181818 84.7px)"></i><i style="left:25.36px;background:linear-gradient(#444444 4.0px,#a5a5a5 9.4px,#e1e1e1 14.8px,#5a5a5a 20.1px,#222222 25.5px,#141414 30.9px,#141414 36.3px,#161616 41.7px,#262626 47.0px,#444444 52.4px,#444444 57.8px,#3c3c3c 63.2px,#262626 68.6px,#181818 73.9px,#181818 84.7px)"></i><i style="left:29.58px;background:linear-gradient(#454545 4.0px,#a9a9a9 9.4px,#e3e3e3 14.8px,#5a5a5a 20.1px,#222222 25.5px,#141414 30.9px,#141414 36.3px,#161616 41.7px,#262626 47.0px,#444444 52.4px,#424242 57.8px,#3b3b3b 63.2px,#262626 68.6px,#181818 73.9px,#181818 84.7px)"></i><i style="left:33.81px;background:linear-gradient(#474747 4.0px,#acacac 9.4px,#e5e5e5 14.8px,#5a5a5a 20.1px,#222222 25.5px,#141414 30.9px,#141414 36.3px,#161616 41.7px,#262626 47.0px,#444444 52.4px,#414141 57.8px,#3a3a3a 63.2px,#262626 68.6px,#181818 73.9px,#181818 84.7px)"></i><i style="left:38.03px;background:linear-gradient(#444444 4.0px,#a5a5a5 9.4px,#e3e3e3 14.8px,#5a5a5a 20.1px,#222222 25.5px,#141414 30.9px,#141414 36.3px,#161616 41.7px,#262626 47.0px,#444444 52.4px,#404040 57.8px,#383838 63.2px,#262626 68.6px,#181818 73.9px,#181818 84.7px)"></i><i style="left:42.26px;background:linear-gradient(#404040 4.0px,#9e9e9e 9.4px,#e1e1e1 14.8px,#5a5a5a 20.1px,#222222 25.5px,#141414 30.9px,#141414 36.3px,#161616 41.7px,#262626 47.0px,#454545 52.4px,#424242 57.8px,#3a3a3a 63.2px,#262626 68.6px,#181818 73.9px,#181818 84.7px)"></i><i style="left:46.49px;background:linear-gradient(#3f3f3f 4.0px,#9a9a9a 9.4px,#e0e0e0 14.8px,#5a5a5a 20.1px,#222222 25.5px,#141414 30.9px,#141414 36.3px,#161616 41.7px,#262626 47.0px,#474747 52.4px,#444444 57.8px,#3c3c3c 63.2px,#262626 68.6px,#181818 73.9px,#181818 84.7px)"></i><i style="left:50.71px;background:linear-gradient(#3e3e3e 4.0px,#969696 9.4px,#dfdfdf 14.8px,#5a5a5a 20.1px,#222222 25.5px,#141414 30.9px,#141414 36.3px,#161616 41.7px,#262626 47.0px,#4b4b4b 52.4px,#525252 57.8px,#444444 63.2px,#262626 68.6px,#181818 73.9px,#181818 84.7px)"></i><i style="left:54.94px;background:linear-gradient(#3d3d3d 4.0px,#929292 9.4px,#dedede 14.8px,#5a5a5a 20.1px,#222222 25.5px,#141414 30.9px,#141414 36.3px,#161616 41.7px,#262626 47.0px,#4b4b4b 52.4px,#626262 57.8px,#4b4b4b 63.2px,#262626 68.6px,#181818 73.9px,#181818 84.7px)"></i><i style="left:59.17px;background:linear-gradient(#3c3c3c 4.0px,#8e8e8e 9.4px,#dddddd 14.8px,#5a5a5a 20.1px,#222222 25.5px,#141414 30.9px,#141414 36.3px,#161616 41.7px,#262626 47.0px,#444444 52.4px,#4b4b4b 57.8px,#444444 63.2px,#262626 68.6px,#181818 73.9px,#181818 84.7px)"></i><i style="left:63.39px;background:linear-gradient(#3c3c3c 4.0px,#878787 9.4px,#cacaca 14.8px,#565656 20.1px,#222222 25.5px,#141414 30.9px,#141414 36.3px,#161616 41.7px,#262626 47.0px,#4b4b4b 52.4px,#626262 57.8px,#4b4b4b 63.2px,#262626 68.6px,#181818 73.9px,#181818 84.7px)"></i><i style="left:67.62px;background:linear-gradient(#343434 4.0px,#9e9e9e 14.8px,#4f4f4f 20.1px,#222222 25.5px,#141414 30.9px,#141414 36.3px,#161616 41.7px,#2d2d2d 47.0px,#696969 52.4px,#8e8e8e 57.8px,#525252 63.2px,#262626 68.6px,#181818 73.9px,#181818 84.7px)"></i><i style="left:71.84px;background:linear-gradient(#2d2d2d 4.0px,#787878 14.8px,#444444 20.1px,#1e1e1e 25.5px,#141414 30.9px,#141414 36.3px,#161616 41.7px,#343434 47.0px,#787878 52.4px,#b4b4b4 57.8px,#5a5a5a 63.2px,#262626 68.6px,#181818 73.9px,#181818 84.7px)"></i><i style="left:76.07px;background:linear-gradient(#262626 4.0px,#343434 9.4px,#444444 14.8px,#343434 20.1px,#1e1e1e 25.5px,#141414 30.9px,#141414 36.3px,#181818 41.7px,#383838 47.0px,#808080 52.4px,#c3c3c3 57.8px,#5e5e5e 63.2px,#262626 68.6px,#181818 73.9px,#181818 84.7px)"></i><i style="left:80.30px;background:linear-gradient(#1a1a1a 4.0px,#222222 14.8px,#1a1a1a 25.5px,#141414 30.9px,#141414 36.3px,#1a1a1a 41.7px,#3c3c3c 47.0px,#d2d2d2 57.8px,#626262 63.2px,#262626 68.6px,#181818 73.9px,#181818 84.7px)"></i><i style="left:84.52px;background:linear-gradient(#181818 4.0px,#181818 20.1px,#141414 25.5px,#141414 36.3px,#1b1b1b 41.7px,#3f3f3f 47.0px,#8b8b8b 52.4px,#d4d4d4 57.8px,#626262 63.2px,#262626 68.6px,#181818 73.9px,#181818 84.7px)"></i><i style="left:88.75px;background:linear-gradient(#181818 4.0px,#181818 20.1px,#141414 25.5px,#141414 36.3px,#1c1c1c 41.7px,#424242 47.0px,#8e8e8e 52.4px,#d6d6d6 57.8px,#626262 63.2px,#262626 68.6px,#181818 73.9px,#181818 84.7px)"></i><i style="left:92.97px;background:linear-gradient(#181818 4.0px,#181818 20.1px,#141414 25.5px,#141414 36.3px,#1d1d1d 41.7px,#444444 47.0px,#929292 52.4px,#d8d8d8 57.8px,#626262 63.2px,#262626 68.6px,#181818 73.9px,#181818 84.7px)"></i><i style="left:97.20px;background:linear-gradient(#181818 4.0px,#1a1a1a 14.8px,#181818 20.1px,#141414 25.5px,#141414 36.3px,#1e1e1e 41.7px,#474747 47.0px,#969696 52.4px,#dadada 57.8px,#626262 63.2px,#262626 68.6px,#181818 73.9px,#181818 84.7px)"></i><i style="left:101.43px;background:linear-gradient(#181818 4.0px,#1e1e1e 9.4px,#292929 14.8px,#1b1b1b 20.1px,#141414 25.5px,#141414 36.3px,#1e1e1e 41.7px,#494949 47.0px,#9a9a9a 52.4px,#d6d6d6 57.8px,#626262 63.2px,#262626 68.6px,#181818 73.9px,#181818 84.7px)"></i><i style="left:105.65px;background:linear-gradient(#181818 4.0px,#242424 9.4px,#3d3d3d 14.8px,#1f1f1f 20.1px,#141414 25.5px,#141414 36.3px,#1e1e1e 41.7px,#4b4b4b 47.0px,#9e9e9e 52.4px,#d2d2d2 57.8px,#626262 63.2px,#262626 68.6px,#181818 73.9px,#181818 84.7px)"></i></div><svg class="ln" width="97.2" height="80.7" viewBox="0 0 97.2 80.7"><polyline points="0.0,53.8 4.2,53.8 8.5,10.8 12.7,10.8 16.9,10.8 21.1,10.8 25.4,10.8 29.6,10.8 33.8,10.8 38.0,10.8 42.3,10.8 46.5,10.8 50.7,10.8 54.9,10.8 59.2,10.8 63.4,53.8 67.6,53.8 71.8,53.8 76.1,53.8 80.3,53.8 84.5,53.8 88.7,53.8 93.0,53.8 97.2,53.8" fill="none" stroke="#000" stroke-opacity=".85" stroke-width="1.4" stroke-linejoin="miter"/></svg></div>
<div class="fr" style="left:39.7px;top:394.0px"></div>
<div class="t" style="left:48.8px;width:80px;text-align:center;top:383.0px">(d1) Win. - NL</div>
<div class="tk" style="left:37.4px;top:474.8px;width:2.8px;height:0.8px"></div>
<div class="t" style="right:513.4px;top:469.9px">N</div>
<div class="tk" style="left:37.4px;top:464.0px;width:2.8px;height:0.8px"></div>
<div class="t" style="right:513.4px;top:459.1px">NE</div>
<div class="tk" style="left:37.4px;top:453.3px;width:2.8px;height:0.8px"></div>
<div class="t" style="right:513.4px;top:448.4px">E</div>
<div class="tk" style="left:37.4px;top:442.5px;width:2.8px;height:0.8px"></div>
<div class="t" style="right:513.4px;top:437.6px">SE</div>
<div class="tk" style="left:37.4px;top:431.8px;width:2.8px;height:0.8px"></div>
<div class="t" style="right:513.4px;top:426.9px">S</div>
<div class="tk" style="left:37.4px;top:421.0px;width:2.8px;height:0.8px"></div>
<div class="t" style="right:513.4px;top:416.1px">SW</div>
<div class="tk" style="left:37.4px;top:410.2px;width:2.8px;height:0.8px"></div>
<div class="t" style="right:513.4px;top:405.3px">W</div>
<div class="tk" style="left:37.4px;top:399.5px;width:2.8px;height:0.8px"></div>
<div class="t" style="right:513.4px;top:394.6px">NW</div>
<div class="tk" style="left:39.8px;top:475.2px;width:0.8px;height:2.8px"></div>
<div class="t" style="left:25.2px;width:30px;text-align:center;top:479.2px">00</div>
<div class="tk" style="left:60.9px;top:475.2px;width:0.8px;height:2.8px"></div>
<div class="t" style="left:46.3px;width:30px;text-align:center;top:479.2px">05</div>
<div class="tk" style="left:82.1px;top:475.2px;width:0.8px;height:2.8px"></div>
<div class="t" style="left:67.5px;width:30px;text-align:center;top:479.2px">10</div>
<div class="tk" style="left:103.2px;top:475.2px;width:0.8px;height:2.8px"></div>
<div class="t" style="left:88.6px;width:30px;text-align:center;top:479.2px">15</div>
<div class="tk" style="left:124.3px;top:475.2px;width:0.8px;height:2.8px"></div>
<div class="t" style="left:109.7px;width:30px;text-align:center;top:479.2px">20</div>
<div class="t" style="left:58.8px;width:60px;text-align:center;top:491.2px">Local time</div>
<div class="t" style="left:-3.2px;top:429.8px;width:30px;text-align:center;transform-origin:50% 50%;transform:rotate(-90deg) scaleY(1.08)">HWD</div>
<div class="ax" style="left:175.2px;top:394.5px"><div class="hm"><i class="c0" style="background:linear-gradient(#343434 4.0px,#444444 9.4px,#444444 14.8px,#343434 20.1px,#222222 25.5px,#121212 30.9px,#121212 36.3px,#161616 41.7px,#222222 47.0px,#525252 52.4px,#d2d2d2 57.8px,#878787 63.2px,#262626 68.6px,#181818 73.9px,#181818 84.7px)"></i><i style="left:12.68px;background:linear-gradient(#383838 4.0px,#4b4b4b 9.4px,#4b4b4b 14.8px,#383838 20.1px,#222222 25.5px,#121212 30.9px,#121212 36.3px,#161616 41.7px,#222222 47.0px,#525252 52.4px,#d0d0d0 57.8px,#878787 63.2px,#262626 68.6px,#181818 73.9px,#181818 84.7px)"></i><i style="left:16.90px;background:linear-gradient(#3c3c3c 4.0px,#5a5a5a 9.4px,#5a5a5a 14.8px,#3c3c3c 20.1px,#222222 25.5px,#121212 30.9px,#121212 36.3px,#161616 41.7px,#222222 47.0px,#525252 52.4px,#cdcdcd 57.8px,#878787 63.2px,#262626 68.6px,#181818 73.9px,#181818 84.7px)"></i><i style="left:21.13px;background:linear-gradient(#444444 4.0px,#707070 9.4px,#707070 14.8px,#444444 20.1px,#262626 25.5px,#121212 30.9px,#121212 36.3px,#161616 41.7px,#222222 47.0px,#525252 52.4px,#cacaca 57.8px,#878787 63.2px,#262626 68.6px,#181818 73.9px,#181818 84.7px)"></i><i style="left:25.36px;background:linear-gradient(#4b4b4b 4.0px,#878787 9.4px,#878787 14.8px,#474747 20.1px,#262626 25.5px,#121212 30.9px,#121212 36.3px,#161616 41.7px,#222222 47.0px,#525252 52.4px,#b8b8b8 57.8px,#7c7c7c 63.2px,#262626 68.6px,#181818 73.9px,#181818 84.7px)"></i><i style="left:29.58px;background:linear-gradient(#525252 4.0px,#9e9e9e 9.4px,#969696 14.8px,#4b4b4b 20.1px,#262626 25.5px,#121212 30.9px,#121212 36.3px,#161616 41.7px,#222222 47.0px,#525252 52.4px,#a5a5a5 57.8px,#707070 63.2px,#262626 68.6px,#181818 73.9px,#181818 84.7px)"></i><i style="left:33.81px;background:linear-gradient(#5a5a5a 4.0px,#9e9e9e 9.4px,#8e8e8e 14.8px,#4b4b4b 20.1px,#262626 25.5px,#121212 30.9px,#121212 36.3px,#161616 41.7px,#222222 47.0px,#515151 52.4px,#969696 57.8px,#696969 63.2px,#262626 68.6px,#181818 73.9px,#181818 84.7px)"></i><i style="left:38.03px;background:linear-gradient(#5a5a5a 4.0px,#a5a5a5 9.4px,#969696 14.8px,#4b4b4b 20.1px,#262626 25.5px,#121212 30.9px,#121212 36.3px,#161616 41.7px,#222222 47.0px,#4f4f4f 52.4px,#878787 57.8px,#626262 63.2px,#262626 68.6px,#181818 73.9px,#181818 84.7px)"></i><i style="left:42.26px;background:linear-gradient(#565656 4.0px,#a5a5a5 9.4px,#a5a5a5 14.8px,#4b4b4b 20.1px,#262626 25.5px,#121212 30.9px,#121212 36.3px,#161616 41.7px,#222222 47.0px,#787878 57.8px,#5a5a5a 63.2px,#262626 68.6px,#181818 73.9px,#181818 84.7px)"></i><i style="left:46.49px;background:linear-gradient(#525252 4.0px,#a5a5a5 9.4px,#b4b4b4 14.8px,#4b4b4b 20.1px,#262626 25.5px,#121212 30.9px,#121212 36.3px,#161616 41.7px,#222222 47.0px,#4b4b4b 52.4px,#696969 57.8px,#525252 63.2px,#262626 68.6px,#181818 73.9px,#181818 84.7px)"></i><i style="left:50.71px;background:linear-gradient(#4f4f4f 4.0px,#9e9e9e 9.4px,#b8b8b8 14.8px,#4b4b4b 20.1px,#262626 25.5px,#121212 30.9px,#121212 36.3px,#161616 41.7px,#222222 47.0px,#444444 52.4px,#5a5a5a 57.8px,#474747 63.2px,#262626 68.6px,#181818 73.9px,#181818 84.7px)"></i><i style="left:54.94px;background:linear-gradient(#4b4b4b 4.0px,#969696 9.4px,#bcbcbc 14.8px,#4b4b4b 20.1px,#262626 25.5px,#121212 30.9px,#121212 36.3px,#161616 41.7px,#222222 47.0px,#383838 52.4px,#474747 57.8px,#3c3c3c 63.2px,#262626 68.6px,#181818 73.9px,#181818 84.7px)"></i><i style="left:59.17px;background:linear-gradient(#4b4b4b 4.0px,#929292 9.4px,#b0b0b0 14.8px,#4b4b4b 20.1px,#262626 25.5px,#121212 30.9px,#121212 36.3px,#161616 41.7px,#222222 47.0px,#383838 52.4px,#474747 57.8px,#3c3c3c 63.2px,#262626 68.6px,#181818 73.9px,#181818 84.7px)"></i><i style="left:63.39px;background:linear-gradient(#4b4b4b 4.0px,#8e8e8e 9.4px,#a5a5a5 14.8px,#4b4b4b 20.1px,#262626 25.5px,#121212 30.9px,#121212 36.3px,#161616 41.7px,#222222 47.0px,#383838 52.4px,#474747 57.8px,#3c3c3c 63.2px,#262626 68.6px,#181818 73.9px,#181818 84.7px)"></i><i style="left:67.62px;background:linear-gradient(#4b4b4b 4.0px,#8e8e8e 9.4px,#a5a5a5 14.8px,#4b4b4b 20.1px,#262626 25.5px,#121212 30.9px,#121212 36.3px,#161616 41.7px,#222222 47.0px,#4b4b4b 52.4px,#696969 57.8px,#525252 63.2px,#262626 68.6px,#181818 73.9px,#181818 84.7px)"></i><i style="left:71.84px;background:linear-gradient(#4b4b4b 4.0px,#8e8e8e 9.4px,#a5a5a5 14.8px,#4b4b4b 20.1px,#262626 25.5px,#121212 30.9px,#121212 36.3px,#161616 41.7px,#262626 47.0px,#525252 52.4px,#878787 57.8px,#626262 63.2px,#262626 68.6px,#181818 73.9px,#181818 84.7px)"></i><i style="left:76.07px;background:linear-gradient(#4b4b4b 4.0px,#8e8e8e 9.4px,#a5a5a5 14.8px,#4b4b4b 20.1px,#262626 25.5px,#121212 30.9px,#121212 36.3px,#161616 41.7px,#262626 47.0px,#565656 52.4px,#a5a5a5 57.8px,#262626 68.6px,#181818 73.9px,#181818 84.7px)"></i><i style="left:80.30px;background:linear-gradient(#444444 4.0px,#696969 9.4px,#787878 14.8px,#444444 20.1px,#262626 25.5px,#121212 30.9px,#121212 36.3px,#161616 41.7px,#262626 47.0px,#5a5a5a 52.4px,#c3c3c3 57.8px,#696969 63.2px,#262626 68.6px,#181818 73.9px,#181818 84.7px)"></i><i style="left:84.52px;background:linear-gradient(#3c3c3c 4.0px,#4b4b4b 9.4px,#525252 14.8px,#3c3c3c 20.1px,#222222 25.5px,#121212 30.9px,#121212 36.3px,#161616 41.7px,#262626 47.0px,#5a5a5a 52.4px,#c4c4c4 57.8px,#696969 63.2px,#262626 68.6px,#181818 73.9px,#181818 84.7px)"></i><i style="left:88.75px;background:linear-gradient(#343434 4.0px,#3c3c3c 9.4px,#3c3c3c 14.8px,#343434 20.1px,#1e1e1e 25.5px,#121212 30.9px,#121212 36.3px,#161616 41.7px,#262626 47.0px,#5a5a5a 52.4px,#c5c5c5 57.8px,#696969 63.2px,#262626 68.6px,#181818 73.9px,#181818 84.7px)"></i><i style="left:92.97px;background:linear-gradient(#333333 4.0px,#3a3a3a 9.4px,#3a3a3a 14.8px,#343434 20.1px,#1e1e1e 25.5px,#121212 30.9px,#121212 36.3px,#161616 41.7px,#262626 47.0px,#5a5a5a 52.4px,#c7c7c7 57.8px,#696969 63.2px,#262626 68.6px,#181818 73.9px,#181818 84.7px)"></i><i style="left:97.20px;background:linear-gradient(#313131 4.0px,#383838 9.4px,#383838 14.8px,#333333 20.1px,#1e1e1e 25.5px,#121212 30.9px,#121212 36.3px,#161616 41.7px,#262626 47.0px,#5a5a5a 52.4px,#c8c8c8 57.8px,#696969 63.2px,#262626 68.6px,#181818 73.9px,#181818 84.7px)"></i><i style="left:101.43px;background:linear-gradient(#2f2f2f 4.0px,#363636 9.4px,#363636 14.8px,#323232 20.1px,#1e1e1e 25.5px,#121212 30.9px,#121212 36.3px,#161616 41.7px,#262626 47.0px,#5a5a5a 52.4px,#c9c9c9 57.8px,#696969 63.2px,#262626 68.6px,#181818 73.9px,#181818 84.7px)"></i><i style="left:105.65px;background:linear-gradient(#2d2d2d 4.0px,#343434 9.4px,#343434 14.8px,#313131 20.1px,#1e1e1e 25.5px,#121212 30.9px,#121212 36.3px,#161616 41.7px,#262626 47.0px,#5a5a5a 52.4px,#cacaca 57.8px,#696969 63.2px,#262626 68.6px,#181818 73.9px,#181818 84.7px)"></i></div><svg class="ln" width="97.2" height="80.7" viewBox="0 0 97.2 80.7"><polyline points="0.0,53.8 4.2,53.8 8.5,53.8 12.7,53.8 16.9,53.8 21.1,10.8 25.4,5.4 29.6,5.4 33.8,10.8 38.0,10.8 42.3,10.8 46.5,10.8 50.7,10.8 54.9,10.8 59.2,10.8 63.4,10.8 67.6,10.8 71.8,53.8 76.1,53.8 80.3,53.8 84.5,53.8 88.7,53.8 93.0,53.8 97.2,53.8" fill="none" stroke="#000" stroke-opacity=".85" stroke-width="1.4" stroke-linejoin="miter"/></svg></div>
<div class="fr" style="left:174.7px;top:394.0px"></div>
<div class="t" style="left:183.8px;width:80px;text-align:center;top:383.0px">(d2) Win. - LL</div>
<div class="tk" style="left:172.4px;top:474.8px;width:2.8px;height:0.8px"></div>
<div class="t" style="right:378.4px;top:469.9px">N</div>
<div class="tk" style="left:172.4px;top:464.0px;width:2.8px;height:0.8px"></div>
<div class="t" style="right:378.4px;top:459.1px">NE</div>
<div class="tk" style="left:172.4px;top:453.3px;width:2.8px;height:0.8px"></div>
<div class="t" style="right:378.4px;top:448.4px">E</div>
<div class="tk" style="left:172.4px;top:442.5px;width:2.8px;height:0.8px"></div>
<div class="t" style="right:378.4px;top:437.6px">SE</div>
<div class="tk" style="left:172.4px;top:431.8px;width:2.8px;height:0.8px"></div>
<div class="t" style="right:378.4px;top:426.9px">S</div>
<div class="tk" style="left:172.4px;top:421.0px;width:2.8px;height:0.8px"></div>
<div class="t" style="right:378.4px;top:416.1px">SW</div>
<div class="tk" style="left:172.4px;top:410.2px;width:2.8px;height:0.8px"></div>
<div class="t" style="right:378.4px;top:405.3px">W</div>
<div class="tk" style="left:172.4px;top:399.5px;width:2.8px;height:0.8px"></div>
<div class="t" style="right:378.4px;top:394.6px">NW</div>
<div class="tk" style="left:174.8px;top:475.2px;width:0.8px;height:2.8px"></div>
<div class="t" style="left:160.2px;width:30px;text-align:center;top:479.2px">00</div>
<div class="tk" style="left:195.9px;top:475.2px;width:0.8px;height:2.8px"></div>
<div class="t" style="left:181.3px;width:30px;text-align:center;top:479.2px">05</div>
<div class="tk" style="left:217.1px;top:475.2px;width:0.8px;height:2.8px"></div>
<div class="t" style="left:202.5px;width:30px;text-align:center;top:479.2px">10</div>
<div class="tk" style="left:238.2px;top:475.2px;width:0.8px;height:2.8px"></div>
<div class="t" style="left:223.6px;width:30px;text-align:center;top:479.2px">15</div>
<div class="tk" style="left:259.3px;top:475.2px;width:0.8px;height:2.8px"></div>
<div class="t" style="left:244.7px;width:30px;text-align:center;top:479.2px">20</div>
<div class="t" style="left:193.8px;width:60px;text-align:center;top:491.2px">Local time</div>
<div class="t" style="left:131.8px;top:429.8px;width:30px;text-align:center;transform-origin:50% 50%;transform:rotate(-90deg) scaleY(1.08)">HWD</div>
<div class="ax" style="left:310.2px;top:394.5px"><div class="hm"><i class="c0" style="background:linear-gradient(#1e1e1e 4.0px,#4f4f4f 9.4px,#a5a5a5 14.8px,#d2d2d2 20.1px,#444444 25.5px,#222222 30.9px,#222222 36.3px,#1a1a1a 41.7px,#1b1b1b 52.4px,#1e1e1e 57.8px,#151515 63.2px,#151515 84.7px)"></i><i style="left:12.68px;background:linear-gradient(#1e1e1e 4.0px,#4f4f4f 9.4px,#a6a6a6 14.8px,#d3d3d3 20.1px,#444444 25.5px,#222222 30.9px,#222222 36.3px,#1a1a1a 41.7px,#1a1a1a 47.0px,#1c1c1c 52.4px,#2e2e2e 57.8px,#151515 63.2px,#151515 84.7px)"></i><i style="left:16.90px;background:linear-gradient(#1e1e1e 4.0px,#4f4f4f 9.4px,#a6a6a6 14.8px,#d3d3d3 20.1px,#444444 25.5px,#222222 30.9px,#222222 36.3px,#1a1a1a 41.7px,#1b1b1b 52.4px,#272727 57.8px,#151515 63.2px,#151515 84.7px)"></i><i style="left:21.13px;background:linear-gradient(#1e1e1e 4.0px,#4f4f4f 9.4px,#a7a7a7 14.8px,#d4d4d4 20.1px,#444444 25.5px,#222222 30.9px,#222222 36.3px,#1a1a1a 41.7px,#1b1b1b 57.8px,#151515 63.2px,#151515 84.7px)"></i><i style="left:25.36px;background:linear-gradient(#1e1e1e 4.0px,#4f4f4f 9.4px,#a8a8a8 14.8px,#d5d5d5 20.1px,#444444 25.5px,#222222 30.9px,#222222 36.3px,#1a1a1a 41.7px,#1a1a1a 57.8px,#151515 63.2px,#151515 84.7px)"></i><i style="left:29.58px;background:linear-gradient(#1e1e1e 4.0px,#4f4f4f 9.4px,#a8a8a8 14.8px,#d5d5d5 20.1px,#444444 25.5px,#222222 30.9px,#222222 36.3px,#1a1a1a 41.7px,#1a1a1a 57.8px,#151515 63.2px,#151515 84.7px)"></i><i style="left:33.81px;background:linear-gradient(#1e1e1e 4.0px,#4f4f4f 9.4px,#a9a9a9 14.8px,#d6d6d6 20.1px,#444444 25.5px,#222222 30.9px,#222222 36.3px,#1a1a1a 41.7px,#1a1a1a 57.8px,#151515 63.2px,#151515 84.7px)"></i><i style="left:38.03px;background:linear-gradient(#1e1e1e 4.0px,#4f4f4f 9.4px,#aaaaaa 14.8px,#d7d7d7 20.1px,#444444 25.5px,#222222 30.9px,#222222 36.3px,#1a1a1a 41.7px,#1a1a1a 57.8px,#151515 63.2px,#151515 84.7px)"></i><i style="left:42.26px;background:linear-gradient(#1e1e1e 4.0px,#4f4f4f 9.4px,#aaaaaa 14.8px,#d7d7d7 20.1px,#444444 25.5px,#222222 30.9px,#222222 36.3px,#1a1a1a 41.7px,#1a1a1a 57.8px,#151515 63.2px,#151515 84.7px)"></i><i style="left:46.49px;background:linear-gradient(#1e1e1e 4.0px,#4f4f4f 9.4px,#ababab 14.8px,#d8d8d8 20.1px,#444444 25.5px,#222222 30.9px,#222222 36.3px,#1a1a1a 41.7px,#1a1a1a 57.8px,#151515 63.2px,#151515 84.7px)"></i><i style="left:50.71px;background:linear-gradient(#1e1e1e 4.0px,#4f4f4f 9.4px,#acacac 14.8px,#d9d9d9 20.1px,#444444 25.5px,#222222 30.9px,#222222 36.3px,#1a1a1a 41.7px,#1a1a1a 57.8px,#151515 63.2px,#151515 84.7px)"></i><i style="left:54.94px;background:linear-gradient(#1e1e1e 4.0px,#4f4f4f 9.4px,#acacac 14.8px,#dadada 20.1px,#444444 25.5px,#222222 30.9px,#222222 36.3px,#1a1a1a 41.7px,#1a1a1a 57.8px,#151515 63.2px,#151515 84.7px)"></i><i style="left:59.17px;background:linear-gradient(#1e1e1e 4.0px,#525252 9.4px,#bcbcbc 14.8px,#e8e8e8 20.1px,#474747 25.5px,#222222 30.9px,#222222 36.3px,#1a1a1a 41.7px,#1a1a1a 57.8px,#151515 63.2px,#151515 84.7px)"></i><i style="left:63.39px;background:linear-gradient(#202020 4.0px,#565656 9.4px,#bfbfbf 14.8px,#e8e8e8 20.1px,#474747 25.5px,#222222 30.9px,#222222 36.3px,#1a1a1a 41.7px,#1a1a1a 57.8px,#151515 63.2px,#151515 84.7px)"></i><i style="left:67.62px;background:linear-gradient(#222222 4.0px,#5a5a5a 9.4px,#c3c3c3 14.8px,#e8e8e8 20.1px,#474747 25.5px,#222222 30.9px,#222222 36.3px,#1a1a1a 41.7px,#1a1a1a 57.8px,#151515 63.2px,#151515 84.7px)"></i><i style="left:71.84px;background:linear-gradient(#262626 4.0px,#696969 9.4px,#dadada 14.8px,#cacaca 20.1px,#444444 25.5px,#222222 30.9px,#222222 36.3px,#1a1a1a 41.7px,#1b1b1b 57.8px,#151515 63.2px,#151515 84.7px)"></i><i style="left:76.07px;background:linear-gradient(#262626 4.0px,#696969 9.4px,#dadada 14.8px,#cacaca 20.1px,#444444 25.5px,#222222 30.9px,#222222 36.3px,#1a1a1a 41.7px,#1a1a1a 52.4px,#1c1c1c 57.8px,#151515 63.2px,#151515 84.7px)"></i><i style="left:80.30px;background:linear-gradient(#262626 4.0px,#696969 9.4px,#dadada 14.8px,#cacaca 20.1px,#444444 25.5px,#222222 30.9px,#222222 36.3px,#1a1a1a 41.7px,#1b1b1b 52.4px,#1f1f1f 57.8px,#151515 63.2px,#151515 84.7px)"></i><i style="left:84.52px;background:linear-gradient(#222222 4.0px,#525252 9.4px,#acacac 14.8px,#cacaca 20.1px,#444444 25.5px,#222222 30.9px,#222222 36.3px,#1a1a1a 41.7px,#1a1a1a 47.0px,#1c1c1c 52.4px,#282828 57.8px,#161616 63.2px,#151515 84.7px)"></i><i style="left:88.75px;background:linear-gradient(#262626 4.0px,#525252 9.4px,#9e9e9e 14.8px,#c3c3c3 20.1px,#444444 25.5px,#222222 30.9px,#222222 36.3px,#1a1a1a 41.7px,#1a1a1a 47.0px,#1e1e1e 52.4px,#373737 57.8px,#161616 63.2px,#151515 84.7px)"></i><i style="left:92.97px;background:linear-gradient(#262626 4.0px,#525252 9.4px,#9e9e9e 14.8px,#c3c3c3 20.1px,#444444 25.5px,#222222 30.9px,#222222 36.3px,#1a1a1a 41.7px,#1a1a1a 47.0px,#202020 52.4px,#454545 57.8px,#171717 63.2px,#151515 68.6px,#151515 84.7px)"></i><i style="left:97.20px;background:linear-gradient(#262626 4.0px,#525252 9.4px,#9e9e9e 14.8px,#c3c3c3 20.1px,#444444 25.5px,#222222 30.9px,#222222 36.3px,#1a1a1a 41.7px,#1a1a1a 47.0px,#212121 52.4px,#4a4a4a 57.8px,#171717 63.2px,#151515 68.6px,#151515 84.7px)"></i><i style="left:101.43px;background:linear-gradient(#262626 4.0px,#525252 9.4px,#9e9e9e 14.8px,#c3c3c3 20.1px,#444444 25.5px,#222222 30.9px,#222222 36.3px,#1a1a1a 41.7px,#1a1a1a 47.0px,#202020 52.4px,#404040 57.8px,#171717 63.2px,#151515 68.6px,#151515 84.7px)"></i><i style="left:105.65px;background:linear-gradient(#262626 4.0px,#525252 9.4px,#9e9e9e 14.8px,#c3c3c3 20.1px,#444444 25.5px,#222222 30.9px,#222222 36.3px,#1a1a1a 41.7px,#1a1a1a 47.0px,#1d1d1d 52.4px,#313131 57.8px,#161616 63.2px,#151515 84.7px)"></i></div><svg class="ln" width="97.2" height="80.7" viewBox="0 0 97.2 80.7"><polyline points="0.0,16.1 4.2,16.1 8.5,16.1 12.7,16.1 16.9,16.1 21.1,16.1 25.4,16.1 29.6,16.1 33.8,16.1 38.0,16.1 42.3,16.1 46.5,16.1 50.7,16.1 54.9,16.1 59.2,16.1 63.4,10.8 67.6,10.8 71.8,10.8 76.1,16.1 80.3,16.1 84.5,16.1 88.7,16.1 93.0,16.1 97.2,16.1" fill="none" stroke="#000" stroke-opacity=".85" stroke-width="1.4" stroke-linejoin="round"/></svg></div>
<div class="fr" style="left:309.7px;top:394.0px"></div>
<div class="t" style="left:318.8px;width:80px;text-align:center;top:383.0px">(d3) Win. - ML</div>
<div class="tk" style="left:307.4px;top:474.8px;width:2.8px;height:0.8px"></div>
<div class="t" style="right:243.4px;top:469.9px">N</div>
<div class="tk" style="left:307.4px;top:464.0px;width:2.8px;height:0.8px"></div>
<div class="t" style="right:243.4px;top:459.1px">NE</div>
<div class="tk" style="left:307.4px;top:453.3px;width:2.8px;height:0.8px"></div>
<div class="t" style="right:243.4px;top:448.4px">E</div>
<div class="tk" style="left:307.4px;top:442.5px;width:2.8px;height:0.8px"></div>
<div class="t" style="right:243.4px;top:437.6px">SE</div>
<div class="tk" style="left:307.4px;top:431.8px;width:2.8px;height:0.8px"></div>
<div class="t" style="right:243.4px;top:426.9px">S</div>
<div class="tk" style="left:307.4px;top:421.0px;width:2.8px;height:0.8px"></div>
<div class="t" style="right:243.4px;top:416.1px">SW</div>
<div class="tk" style="left:307.4px;top:410.2px;width:2.8px;height:0.8px"></div>
<div class="t" style="right:243.4px;top:405.3px">W</div>
<div class="tk" style="left:307.4px;top:399.5px;width:2.8px;height:0.8px"></div>
<div class="t" style="right:243.4px;top:394.6px">NW</div>
<div class="tk" style="left:309.8px;top:475.2px;width:0.8px;height:2.8px"></div>
<div class="t" style="left:295.2px;width:30px;text-align:center;top:479.2px">00</div>
<div class="tk" style="left:330.9px;top:475.2px;width:0.8px;height:2.8px"></div>
<div class="t" style="left:316.3px;width:30px;text-align:center;top:479.2px">05</div>
<div class="tk" style="left:352.1px;top:475.2px;width:0.8px;height:2.8px"></div>
<div class="t" style="left:337.5px;width:30px;text-align:center;top:479.2px">10</div>
<div class="tk" style="left:373.2px;top:475.2px;width:0.8px;height:2.8px"></div>
<div class="t" style="left:358.6px;width:30px;text-align:center;top:479.2px">15</div>
<div class="tk" style="left:394.3px;top:475.2px;width:0.8px;height:2.8px"></div>
<div class="t" style="left:379.7px;width:30px;text-align:center;top:479.2px">20</div>
<div class="t" style="left:328.8px;width:60px;text-align:center;top:491.2px">Local time</div>
<div class="t" style="left:266.8px;top:429.8px;width:30px;text-align:center;transform-origin:50% 50%;transform:rotate(-90deg) scaleY(1.08)">HWD</div>
<div class="ax" style="left:445.2px;top:394.5px"><div class="hm"><i class="c0" style="background:linear-gradient(#222222 4.0px,#4b4b4b 9.4px,#e8e8e8 14.8px,#e8e8e8 20.1px,#5a5a5a 25.5px,#2d2d2d 30.9px,#222222 36.3px,#151515 41.7px,#0a0a0a 52.4px,#0a0a0a 84.7px)"></i><i style="left:12.68px;background:linear-gradient(#222222 4.0px,#4b4b4b 9.4px,#e8e8e8 14.8px,#e8e8e8 20.1px,#5a5a5a 25.5px,#323232 30.9px,#222222 36.3px,#151515 41.7px,#0a0a0a 52.4px,#0a0a0a 84.7px)"></i><i style="left:16.90px;background:linear-gradient(#222222 4.0px,#4b4b4b 9.4px,#e8e8e8 14.8px,#e8e8e8 20.1px,#5a5a5a 25.5px,#373737 30.9px,#222222 36.3px,#151515 41.7px,#0a0a0a 52.4px,#0a0a0a 84.7px)"></i><i style="left:21.13px;background:linear-gradient(#222222 4.0px,#4b4b4b 9.4px,#e8e8e8 14.8px,#e8e8e8 20.1px,#5a5a5a 25.5px,#3c3c3c 30.9px,#222222 36.3px,#151515 41.7px,#0a0a0a 52.4px,#0a0a0a 84.7px)"></i><i style="left:25.36px;background:linear-gradient(#222222 4.0px,#4b4b4b 9.4px,#e8e8e8 14.8px,#e8e8e8 20.1px,#5a5a5a 25.5px,#404040 30.9px,#222222 36.3px,#151515 41.7px,#0a0a0a 52.4px,#0a0a0a 84.7px)"></i><i style="left:29.58px;background:linear-gradient(#222222 4.0px,#4b4b4b 9.4px,#e8e8e8 14.8px,#e8e8e8 20.1px,#5a5a5a 25.5px,#2d2d2d 30.9px,#222222 36.3px,#151515 41.7px,#0a0a0a 52.4px,#0a0a0a 84.7px)"></i><i style="left:33.81px;background:linear-gradient(#222222 4.0px,#4b4b4b 9.4px,#e8e8e8 14.8px,#e8e8e8 20.1px,#5a5a5a 25.5px,#2d2d2d 30.9px,#222222 36.3px,#151515 41.7px,#0a0a0a 52.4px,#0a0a0a 84.7px)"></i><i style="left:38.03px;background:linear-gradient(#222222 4.0px,#4b4b4b 9.4px,#e8e8e8 14.8px,#e8e8e8 20.1px,#5a5a5a 25.5px,#2d2d2d 30.9px,#222222 36.3px,#151515 41.7px,#0a0a0a 52.4px,#0a0a0a 84.7px)"></i><i style="left:42.26px;background:linear-gradient(#222222 4.0px,#4b4b4b 9.4px,#e8e8e8 14.8px,#e8e8e8 20.1px,#5a5a5a 25.5px,#2d2d2d 30.9px,#222222 36.3px,#151515 41.7px,#0a0a0a 52.4px,#0a0a0a 84.7px)"></i><i style="left:46.49px;background:linear-gradient(#222222 4.0px,#4b4b4b 9.4px,#e8e8e8 14.8px,#e8e8e8 20.1px,#5a5a5a 25.5px,#2d2d2d 30.9px,#222222 36.3px,#151515 41.7px,#0a0a0a 52.4px,#0a0a0a 84.7px)"></i><i style="left:50.71px;background:linear-gradient(#222222 4.0px,#4b4b4b 9.4px,#e8e8e8 14.8px,#e8e8e8 20.1px,#5a5a5a 25.5px,#2d2d2d 30.9px,#222222 36.3px,#151515 41.7px,#0a0a0a 52.4px,#0a0a0a 84.7px)"></i><i style="left:54.94px;background:linear-gradient(#222222 4.0px,#4b4b4b 9.4px,#dadada 14.8px,#e8e8e8 20.1px,#5a5a5a 25.5px,#2d2d2d 30.9px,#222222 36.3px,#151515 41.7px,#0a0a0a 52.4px,#0a0a0a 84.7px)"></i><i style="left:59.17px;background:linear-gradient(#222222 4.0px,#4b4b4b 9.4px,#cacaca 14.8px,#e5e5e5 20.1px,#5a5a5a 25.5px,#2d2d2d 30.9px,#222222 36.3px,#151515 41.7px,#0a0a0a 52.4px,#0a0a0a 84.7px)"></i><i style="left:63.39px;background:linear-gradient(#222222 4.0px,#4b4b4b 9.4px,#bcbcbc 14.8px,#e1e1e1 20.1px,#5a5a5a 25.5px,#2d2d2d 30.9px,#222222 36.3px,#151515 41.7px,#0a0a0a 52.4px,#0a0a0a 84.7px)"></i><i style="left:67.62px;background:linear-gradient(#222222 4.0px,#4b4b4b 9.4px,#bcbcbc 14.8px,#e1e1e1 20.1px,#5a5a5a 25.5px,#2d2d2d 30.9px,#222222 36.3px,#151515 41.7px,#0a0a0a 52.4px,#0a0a0a 84.7px)"></i><i style="left:71.84px;background:linear-gradient(#222222 4.0px,#4b4b4b 9.4px,#bcbcbc 14.8px,#e1e1e1 20.1px,#5a5a5a 25.5px,#2d2d2d 30.9px,#222222 36.3px,#151515 41.7px,#0a0a0a 52.4px,#0a0a0a 84.7px)"></i><i style="left:76.07px;background:linear-gradient(#222222 4.0px,#4b4b4b 9.4px,#bcbcbc 14.8px,#e1e1e1 20.1px,#5a5a5a 25.5px,#2d2d2d 30.9px,#222222 36.3px,#151515 41.7px,#0a0a0a 52.4px,#0a0a0a 84.7px)"></i><i style="left:80.30px;background:linear-gradient(#222222 4.0px,#4b4b4b 9.4px,#bcbcbc 14.8px,#e1e1e1 20.1px,#5a5a5a 25.5px,#2d2d2d 30.9px,#222222 36.3px,#151515 41.7px,#0a0a0a 52.4px,#0a0a0a 84.7px)"></i><i style="left:84.52px;background:linear-gradient(#222222 4.0px,#4b4b4b 9.4px,#dadada 14.8px,#e8e8e8 20.1px,#5a5a5a 25.5px,#2d2d2d 30.9px,#222222 36.3px,#151515 41.7px,#0a0a0a 52.4px,#0a0a0a 84.7px)"></i><i style="left:88.75px;background:linear-gradient(#222222 4.0px,#4b4b4b 9.4px,#e8e8e8 14.8px,#e8e8e8 20.1px,#5a5a5a 25.5px,#2d2d2d 30.9px,#222222 36.3px,#151515 41.7px,#0a0a0a 52.4px,#0a0a0a 84.7px)"></i><i style="left:92.97px;background:linear-gradient(#222222 4.0px,#4b4b4b 9.4px,#e8e8e8 14.8px,#e8e8e8 20.1px,#5a5a5a 25.5px,#2d2d2d 30.9px,#222222 36.3px,#151515 41.7px,#0a0a0a 52.4px,#0a0a0a 84.7px)"></i><i style="left:97.20px;background:linear-gradient(#222222 4.0px,#4b4b4b 9.4px,#e8e8e8 14.8px,#e8e8e8 20.1px,#5a5a5a 25.5px,#2d2d2d 30.9px,#222222 36.3px,#151515 41.7px,#0a0a0a 52.4px,#0a0a0a 84.7px)"></i><i style="left:101.43px;background:linear-gradient(#222222 4.0px,#4b4b4b 9.4px,#e8e8e8 14.8px,#e8e8e8 20.1px,#5a5a5a 25.5px,#2d2d2d 30.9px,#222222 36.3px,#151515 41.7px,#0a0a0a 52.4px,#0a0a0a 84.7px)"></i><i style="left:105.65px;background:linear-gradient(#222222 4.0px,#4b4b4b 9.4px,#e8e8e8 14.8px,#e8e8e8 20.1px,#5a5a5a 25.5px,#2d2d2d 30.9px,#222222 36.3px,#151515 41.7px,#0a0a0a 52.4px,#0a0a0a 84.7px)"></i></div><svg class="ln" width="97.2" height="80.7" viewBox="0 0 97.2 80.7"><polyline points="0.0,10.8 4.2,10.8 8.5,10.8 12.7,10.8 16.9,10.8 21.1,10.8 25.4,10.8 29.6,10.8 33.8,10.8 38.0,10.8 42.3,10.8 46.5,16.1 50.7,16.1 54.9,16.1 59.2,16.1 63.4,16.1 67.6,16.1 71.8,16.1 76.1,16.1 80.3,10.8 84.5,10.8 88.7,10.8 93.0,10.8 97.2,10.8" fill="none" stroke="#000" stroke-opacity=".85" stroke-width="1.4" stroke-linejoin="miter"/></svg></div>
<div class="fr" style="left:444.7px;top:394.0px"></div>
<div class="t" style="left:453.8px;width:80px;text-align:center;top:383.0px">(d4) Win. - UL</div>
<div class="tk" style="left:442.4px;top:474.8px;width:2.8px;height:0.8px"></div>
<div class="t" style="right:108.4px;top:469.9px">N</div>
<div class="tk" style="left:442.4px;top:464.0px;width:2.8px;height:0.8px"></div>
<div class="t" style="right:108.4px;top:459.1px">NE</div>
<div class="tk" style="left:442.4px;top:453.3px;width:2.8px;height:0.8px"></div>
<div class="t" style="right:108.4px;top:448.4px">E</div>
<div class="tk" style="left:442.4px;top:442.5px;width:2.8px;height:0.8px"></div>
<div class="t" style="right:108.4px;top:437.6px">SE</div>
<div class="tk" style="left:442.4px;top:431.8px;width:2.8px;height:0.8px"></div>
<div class="t" style="right:108.4px;top:426.9px">S</div>
<div class="tk" style="left:442.4px;top:421.0px;width:2.8px;height:0.8px"></div>
<div class="t" style="right:108.4px;top:416.1px">SW</div>
<div class="tk" style="left:442.4px;top:410.2px;width:2.8px;height:0.8px"></div>
<div class="t" style="right:108.4px;top:405.3px">W</div>
<div class="tk" style="left:442.4px;top:399.5px;width:2.8px;height:0.8px"></div>
<div class="t" style="right:108.4px;top:394.6px">NW</div>
<div class="tk" style="left:444.8px;top:475.2px;width:0.8px;height:2.8px"></div>
<div class="t" style="left:430.2px;width:30px;text-align:center;top:479.2px">00</div>
<div class="tk" style="left:465.9px;top:475.2px;width:0.8px;height:2.8px"></div>
<div class="t" style="left:451.3px;width:30px;text-align:center;top:479.2px">05</div>
<div class="tk" style="left:487.1px;top:475.2px;width:0.8px;height:2.8px"></div>
<div class="t" style="left:472.5px;width:30px;text-align:center;top:479.2px">10</div>
<div class="tk" style="left:508.2px;top:475.2px;width:0.8px;height:2.8px"></div>
<div class="t" style="left:493.6px;width:30px;text-align:center;top:479.2px">15</div>
<div class="tk" style="left:529.3px;top:475.2px;width:0.8px;height:2.8px"></div>
<div class="t" style="left:514.7px;width:30px;text-align:center;top:479.2px">20</div>
<div class="t" style="left:463.8px;width:60px;text-align:center;top:491.2px">Local time</div>
<div class="t" style="left:401.8px;top:429.8px;width:30px;text-align:center;transform-origin:50% 50%;transform:rotate(-90deg) scaleY(1.08)">HWD</div>
<div style="position:absolute;left:197.0px;top:516.0px;width:177.0px;height:7.6px;background:linear-gradient(90deg,#e2eafd 0.00%,#d9e3fc 1.67%,#cfddfc 3.33%,#c6d6fb 5.00%,#bdcffa 6.67%,#b3c9f9 8.33%,#aac2f8 10.00%,#a3bbf7 11.67%,#9bb4f5 13.33%,#94adf4 15.00%,#8ca6f3 16.67%,#859ef1 18.33%,#7d97f0 20.00%,#708ff0 21.67%,#6488f0 23.33%,#5780f0 25.00%,#4a78f0 26.67%,#3a73f0 28.33%,#2a6ef0 30.00%,#1a69f0 31.67%,#0a64f0 33.33%,#0968d3 35.00%,#096cb7 36.67%,#08709a 38.33%,#117d85 40.00%,#1a8a70 41.67%,#2d9d58 43.33%,#40b040 45.00%,#54c430 46.67%,#68d820 48.33%,#73e01b 50.00%,#7de815 51.67%,#88f010 53.33%,#92f00c 55.00%,#9cf008 56.67%,#a6f004 58.33%,#b0f000 60.00%,#c0f000 61.67%,#d0f000 63.33%,#e0f000 65.00%,#f0f000 66.67%,#f2ea00 68.33%,#f4e400 70.00%,#f6de00 71.67%,#f8d800 73.33%,#f8cf00 75.00%,#f8c500 76.67%,#f8bc00 78.33%,#f8b300 80.00%,#f8a900 81.67%,#f8a000 83.33%,#f69300 85.00%,#f58600 86.67%,#f37a00 88.33%,#f26d00 90.00%,#f06000 91.67%,#ee5303 93.33%,#ed4606 95.00%,#eb3a0a 96.67%,#ea2d0d 98.33%,#e82010 100.00%);outline:1px solid rgba(70,70,80,.8)"></div>
<div class="tk" style="left:196.6px;top:524.6px;width:0.8px;height:1.8px"></div>
<div class="t" style="left:182.0px;width:30px;text-align:center;top:526.2px">0</div>
<div class="tk" style="left:226.1px;top:524.6px;width:0.8px;height:1.8px"></div>
<div class="t" style="left:211.5px;width:30px;text-align:center;top:526.2px">5</div>
<div class="tk" style="left:255.6px;top:524.6px;width:0.8px;height:1.8px"></div>
<div class="t" style="left:241.0px;width:30px;text-align:center;top:526.2px">10</div>
<div class="tk" style="left:285.1px;top:524.6px;width:0.8px;height:1.8px"></div>
<div class="t" style="left:270.5px;width:30px;text-align:center;top:526.2px">15</div>
<div class="tk" style="left:314.6px;top:524.6px;width:0.8px;height:1.8px"></div>
<div class="t" style="left:300.0px;width:30px;text-align:center;top:526.2px">20</div>
<div class="tk" style="left:344.1px;top:524.6px;width:0.8px;height:1.8px"></div>
<div class="t" style="left:329.5px;width:30px;text-align:center;top:526.2px">25</div>
<div class="tk" style="left:373.6px;top:524.6px;width:0.8px;height:1.8px"></div>
<div class="t" style="left:359.0px;width:30px;text-align:center;top:526.2px">30</div>
<div class="t" style="left:235.5px;width:100px;text-align:center;top:539.2px">Probability (%)</div>
</body></html>
